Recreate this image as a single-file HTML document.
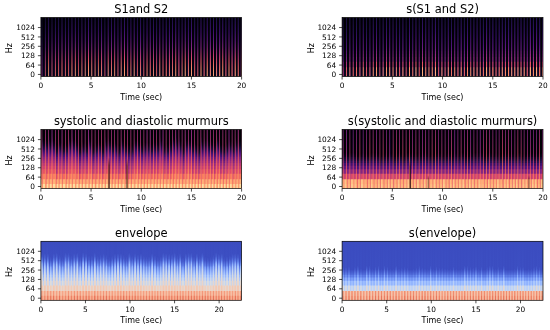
<!DOCTYPE html>
<html><head><meta charset="utf-8"><title>spectrograms</title>
<style>html,body{margin:0;padding:0;background:#fff}body{width:550px;height:330px;overflow:hidden}svg{display:block}text{font-family:'DejaVu Sans','Liberation Sans',sans-serif;fill:#000}</style></head>
<body>
<svg width="550" height="330" viewBox="0 0 550 330">
<rect width="550" height="330" fill="#fff"/>
<defs>
<linearGradient id="dk" x1="0" y1="0" x2="0" y2="1"><stop offset="0" stop-color="#1a0a0c" stop-opacity="0"/><stop offset="0.25" stop-color="#1a0a0c" stop-opacity="0.9"/><stop offset="1" stop-color="#24100c"/></linearGradient>
<linearGradient id="g0_0" x1="0" y1="0" x2="0" y2="1"><stop offset="0.008333" stop-color="#160d38"/><stop offset="0.225" stop-color="#270d51"/><stop offset="0.4083" stop-color="#451163"/><stop offset="0.525" stop-color="#601c68"/><stop offset="0.7083" stop-color="#9c3160"/><stop offset="0.825" stop-color="#b64655"/><stop offset="0.975" stop-color="#c05e56"/><stop offset="0.9917" stop-color="#c05e56"/></linearGradient>
<linearGradient id="g0_1" x1="0" y1="0" x2="0" y2="1"><stop offset="0.008333" stop-color="#000004"/><stop offset="0.625" stop-color="#02010a"/><stop offset="0.9917" stop-color="#050416"/></linearGradient>
<linearGradient id="g0_2" x1="0" y1="0" x2="0" y2="1"><stop offset="0.008333" stop-color="#0e0824"/><stop offset="0.2917" stop-color="#1e083a"/><stop offset="0.525" stop-color="#3d1245"/><stop offset="0.775" stop-color="#6e283e"/><stop offset="0.9917" stop-color="#7b3d40"/></linearGradient>
<linearGradient id="g0_3" x1="0" y1="0" x2="0" y2="1"><stop offset="0.008333" stop-color="#050411"/><stop offset="0.3583" stop-color="#0d0722"/><stop offset="0.6917" stop-color="#280d3d"/><stop offset="0.9917" stop-color="#3d1248"/></linearGradient>
<linearGradient id="g0_4" x1="0" y1="0" x2="0" y2="1"><stop offset="0.008333" stop-color="#0b071e"/><stop offset="0.3417" stop-color="#1c0933"/><stop offset="0.5583" stop-color="#381040"/><stop offset="0.7917" stop-color="#5c2240"/><stop offset="0.9917" stop-color="#663044"/></linearGradient>
<linearGradient id="g0_5" x1="0" y1="0" x2="0" y2="1"><stop offset="0.008333" stop-color="#080415"/><stop offset="0.3917" stop-color="#170625"/><stop offset="0.6417" stop-color="#2f0f29"/><stop offset="0.875" stop-color="#411d28"/><stop offset="0.9917" stop-color="#43242b"/></linearGradient>
<linearGradient id="g0_6" x1="0" y1="0" x2="0" y2="1"><stop offset="0.008333" stop-color="#231150"/><stop offset="0.2083" stop-color="#39106b"/><stop offset="0.375" stop-color="#5c177d"/><stop offset="0.5083" stop-color="#862780"/><stop offset="0.6417" stop-color="#c63e72"/><stop offset="0.7417" stop-color="#e65c63"/><stop offset="0.8417" stop-color="#f38067"/><stop offset="0.9583" stop-color="#f89f76"/><stop offset="0.9917" stop-color="#f89f76"/></linearGradient>
<linearGradient id="g0_7" x1="0" y1="0" x2="0" y2="1"><stop offset="0.008333" stop-color="#110a2d"/><stop offset="0.2583" stop-color="#220b45"/><stop offset="0.4917" stop-color="#431357"/><stop offset="0.675" stop-color="#74245a"/><stop offset="0.825" stop-color="#913653"/><stop offset="0.9917" stop-color="#9c4754"/></linearGradient>
<linearGradient id="g0_8" x1="0" y1="0" x2="0" y2="1"><stop offset="0.008333" stop-color="#1b0d3f"/><stop offset="0.225" stop-color="#2f0c57"/><stop offset="0.3917" stop-color="#4c1462"/><stop offset="0.5083" stop-color="#681f63"/><stop offset="0.6583" stop-color="#9f3456"/><stop offset="0.7583" stop-color="#b54d4d"/><stop offset="0.8583" stop-color="#bd6953"/><stop offset="0.9583" stop-color="#c07f5f"/><stop offset="0.9917" stop-color="#c07f60"/></linearGradient>
<linearGradient id="g0_9" x1="0" y1="0" x2="0" y2="1"><stop offset="0.008333" stop-color="#12092b"/><stop offset="0.2583" stop-color="#23083e"/><stop offset="0.4917" stop-color="#421346"/><stop offset="0.7083" stop-color="#752b3d"/><stop offset="0.8583" stop-color="#814740"/><stop offset="0.975" stop-color="#83564a"/><stop offset="0.9917" stop-color="#83564a"/></linearGradient>
<linearGradient id="g0_10" x1="0" y1="0" x2="0" y2="1"><stop offset="0.008333" stop-color="#04030e"/><stop offset="0.375" stop-color="#0c041c"/><stop offset="0.7917" stop-color="#280d2b"/><stop offset="0.9917" stop-color="#30112f"/></linearGradient>
<linearGradient id="g0_11" x1="0" y1="0" x2="0" y2="1"><stop offset="0.008333" stop-color="#070517"/><stop offset="0.3417" stop-color="#13082a"/><stop offset="0.575" stop-color="#2a0c3e"/><stop offset="0.8583" stop-color="#4b1845"/><stop offset="0.9917" stop-color="#521d46"/></linearGradient>
<linearGradient id="g0_12" x1="0" y1="0" x2="0" y2="1"><stop offset="0.008333" stop-color="#010108"/><stop offset="0.5083" stop-color="#070414"/><stop offset="0.8583" stop-color="#14072a"/><stop offset="0.9917" stop-color="#17082e"/></linearGradient>
<linearGradient id="g0_13" x1="0" y1="0" x2="0" y2="1"><stop offset="0.008333" stop-color="#1c0f44"/><stop offset="0.225" stop-color="#320e60"/><stop offset="0.375" stop-color="#4d1570"/><stop offset="0.5083" stop-color="#712178"/><stop offset="0.6417" stop-color="#a93472"/><stop offset="0.7583" stop-color="#cb4e65"/><stop offset="0.8583" stop-color="#d86967"/><stop offset="0.9583" stop-color="#de8071"/><stop offset="0.9917" stop-color="#de8071"/></linearGradient>
<linearGradient id="g0_14" x1="0" y1="0" x2="0" y2="1"><stop offset="0.008333" stop-color="#170b37"/><stop offset="0.2417" stop-color="#2a0c4e"/><stop offset="0.4083" stop-color="#44145b"/><stop offset="0.525" stop-color="#601c5f"/><stop offset="0.675" stop-color="#8f3055"/><stop offset="0.7917" stop-color="#a24e54"/><stop offset="0.975" stop-color="#aa6c65"/><stop offset="0.9917" stop-color="#aa6c65"/></linearGradient>
<linearGradient id="g0_15" x1="0" y1="0" x2="0" y2="1"><stop offset="0.008333" stop-color="#0a0519"/><stop offset="0.375" stop-color="#1a0827"/><stop offset="0.575" stop-color="#30102b"/><stop offset="0.7583" stop-color="#43202a"/><stop offset="0.9917" stop-color="#48343a"/></linearGradient>
<clipPath id="c0"><rect x="40.90" y="17.55" width="200.70" height="59.00"/></clipPath>
<linearGradient id="g1_0" x1="0" y1="0" x2="0" y2="1"><stop offset="0.008333" stop-color="#000004"/><stop offset="0.6083" stop-color="#010107"/><stop offset="0.825" stop-color="#03030f"/><stop offset="0.8583" stop-color="#070519"/><stop offset="0.9083" stop-color="#070519"/><stop offset="0.9417" stop-color="#09071e"/><stop offset="0.9917" stop-color="#09071e"/></linearGradient>
<linearGradient id="g1_1" x1="0" y1="0" x2="0" y2="1"><stop offset="0.008333" stop-color="#221150"/><stop offset="0.225" stop-color="#37106b"/><stop offset="0.4417" stop-color="#5d177e"/><stop offset="0.525" stop-color="#6e1e81"/><stop offset="0.5417" stop-color="#762181"/><stop offset="0.5583" stop-color="#762181"/><stop offset="0.575" stop-color="#832681"/><stop offset="0.6083" stop-color="#872781"/><stop offset="0.625" stop-color="#942b80"/><stop offset="0.6583" stop-color="#942b80"/><stop offset="0.675" stop-color="#a7327d"/><stop offset="0.725" stop-color="#a7327d"/><stop offset="0.7417" stop-color="#b73a76"/><stop offset="0.7583" stop-color="#e55463"/><stop offset="0.825" stop-color="#e55463"/><stop offset="0.8417" stop-color="#f79271"/><stop offset="0.8583" stop-color="#fda775"/><stop offset="0.9083" stop-color="#fda775"/><stop offset="0.925" stop-color="#fdb07b"/><stop offset="0.9917" stop-color="#fdb07b"/></linearGradient>
<linearGradient id="g1_2" x1="0" y1="0" x2="0" y2="1"><stop offset="0.008333" stop-color="#0d0822"/><stop offset="0.3583" stop-color="#1e0838"/><stop offset="0.5583" stop-color="#300c41"/><stop offset="0.5917" stop-color="#360f43"/><stop offset="0.6417" stop-color="#3d1145"/><stop offset="0.6583" stop-color="#3d1145"/><stop offset="0.675" stop-color="#461546"/><stop offset="0.725" stop-color="#461546"/><stop offset="0.7417" stop-color="#4d1845"/><stop offset="0.7583" stop-color="#622043"/><stop offset="0.825" stop-color="#622043"/><stop offset="0.8417" stop-color="#753645"/><stop offset="0.8583" stop-color="#7b3d45"/><stop offset="0.9083" stop-color="#7b3d45"/><stop offset="0.9583" stop-color="#7e4149"/><stop offset="0.9917" stop-color="#7e4149"/></linearGradient>
<linearGradient id="g1_3" x1="0" y1="0" x2="0" y2="1"><stop offset="0.008333" stop-color="#160e38"/><stop offset="0.2417" stop-color="#241051"/><stop offset="0.5083" stop-color="#491373"/><stop offset="0.5583" stop-color="#511576"/><stop offset="0.575" stop-color="#5b1979"/><stop offset="0.6083" stop-color="#5e1a7a"/><stop offset="0.625" stop-color="#671d7c"/><stop offset="0.6583" stop-color="#671d7c"/><stop offset="0.675" stop-color="#76227e"/><stop offset="0.725" stop-color="#76227e"/><stop offset="0.7417" stop-color="#83267d"/><stop offset="0.7583" stop-color="#a83279"/><stop offset="0.825" stop-color="#a83279"/><stop offset="0.8417" stop-color="#cd4e6b"/><stop offset="0.8583" stop-color="#da5867"/><stop offset="0.9083" stop-color="#da5867"/><stop offset="0.9417" stop-color="#dd5d66"/><stop offset="0.9917" stop-color="#dd5d66"/></linearGradient>
<linearGradient id="g1_4" x1="0" y1="0" x2="0" y2="1"><stop offset="0.008333" stop-color="#130a2f"/><stop offset="0.3083" stop-color="#250b47"/><stop offset="0.525" stop-color="#3e1354"/><stop offset="0.5583" stop-color="#421456"/><stop offset="0.575" stop-color="#4a1759"/><stop offset="0.6083" stop-color="#4d1759"/><stop offset="0.625" stop-color="#551a5b"/><stop offset="0.6583" stop-color="#551a5b"/><stop offset="0.675" stop-color="#611d5d"/><stop offset="0.725" stop-color="#611d5d"/><stop offset="0.7417" stop-color="#6b215c"/><stop offset="0.7583" stop-color="#882d56"/><stop offset="0.825" stop-color="#882d56"/><stop offset="0.8417" stop-color="#9b505e"/><stop offset="0.8583" stop-color="#a15b60"/><stop offset="0.9083" stop-color="#a15b60"/><stop offset="0.9417" stop-color="#a46064"/><stop offset="0.9917" stop-color="#a46064"/></linearGradient>
<linearGradient id="g1_5" x1="0" y1="0" x2="0" y2="1"><stop offset="0.008333" stop-color="#03020b"/><stop offset="0.5583" stop-color="#0a0418"/><stop offset="0.7083" stop-color="#110623"/><stop offset="0.7417" stop-color="#130625"/><stop offset="0.7583" stop-color="#19082a"/><stop offset="0.825" stop-color="#19082a"/><stop offset="0.8417" stop-color="#240d32"/><stop offset="0.9917" stop-color="#2b1039"/></linearGradient>
<linearGradient id="g1_6" x1="0" y1="0" x2="0" y2="1"><stop offset="0.008333" stop-color="#190e3e"/><stop offset="0.2417" stop-color="#2b0d57"/><stop offset="0.4917" stop-color="#4d1569"/><stop offset="0.5417" stop-color="#5a1a6c"/><stop offset="0.5583" stop-color="#5a1a6c"/><stop offset="0.575" stop-color="#641e6e"/><stop offset="0.6083" stop-color="#681f6f"/><stop offset="0.625" stop-color="#712370"/><stop offset="0.6583" stop-color="#712370"/><stop offset="0.675" stop-color="#812870"/><stop offset="0.725" stop-color="#812870"/><stop offset="0.7417" stop-color="#8e2d6d"/><stop offset="0.7583" stop-color="#b53d64"/><stop offset="0.825" stop-color="#b53d64"/><stop offset="0.8417" stop-color="#ca6b6b"/><stop offset="0.8583" stop-color="#d17b6d"/><stop offset="0.9083" stop-color="#d17b6d"/><stop offset="0.925" stop-color="#d38171"/><stop offset="0.9917" stop-color="#d38171"/></linearGradient>
<linearGradient id="g1_7" x1="0" y1="0" x2="0" y2="1"><stop offset="0.008333" stop-color="#1f114a"/><stop offset="0.225" stop-color="#321065"/><stop offset="0.4417" stop-color="#55157c"/><stop offset="0.525" stop-color="#671b80"/><stop offset="0.5417" stop-color="#6e1e81"/><stop offset="0.5583" stop-color="#6e1e81"/><stop offset="0.575" stop-color="#7b2381"/><stop offset="0.6083" stop-color="#7f2481"/><stop offset="0.625" stop-color="#8a2881"/><stop offset="0.6583" stop-color="#8a2881"/><stop offset="0.675" stop-color="#9c2e7e"/><stop offset="0.725" stop-color="#9c2e7e"/><stop offset="0.7417" stop-color="#ab3579"/><stop offset="0.7583" stop-color="#d94a69"/><stop offset="0.825" stop-color="#d94a69"/><stop offset="0.8417" stop-color="#f2806c"/><stop offset="0.8583" stop-color="#fa936c"/><stop offset="0.9083" stop-color="#fa936c"/><stop offset="0.925" stop-color="#fb9a70"/><stop offset="0.9917" stop-color="#fb9a70"/></linearGradient>
<linearGradient id="g1_8" x1="0" y1="0" x2="0" y2="1"><stop offset="0.008333" stop-color="#1d1147"/><stop offset="0.225" stop-color="#2f1162"/><stop offset="0.4417" stop-color="#52137c"/><stop offset="0.525" stop-color="#621980"/><stop offset="0.5417" stop-color="#691c81"/><stop offset="0.5583" stop-color="#691c81"/><stop offset="0.575" stop-color="#752181"/><stop offset="0.6083" stop-color="#792281"/><stop offset="0.625" stop-color="#832681"/><stop offset="0.6583" stop-color="#832681"/><stop offset="0.675" stop-color="#952c80"/><stop offset="0.725" stop-color="#952c80"/><stop offset="0.7417" stop-color="#a5327b"/><stop offset="0.7583" stop-color="#d3436e"/><stop offset="0.825" stop-color="#d3436e"/><stop offset="0.8417" stop-color="#f17464"/><stop offset="0.8583" stop-color="#fb8461"/><stop offset="0.9083" stop-color="#fb8461"/><stop offset="0.925" stop-color="#fc8c64"/><stop offset="0.9917" stop-color="#fc8c64"/></linearGradient>
<linearGradient id="g1_9" x1="0" y1="0" x2="0" y2="1"><stop offset="0.008333" stop-color="#0f0927"/><stop offset="0.325" stop-color="#1e0a40"/><stop offset="0.5583" stop-color="#360f50"/><stop offset="0.575" stop-color="#3d1253"/><stop offset="0.6083" stop-color="#3f1254"/><stop offset="0.625" stop-color="#451556"/><stop offset="0.6583" stop-color="#451556"/><stop offset="0.675" stop-color="#501859"/><stop offset="0.725" stop-color="#501859"/><stop offset="0.7417" stop-color="#581b59"/><stop offset="0.7583" stop-color="#722359"/><stop offset="0.825" stop-color="#722359"/><stop offset="0.8417" stop-color="#8c3856"/><stop offset="0.8583" stop-color="#953e55"/><stop offset="0.9083" stop-color="#953e55"/><stop offset="0.9583" stop-color="#984357"/><stop offset="0.9917" stop-color="#984357"/></linearGradient>
<linearGradient id="g1_10" x1="0" y1="0" x2="0" y2="1"><stop offset="0.008333" stop-color="#140c33"/><stop offset="0.2917" stop-color="#260c4e"/><stop offset="0.525" stop-color="#441160"/><stop offset="0.5583" stop-color="#491361"/><stop offset="0.575" stop-color="#521763"/><stop offset="0.6083" stop-color="#551863"/><stop offset="0.625" stop-color="#5d1b64"/><stop offset="0.6583" stop-color="#5d1b64"/><stop offset="0.675" stop-color="#691f65"/><stop offset="0.725" stop-color="#691f65"/><stop offset="0.7417" stop-color="#742363"/><stop offset="0.7583" stop-color="#95305d"/><stop offset="0.825" stop-color="#95305d"/><stop offset="0.8417" stop-color="#b04f58"/><stop offset="0.8583" stop-color="#b95957"/><stop offset="0.9083" stop-color="#b95957"/><stop offset="0.9417" stop-color="#bc5e59"/><stop offset="0.9917" stop-color="#bc5e59"/></linearGradient>
<linearGradient id="g1_11" x1="0" y1="0" x2="0" y2="1"><stop offset="0.008333" stop-color="#070414"/><stop offset="0.525" stop-color="#170624"/><stop offset="0.6583" stop-color="#210a29"/><stop offset="0.6917" stop-color="#250c2c"/><stop offset="0.7417" stop-color="#290e2c"/><stop offset="0.7583" stop-color="#35132d"/><stop offset="0.825" stop-color="#35132d"/><stop offset="0.8417" stop-color="#421f33"/><stop offset="0.8917" stop-color="#462335"/><stop offset="0.975" stop-color="#49263a"/><stop offset="0.9917" stop-color="#49263a"/></linearGradient>
<linearGradient id="g1_12" x1="0" y1="0" x2="0" y2="1"><stop offset="0.008333" stop-color="#130c33"/><stop offset="0.2583" stop-color="#220e4c"/><stop offset="0.5083" stop-color="#421168"/><stop offset="0.5583" stop-color="#49146a"/><stop offset="0.575" stop-color="#52186d"/><stop offset="0.6083" stop-color="#55196e"/><stop offset="0.625" stop-color="#5d1c70"/><stop offset="0.6583" stop-color="#5d1c70"/><stop offset="0.675" stop-color="#6b2172"/><stop offset="0.725" stop-color="#6b2172"/><stop offset="0.7417" stop-color="#762572"/><stop offset="0.7583" stop-color="#992f72"/><stop offset="0.825" stop-color="#992f72"/><stop offset="0.8417" stop-color="#bc4768"/><stop offset="0.8583" stop-color="#c84f64"/><stop offset="0.9083" stop-color="#c84f64"/><stop offset="0.9417" stop-color="#cb5464"/><stop offset="0.9917" stop-color="#cb5464"/></linearGradient>
<linearGradient id="g1_13" x1="0" y1="0" x2="0" y2="1"><stop offset="0.008333" stop-color="#0a071e"/><stop offset="0.3083" stop-color="#130b30"/><stop offset="0.5583" stop-color="#270b4a"/><stop offset="0.6417" stop-color="#330f52"/><stop offset="0.6583" stop-color="#330f52"/><stop offset="0.675" stop-color="#3b1257"/><stop offset="0.725" stop-color="#3b1257"/><stop offset="0.7417" stop-color="#421359"/><stop offset="0.7583" stop-color="#561960"/><stop offset="0.825" stop-color="#561960"/><stop offset="0.8417" stop-color="#702260"/><stop offset="0.8583" stop-color="#792461"/><stop offset="0.9083" stop-color="#792461"/><stop offset="0.9417" stop-color="#7e2662"/><stop offset="0.9917" stop-color="#7e2662"/></linearGradient>
<linearGradient id="g1_14" x1="0" y1="0" x2="0" y2="1"><stop offset="0.008333" stop-color="#0a061c"/><stop offset="0.4583" stop-color="#1c0931"/><stop offset="0.6083" stop-color="#2b0d3b"/><stop offset="0.6583" stop-color="#2f0e3d"/><stop offset="0.675" stop-color="#361041"/><stop offset="0.725" stop-color="#361041"/><stop offset="0.7417" stop-color="#3c1341"/><stop offset="0.7583" stop-color="#4e1942"/><stop offset="0.825" stop-color="#4e1942"/><stop offset="0.8417" stop-color="#5e2a48"/><stop offset="0.875" stop-color="#63304a"/><stop offset="0.9917" stop-color="#66344e"/></linearGradient>
<linearGradient id="g1_15" x1="0" y1="0" x2="0" y2="1"><stop offset="0.008333" stop-color="#170d38"/><stop offset="0.2583" stop-color="#280c51"/><stop offset="0.5083" stop-color="#4a1362"/><stop offset="0.5583" stop-color="#521663"/><stop offset="0.575" stop-color="#5b1a65"/><stop offset="0.6083" stop-color="#5e1b65"/><stop offset="0.625" stop-color="#671e65"/><stop offset="0.6583" stop-color="#671e65"/><stop offset="0.675" stop-color="#752365"/><stop offset="0.725" stop-color="#752365"/><stop offset="0.7417" stop-color="#802862"/><stop offset="0.7583" stop-color="#a43759"/><stop offset="0.825" stop-color="#a43759"/><stop offset="0.8417" stop-color="#ba5f5a"/><stop offset="0.8583" stop-color="#c16d5b"/><stop offset="0.9083" stop-color="#c16d5b"/><stop offset="0.925" stop-color="#c3735f"/><stop offset="0.9917" stop-color="#c3735f"/></linearGradient>
<linearGradient id="g1_16" x1="0" y1="0" x2="0" y2="1"><stop offset="0.008333" stop-color="#110b2e"/><stop offset="0.2583" stop-color="#1f0d44"/><stop offset="0.525" stop-color="#3d0e5d"/><stop offset="0.5583" stop-color="#42105f"/><stop offset="0.575" stop-color="#491361"/><stop offset="0.6083" stop-color="#4c1461"/><stop offset="0.625" stop-color="#531763"/><stop offset="0.6583" stop-color="#531763"/><stop offset="0.675" stop-color="#5f1c64"/><stop offset="0.725" stop-color="#5f1c64"/><stop offset="0.7417" stop-color="#691f63"/><stop offset="0.7583" stop-color="#87295f"/><stop offset="0.825" stop-color="#87295f"/><stop offset="0.8417" stop-color="#a63f55"/><stop offset="0.8583" stop-color="#b14652"/><stop offset="0.9083" stop-color="#b14652"/><stop offset="0.9417" stop-color="#b54b52"/><stop offset="0.9917" stop-color="#b54b52"/></linearGradient>
<linearGradient id="g1_17" x1="0" y1="0" x2="0" y2="1"><stop offset="0.008333" stop-color="#100928"/><stop offset="0.3417" stop-color="#23083d"/><stop offset="0.5583" stop-color="#381044"/><stop offset="0.575" stop-color="#3f1246"/><stop offset="0.6083" stop-color="#411346"/><stop offset="0.6417" stop-color="#471547"/><stop offset="0.6583" stop-color="#471547"/><stop offset="0.675" stop-color="#511948"/><stop offset="0.725" stop-color="#511948"/><stop offset="0.7417" stop-color="#591d46"/><stop offset="0.7583" stop-color="#712740"/><stop offset="0.825" stop-color="#712740"/><stop offset="0.8417" stop-color="#814647"/><stop offset="0.8583" stop-color="#86504a"/><stop offset="0.9083" stop-color="#86504a"/><stop offset="0.9417" stop-color="#88554f"/><stop offset="0.9917" stop-color="#88554f"/></linearGradient>
<linearGradient id="g1_18" x1="0" y1="0" x2="0" y2="1"><stop offset="0.008333" stop-color="#190f3f"/><stop offset="0.225" stop-color="#281158"/><stop offset="0.4583" stop-color="#491276"/><stop offset="0.5417" stop-color="#5d187d"/><stop offset="0.5583" stop-color="#5d187d"/><stop offset="0.575" stop-color="#671c7f"/><stop offset="0.6083" stop-color="#6b1d7f"/><stop offset="0.625" stop-color="#752180"/><stop offset="0.6583" stop-color="#752180"/><stop offset="0.675" stop-color="#852680"/><stop offset="0.725" stop-color="#852680"/><stop offset="0.7417" stop-color="#922b7e"/><stop offset="0.7583" stop-color="#bc3975"/><stop offset="0.825" stop-color="#bc3975"/><stop offset="0.8417" stop-color="#e05e67"/><stop offset="0.8583" stop-color="#ec6a62"/><stop offset="0.9083" stop-color="#ec6a62"/><stop offset="0.925" stop-color="#ee7163"/><stop offset="0.9917" stop-color="#ee7163"/></linearGradient>
<linearGradient id="g1_19" x1="0" y1="0" x2="0" y2="1"><stop offset="0.008333" stop-color="#13092d"/><stop offset="0.325" stop-color="#260940"/><stop offset="0.525" stop-color="#3d1246"/><stop offset="0.5583" stop-color="#411347"/><stop offset="0.575" stop-color="#481648"/><stop offset="0.6083" stop-color="#4a1748"/><stop offset="0.625" stop-color="#511949"/><stop offset="0.6583" stop-color="#511949"/><stop offset="0.675" stop-color="#5d1d49"/><stop offset="0.725" stop-color="#5d1d49"/><stop offset="0.7417" stop-color="#652347"/><stop offset="0.7583" stop-color="#7e343f"/><stop offset="0.825" stop-color="#7e343f"/><stop offset="0.8417" stop-color="#875957"/><stop offset="0.8583" stop-color="#8a665e"/><stop offset="0.9083" stop-color="#8a665e"/><stop offset="0.925" stop-color="#8c6a66"/><stop offset="0.9917" stop-color="#8c6a66"/></linearGradient>
<clipPath id="c1"><rect x="342.10" y="17.55" width="200.90" height="59.00"/></clipPath>
<linearGradient id="g2_0" x1="0" y1="0" x2="0" y2="1"><stop offset="0.008333" stop-color="#000004"/><stop offset="0.2583" stop-color="#010106"/><stop offset="0.325" stop-color="#060519"/><stop offset="0.375" stop-color="#120d32"/><stop offset="0.4417" stop-color="#38106c"/><stop offset="0.4583" stop-color="#400f73"/><stop offset="0.475" stop-color="#53137c"/><stop offset="0.4917" stop-color="#58157d"/><stop offset="0.5083" stop-color="#671b80"/><stop offset="0.525" stop-color="#6c1d81"/><stop offset="0.5417" stop-color="#7d2482"/><stop offset="0.5583" stop-color="#7d2482"/><stop offset="0.575" stop-color="#942c80"/><stop offset="0.5917" stop-color="#942c80"/><stop offset="0.6083" stop-color="#9b2e7f"/><stop offset="0.625" stop-color="#b0357b"/><stop offset="0.6583" stop-color="#b0357b"/><stop offset="0.675" stop-color="#c73d73"/><stop offset="0.6917" stop-color="#ce4070"/><stop offset="0.725" stop-color="#ce4070"/><stop offset="0.7417" stop-color="#d74a6b"/><stop offset="0.7583" stop-color="#f4675c"/><stop offset="0.825" stop-color="#f4675c"/><stop offset="0.8417" stop-color="#fc9c70"/><stop offset="0.8583" stop-color="#fead76"/><stop offset="0.9083" stop-color="#fead76"/><stop offset="0.925" stop-color="#fddea0"/><stop offset="0.9917" stop-color="#fddea0"/></linearGradient>
<linearGradient id="g2_1" x1="0" y1="0" x2="0" y2="1"><stop offset="0.008333" stop-color="#2a0d24"/><stop offset="0.125" stop-color="#301029"/><stop offset="0.2083" stop-color="#3d1641"/><stop offset="0.275" stop-color="#551c5f"/><stop offset="0.325" stop-color="#6f2172"/><stop offset="0.4083" stop-color="#942d79"/><stop offset="0.5083" stop-color="#b63d74"/><stop offset="0.5417" stop-color="#bf4271"/><stop offset="0.5583" stop-color="#bf4271"/><stop offset="0.575" stop-color="#ca486f"/><stop offset="0.6083" stop-color="#cc4b6e"/><stop offset="0.625" stop-color="#d4516c"/><stop offset="0.6583" stop-color="#d4516c"/><stop offset="0.6917" stop-color="#de5d6a"/><stop offset="0.7417" stop-color="#e1616a"/><stop offset="0.7583" stop-color="#e96d6a"/><stop offset="0.825" stop-color="#e96d6a"/><stop offset="0.8417" stop-color="#f1786a"/><stop offset="0.9083" stop-color="#f37c69"/><stop offset="0.925" stop-color="#fa926e"/><stop offset="0.9917" stop-color="#fa926e"/></linearGradient>
<linearGradient id="g2_2" x1="0" y1="0" x2="0" y2="1"><stop offset="0.008333" stop-color="#5d1e51"/><stop offset="0.1583" stop-color="#6d2159"/><stop offset="0.275" stop-color="#8b2b6d"/><stop offset="0.3417" stop-color="#a43274"/><stop offset="0.475" stop-color="#cd486c"/><stop offset="0.5583" stop-color="#da5267"/><stop offset="0.575" stop-color="#e15a65"/><stop offset="0.6083" stop-color="#e25d65"/><stop offset="0.625" stop-color="#e76464"/><stop offset="0.6583" stop-color="#e76464"/><stop offset="0.675" stop-color="#ec6d64"/><stop offset="0.7417" stop-color="#ef7566"/><stop offset="0.7583" stop-color="#f38169"/><stop offset="0.825" stop-color="#f38169"/><stop offset="0.8417" stop-color="#f78b6b"/><stop offset="0.9083" stop-color="#f88e6c"/><stop offset="0.925" stop-color="#fb9e72"/><stop offset="0.9917" stop-color="#fb9e72"/></linearGradient>
<linearGradient id="g2_3" x1="0" y1="0" x2="0" y2="1"><stop offset="0.008333" stop-color="#290c22"/><stop offset="0.275" stop-color="#321023"/><stop offset="0.3417" stop-color="#3b1634"/><stop offset="0.3917" stop-color="#491d49"/><stop offset="0.4417" stop-color="#622069"/><stop offset="0.4583" stop-color="#68206e"/><stop offset="0.475" stop-color="#772375"/><stop offset="0.4917" stop-color="#7b2576"/><stop offset="0.5083" stop-color="#872a78"/><stop offset="0.525" stop-color="#8b2c78"/><stop offset="0.5417" stop-color="#993278"/><stop offset="0.5583" stop-color="#993278"/><stop offset="0.575" stop-color="#ac3a77"/><stop offset="0.6083" stop-color="#b13d76"/><stop offset="0.625" stop-color="#c14473"/><stop offset="0.6583" stop-color="#c14473"/><stop offset="0.675" stop-color="#d34c6e"/><stop offset="0.7083" stop-color="#d84f6c"/><stop offset="0.725" stop-color="#d84f6c"/><stop offset="0.7417" stop-color="#e05868"/><stop offset="0.7583" stop-color="#f6715e"/><stop offset="0.825" stop-color="#f6715e"/><stop offset="0.8417" stop-color="#fc9a6e"/><stop offset="0.8583" stop-color="#fea873"/><stop offset="0.9083" stop-color="#fea873"/><stop offset="0.925" stop-color="#fdcf94"/><stop offset="0.9917" stop-color="#fdcf94"/></linearGradient>
<linearGradient id="g2_4" x1="0" y1="0" x2="0" y2="1"><stop offset="0.008333" stop-color="#000004"/><stop offset="0.2083" stop-color="#010106"/><stop offset="0.275" stop-color="#060517"/><stop offset="0.3417" stop-color="#180e3d"/><stop offset="0.3917" stop-color="#341165"/><stop offset="0.425" stop-color="#4c1277"/><stop offset="0.4583" stop-color="#5f187e"/><stop offset="0.475" stop-color="#711f81"/><stop offset="0.4917" stop-color="#752081"/><stop offset="0.5083" stop-color="#832681"/><stop offset="0.525" stop-color="#882781"/><stop offset="0.5417" stop-color="#972d80"/><stop offset="0.5583" stop-color="#972d80"/><stop offset="0.575" stop-color="#ad347b"/><stop offset="0.6083" stop-color="#b3367a"/><stop offset="0.625" stop-color="#c53c74"/><stop offset="0.6583" stop-color="#c53c74"/><stop offset="0.675" stop-color="#d9486a"/><stop offset="0.6917" stop-color="#df4b67"/><stop offset="0.725" stop-color="#df4b67"/><stop offset="0.7417" stop-color="#e55665"/><stop offset="0.7583" stop-color="#f8755d"/><stop offset="0.825" stop-color="#f8755d"/><stop offset="0.8417" stop-color="#fda272"/><stop offset="0.8583" stop-color="#feb179"/><stop offset="0.9083" stop-color="#feb179"/><stop offset="0.925" stop-color="#fddea0"/><stop offset="0.9917" stop-color="#fddea0"/></linearGradient>
<linearGradient id="g2_5" x1="0" y1="0" x2="0" y2="1"><stop offset="0.008333" stop-color="#541940"/><stop offset="0.2917" stop-color="#67203e"/><stop offset="0.3917" stop-color="#792b51"/><stop offset="0.4583" stop-color="#913168"/><stop offset="0.475" stop-color="#9b346d"/><stop offset="0.525" stop-color="#ab3c6f"/><stop offset="0.5417" stop-color="#b4426f"/><stop offset="0.5583" stop-color="#b4426f"/><stop offset="0.575" stop-color="#c24a6e"/><stop offset="0.6083" stop-color="#c64c6e"/><stop offset="0.625" stop-color="#d1536c"/><stop offset="0.6583" stop-color="#d1536c"/><stop offset="0.675" stop-color="#de5c69"/><stop offset="0.725" stop-color="#e25f68"/><stop offset="0.7417" stop-color="#e76566"/><stop offset="0.7583" stop-color="#f87a60"/><stop offset="0.825" stop-color="#f87a60"/><stop offset="0.8417" stop-color="#fc996c"/><stop offset="0.8583" stop-color="#fea370"/><stop offset="0.9083" stop-color="#fea370"/><stop offset="0.925" stop-color="#fec087"/><stop offset="0.9917" stop-color="#fec087"/></linearGradient>
<linearGradient id="g2_6" x1="0" y1="0" x2="0" y2="1"><stop offset="0.008333" stop-color="#000004"/><stop offset="0.1083" stop-color="#020109"/><stop offset="0.175" stop-color="#09061c"/><stop offset="0.2417" stop-color="#1e0d43"/><stop offset="0.2917" stop-color="#381262"/><stop offset="0.3583" stop-color="#60197c"/><stop offset="0.475" stop-color="#982d7f"/><stop offset="0.4917" stop-color="#9b2e7f"/><stop offset="0.5417" stop-color="#b1357a"/><stop offset="0.5583" stop-color="#b1357a"/><stop offset="0.575" stop-color="#bf3a76"/><stop offset="0.6083" stop-color="#c33c74"/><stop offset="0.625" stop-color="#ce4170"/><stop offset="0.6583" stop-color="#ce4170"/><stop offset="0.675" stop-color="#da4a6a"/><stop offset="0.725" stop-color="#de4d68"/><stop offset="0.7417" stop-color="#e25266"/><stop offset="0.7583" stop-color="#ed6162"/><stop offset="0.825" stop-color="#ed6162"/><stop offset="0.8417" stop-color="#f37364"/><stop offset="0.875" stop-color="#f57965"/><stop offset="0.9083" stop-color="#f57965"/><stop offset="0.925" stop-color="#fa9770"/><stop offset="0.9917" stop-color="#fa9770"/></linearGradient>
<linearGradient id="g2_7" x1="0" y1="0" x2="0" y2="1"><stop offset="0.008333" stop-color="#000004"/><stop offset="0.1917" stop-color="#010106"/><stop offset="0.2583" stop-color="#060518"/><stop offset="0.325" stop-color="#170e3b"/><stop offset="0.3917" stop-color="#38116a"/><stop offset="0.425" stop-color="#4d1278"/><stop offset="0.4583" stop-color="#5d177e"/><stop offset="0.475" stop-color="#6b1d80"/><stop offset="0.4917" stop-color="#6f1e81"/><stop offset="0.5083" stop-color="#7b2381"/><stop offset="0.525" stop-color="#7f2481"/><stop offset="0.5417" stop-color="#8c2980"/><stop offset="0.5583" stop-color="#8c2980"/><stop offset="0.575" stop-color="#9e2f7e"/><stop offset="0.6083" stop-color="#a3307d"/><stop offset="0.625" stop-color="#b13679"/><stop offset="0.6583" stop-color="#b13679"/><stop offset="0.675" stop-color="#c23e73"/><stop offset="0.7083" stop-color="#c74071"/><stop offset="0.725" stop-color="#c74071"/><stop offset="0.7417" stop-color="#ce476f"/><stop offset="0.7583" stop-color="#e15a68"/><stop offset="0.825" stop-color="#e15a68"/><stop offset="0.8417" stop-color="#ef786c"/><stop offset="0.8583" stop-color="#f3826d"/><stop offset="0.9083" stop-color="#f3826d"/><stop offset="0.925" stop-color="#faa77e"/><stop offset="0.9917" stop-color="#faa77e"/></linearGradient>
<linearGradient id="g2_8" x1="0" y1="0" x2="0" y2="1"><stop offset="0.008333" stop-color="#7a245f"/><stop offset="0.2083" stop-color="#8f2c62"/><stop offset="0.3583" stop-color="#b73a6f"/><stop offset="0.5083" stop-color="#d85166"/><stop offset="0.5583" stop-color="#de5765"/><stop offset="0.575" stop-color="#e35e64"/><stop offset="0.6083" stop-color="#e56064"/><stop offset="0.625" stop-color="#e96763"/><stop offset="0.6583" stop-color="#e96763"/><stop offset="0.6917" stop-color="#ef7163"/><stop offset="0.7417" stop-color="#f17564"/><stop offset="0.7583" stop-color="#f58066"/><stop offset="0.825" stop-color="#f58066"/><stop offset="0.8417" stop-color="#f98967"/><stop offset="0.9083" stop-color="#fa8c68"/><stop offset="0.925" stop-color="#fc9a6c"/><stop offset="0.9917" stop-color="#fc9a6c"/></linearGradient>
<linearGradient id="g2_9" x1="0" y1="0" x2="0" y2="1"><stop offset="0.008333" stop-color="#290c22"/><stop offset="0.2083" stop-color="#300f25"/><stop offset="0.275" stop-color="#3a1536"/><stop offset="0.375" stop-color="#5b1e63"/><stop offset="0.425" stop-color="#732272"/><stop offset="0.475" stop-color="#8a2b78"/><stop offset="0.525" stop-color="#983278"/><stop offset="0.5417" stop-color="#a23677"/><stop offset="0.5583" stop-color="#a23677"/><stop offset="0.575" stop-color="#ae3c76"/><stop offset="0.6083" stop-color="#b23e75"/><stop offset="0.625" stop-color="#bc4373"/><stop offset="0.6583" stop-color="#bc4373"/><stop offset="0.675" stop-color="#c84a70"/><stop offset="0.7417" stop-color="#d0516e"/><stop offset="0.7583" stop-color="#df5e6b"/><stop offset="0.825" stop-color="#df5e6b"/><stop offset="0.8417" stop-color="#ed7169"/><stop offset="0.8583" stop-color="#f27868"/><stop offset="0.9083" stop-color="#f27868"/><stop offset="0.925" stop-color="#fa926e"/><stop offset="0.9917" stop-color="#fa926e"/></linearGradient>
<linearGradient id="g2_10" x1="0" y1="0" x2="0" y2="1"><stop offset="0.008333" stop-color="#2a0c22"/><stop offset="0.1917" stop-color="#2f0f24"/><stop offset="0.275" stop-color="#3a1637"/><stop offset="0.3417" stop-color="#501d58"/><stop offset="0.375" stop-color="#611e6a"/><stop offset="0.425" stop-color="#7e2577"/><stop offset="0.4583" stop-color="#8e2c79"/><stop offset="0.475" stop-color="#9b3279"/><stop offset="0.4917" stop-color="#9f3378"/><stop offset="0.5083" stop-color="#a93877"/><stop offset="0.525" stop-color="#ad3977"/><stop offset="0.5417" stop-color="#b83e75"/><stop offset="0.5583" stop-color="#b83e75"/><stop offset="0.575" stop-color="#c84571"/><stop offset="0.6083" stop-color="#cd476f"/><stop offset="0.625" stop-color="#da4f6a"/><stop offset="0.6583" stop-color="#da4f6a"/><stop offset="0.675" stop-color="#e75a64"/><stop offset="0.725" stop-color="#ec5e62"/><stop offset="0.7417" stop-color="#ef6761"/><stop offset="0.7583" stop-color="#fa8160"/><stop offset="0.825" stop-color="#fa8160"/><stop offset="0.8417" stop-color="#fda170"/><stop offset="0.8583" stop-color="#feac76"/><stop offset="0.9083" stop-color="#feac76"/><stop offset="0.925" stop-color="#fdcf94"/><stop offset="0.9917" stop-color="#fdcf94"/></linearGradient>
<linearGradient id="g2_11" x1="0" y1="0" x2="0" y2="1"><stop offset="0.008333" stop-color="#4f1741"/><stop offset="0.225" stop-color="#5d1d42"/><stop offset="0.3417" stop-color="#75285a"/><stop offset="0.425" stop-color="#922e6d"/><stop offset="0.475" stop-color="#a43670"/><stop offset="0.5417" stop-color="#b6426f"/><stop offset="0.5583" stop-color="#b6426f"/><stop offset="0.575" stop-color="#c0496e"/><stop offset="0.6083" stop-color="#c24b6e"/><stop offset="0.625" stop-color="#ca516d"/><stop offset="0.6583" stop-color="#ca516d"/><stop offset="0.6917" stop-color="#d55a6c"/><stop offset="0.7417" stop-color="#d95d6c"/><stop offset="0.7583" stop-color="#e5686a"/><stop offset="0.825" stop-color="#e5686a"/><stop offset="0.8417" stop-color="#f17767"/><stop offset="0.875" stop-color="#f57c65"/><stop offset="0.9083" stop-color="#f57c65"/><stop offset="0.925" stop-color="#fb9168"/><stop offset="0.9917" stop-color="#fb9168"/></linearGradient>
<linearGradient id="g2_12" x1="0" y1="0" x2="0" y2="1"><stop offset="0.008333" stop-color="#782360"/><stop offset="0.2417" stop-color="#8e2b5c"/><stop offset="0.375" stop-color="#a93765"/><stop offset="0.475" stop-color="#c94669"/><stop offset="0.5583" stop-color="#d85366"/><stop offset="0.575" stop-color="#e05a64"/><stop offset="0.6083" stop-color="#e25d64"/><stop offset="0.625" stop-color="#e96463"/><stop offset="0.6583" stop-color="#e96463"/><stop offset="0.6917" stop-color="#f17061"/><stop offset="0.725" stop-color="#f17061"/><stop offset="0.7417" stop-color="#f47662"/><stop offset="0.7583" stop-color="#fa8662"/><stop offset="0.825" stop-color="#fa8662"/><stop offset="0.8417" stop-color="#fd976a"/><stop offset="0.875" stop-color="#fd9d6c"/><stop offset="0.9083" stop-color="#fd9d6c"/><stop offset="0.925" stop-color="#feb07a"/><stop offset="0.9917" stop-color="#feb07a"/></linearGradient>
<linearGradient id="g2_13" x1="0" y1="0" x2="0" y2="1"><stop offset="0.008333" stop-color="#000004"/><stop offset="0.225" stop-color="#010106"/><stop offset="0.275" stop-color="#040311"/><stop offset="0.375" stop-color="#1c1045"/><stop offset="0.425" stop-color="#38106b"/><stop offset="0.4583" stop-color="#4a1178"/><stop offset="0.475" stop-color="#59167d"/><stop offset="0.4917" stop-color="#5d177e"/><stop offset="0.5083" stop-color="#6a1c80"/><stop offset="0.525" stop-color="#6e1e80"/><stop offset="0.5417" stop-color="#7b2381"/><stop offset="0.5583" stop-color="#7b2381"/><stop offset="0.575" stop-color="#8f2a80"/><stop offset="0.6083" stop-color="#942b7f"/><stop offset="0.625" stop-color="#a3317c"/><stop offset="0.6583" stop-color="#a3317c"/><stop offset="0.675" stop-color="#b53877"/><stop offset="0.7083" stop-color="#bb3a75"/><stop offset="0.725" stop-color="#bb3a75"/><stop offset="0.7417" stop-color="#c34072"/><stop offset="0.7583" stop-color="#da5369"/><stop offset="0.825" stop-color="#da5369"/><stop offset="0.8417" stop-color="#ec736c"/><stop offset="0.8583" stop-color="#f27e6c"/><stop offset="0.9083" stop-color="#f27e6c"/><stop offset="0.925" stop-color="#faa47c"/><stop offset="0.9917" stop-color="#faa47c"/></linearGradient>
<linearGradient id="g2_14" x1="0" y1="0" x2="0" y2="1"><stop offset="0.008333" stop-color="#3a1040"/><stop offset="0.175" stop-color="#441343"/><stop offset="0.275" stop-color="#591e57"/><stop offset="0.3583" stop-color="#7d2573"/><stop offset="0.475" stop-color="#aa3774"/><stop offset="0.5417" stop-color="#bc4171"/><stop offset="0.5583" stop-color="#bc4171"/><stop offset="0.575" stop-color="#c6486f"/><stop offset="0.6083" stop-color="#c94a6e"/><stop offset="0.625" stop-color="#d0506c"/><stop offset="0.6583" stop-color="#d0506c"/><stop offset="0.6917" stop-color="#da5b6b"/><stop offset="0.7417" stop-color="#dd5f6b"/><stop offset="0.7583" stop-color="#e76b6a"/><stop offset="0.825" stop-color="#e76b6a"/><stop offset="0.8417" stop-color="#f17868"/><stop offset="0.8917" stop-color="#f47c68"/><stop offset="0.9083" stop-color="#f47c68"/><stop offset="0.925" stop-color="#fa916b"/><stop offset="0.9917" stop-color="#fa916b"/></linearGradient>
<linearGradient id="g2_15" x1="0" y1="0" x2="0" y2="1"><stop offset="0.008333" stop-color="#000004"/><stop offset="0.1917" stop-color="#010107"/><stop offset="0.275" stop-color="#0a0822"/><stop offset="0.3417" stop-color="#22104e"/><stop offset="0.375" stop-color="#341066"/><stop offset="0.4083" stop-color="#4b1278"/><stop offset="0.4583" stop-color="#671b80"/><stop offset="0.475" stop-color="#762181"/><stop offset="0.4917" stop-color="#7a2381"/><stop offset="0.5083" stop-color="#862781"/><stop offset="0.525" stop-color="#8b2881"/><stop offset="0.5417" stop-color="#982d7f"/><stop offset="0.5583" stop-color="#982d7f"/><stop offset="0.575" stop-color="#ac337c"/><stop offset="0.6083" stop-color="#b1357a"/><stop offset="0.625" stop-color="#c13b75"/><stop offset="0.6583" stop-color="#c13b75"/><stop offset="0.675" stop-color="#d2456d"/><stop offset="0.7083" stop-color="#d8486a"/><stop offset="0.725" stop-color="#d8486a"/><stop offset="0.7417" stop-color="#dd5168"/><stop offset="0.7583" stop-color="#ee6962"/><stop offset="0.825" stop-color="#ee6962"/><stop offset="0.8417" stop-color="#f68d6f"/><stop offset="0.8583" stop-color="#f89973"/><stop offset="0.9083" stop-color="#f89973"/><stop offset="0.925" stop-color="#fbc08e"/><stop offset="0.9917" stop-color="#fbc08e"/></linearGradient>
<linearGradient id="g2_16" x1="0" y1="0" x2="0" y2="1"><stop offset="0.008333" stop-color="#2a0c22"/><stop offset="0.275" stop-color="#331023"/><stop offset="0.3917" stop-color="#441b3f"/><stop offset="0.4583" stop-color="#5a215e"/><stop offset="0.475" stop-color="#662268"/><stop offset="0.4917" stop-color="#69236b"/><stop offset="0.5083" stop-color="#742471"/><stop offset="0.525" stop-color="#772672"/><stop offset="0.5417" stop-color="#832a76"/><stop offset="0.5583" stop-color="#832a76"/><stop offset="0.575" stop-color="#923177"/><stop offset="0.6083" stop-color="#963377"/><stop offset="0.625" stop-color="#a33a77"/><stop offset="0.6583" stop-color="#a33a77"/><stop offset="0.675" stop-color="#b04176"/><stop offset="0.725" stop-color="#b54375"/><stop offset="0.7417" stop-color="#bc4774"/><stop offset="0.7583" stop-color="#d3556f"/><stop offset="0.825" stop-color="#d3556f"/><stop offset="0.8417" stop-color="#e96c69"/><stop offset="0.8583" stop-color="#f07368"/><stop offset="0.9083" stop-color="#f07368"/><stop offset="0.925" stop-color="#fa916c"/><stop offset="0.9917" stop-color="#fa916c"/></linearGradient>
<linearGradient id="g2_17" x1="0" y1="0" x2="0" y2="1"><stop offset="0.008333" stop-color="#4f1741"/><stop offset="0.1917" stop-color="#5b1c43"/><stop offset="0.2917" stop-color="#71265a"/><stop offset="0.3583" stop-color="#8c2b70"/><stop offset="0.4583" stop-color="#b43c72"/><stop offset="0.475" stop-color="#be4170"/><stop offset="0.5417" stop-color="#d24c6b"/><stop offset="0.5583" stop-color="#d24c6b"/><stop offset="0.575" stop-color="#de5467"/><stop offset="0.6083" stop-color="#e15766"/><stop offset="0.625" stop-color="#ea5f63"/><stop offset="0.6583" stop-color="#ea5f63"/><stop offset="0.675" stop-color="#f26b60"/><stop offset="0.725" stop-color="#f56f5f"/><stop offset="0.7417" stop-color="#f67660"/><stop offset="0.7583" stop-color="#fc8b63"/><stop offset="0.825" stop-color="#fc8b63"/><stop offset="0.8417" stop-color="#fda16f"/><stop offset="0.8583" stop-color="#fea873"/><stop offset="0.9083" stop-color="#fea873"/><stop offset="0.925" stop-color="#fec288"/><stop offset="0.9917" stop-color="#fec288"/></linearGradient>
<linearGradient id="g2_18" x1="0" y1="0" x2="0" y2="1"><stop offset="0.008333" stop-color="#000004"/><stop offset="0.1917" stop-color="#010107"/><stop offset="0.275" stop-color="#0b0823"/><stop offset="0.325" stop-color="#1b0f42"/><stop offset="0.3583" stop-color="#301161"/><stop offset="0.4083" stop-color="#51137b"/><stop offset="0.4583" stop-color="#6f1e81"/><stop offset="0.475" stop-color="#802581"/><stop offset="0.4917" stop-color="#842681"/><stop offset="0.5083" stop-color="#912b80"/><stop offset="0.525" stop-color="#962c80"/><stop offset="0.5417" stop-color="#a5317d"/><stop offset="0.5583" stop-color="#a5317d"/><stop offset="0.575" stop-color="#b93878"/><stop offset="0.6083" stop-color="#bf3a76"/><stop offset="0.625" stop-color="#d0426f"/><stop offset="0.6583" stop-color="#d0426f"/><stop offset="0.675" stop-color="#e14f66"/><stop offset="0.7083" stop-color="#e75363"/><stop offset="0.725" stop-color="#e75363"/><stop offset="0.7417" stop-color="#ec5d62"/><stop offset="0.7583" stop-color="#fa7d5e"/><stop offset="0.825" stop-color="#fa7d5e"/><stop offset="0.8417" stop-color="#fda573"/><stop offset="0.8583" stop-color="#feb27a"/><stop offset="0.9083" stop-color="#feb27a"/><stop offset="0.925" stop-color="#fddea0"/><stop offset="0.9917" stop-color="#fddea0"/></linearGradient>
<linearGradient id="g2_19" x1="0" y1="0" x2="0" y2="1"><stop offset="0.008333" stop-color="#4b1641"/><stop offset="0.275" stop-color="#5c1c41"/><stop offset="0.3917" stop-color="#712753"/><stop offset="0.4583" stop-color="#852d64"/><stop offset="0.475" stop-color="#8e2f6a"/><stop offset="0.5417" stop-color="#a4386f"/><stop offset="0.5583" stop-color="#a4386f"/><stop offset="0.575" stop-color="#af3f6f"/><stop offset="0.6083" stop-color="#b2426f"/><stop offset="0.625" stop-color="#bb496f"/><stop offset="0.6583" stop-color="#bb496f"/><stop offset="0.6917" stop-color="#c7526f"/><stop offset="0.725" stop-color="#c7526f"/><stop offset="0.7417" stop-color="#cc566e"/><stop offset="0.7583" stop-color="#db626e"/><stop offset="0.825" stop-color="#db626e"/><stop offset="0.8417" stop-color="#ec7269"/><stop offset="0.875" stop-color="#f27767"/><stop offset="0.9083" stop-color="#f27767"/><stop offset="0.925" stop-color="#fb8d67"/><stop offset="0.9917" stop-color="#fb8d67"/></linearGradient>
<linearGradient id="g2_20" x1="0" y1="0" x2="0" y2="1"><stop offset="0.008333" stop-color="#38113c"/><stop offset="0.225" stop-color="#451441"/><stop offset="0.325" stop-color="#591e55"/><stop offset="0.3917" stop-color="#76246f"/><stop offset="0.4583" stop-color="#962d77"/><stop offset="0.475" stop-color="#a23377"/><stop offset="0.4917" stop-color="#a53576"/><stop offset="0.5083" stop-color="#af3975"/><stop offset="0.525" stop-color="#b33b74"/><stop offset="0.5417" stop-color="#bd4072"/><stop offset="0.5583" stop-color="#bd4072"/><stop offset="0.575" stop-color="#cc476e"/><stop offset="0.6083" stop-color="#d0496d"/><stop offset="0.625" stop-color="#dc5169"/><stop offset="0.6583" stop-color="#dc5169"/><stop offset="0.675" stop-color="#e85c64"/><stop offset="0.725" stop-color="#ec6062"/><stop offset="0.7417" stop-color="#ef6861"/><stop offset="0.7583" stop-color="#fa8160"/><stop offset="0.825" stop-color="#fa8160"/><stop offset="0.8417" stop-color="#fd9f6f"/><stop offset="0.8583" stop-color="#fea974"/><stop offset="0.9083" stop-color="#fea974"/><stop offset="0.925" stop-color="#fec88d"/><stop offset="0.9917" stop-color="#fec88d"/></linearGradient>
<linearGradient id="g2_21" x1="0" y1="0" x2="0" y2="1"><stop offset="0.008333" stop-color="#3d123f"/><stop offset="0.125" stop-color="#471544"/><stop offset="0.225" stop-color="#60205d"/><stop offset="0.3083" stop-color="#852776"/><stop offset="0.4083" stop-color="#ab3676"/><stop offset="0.5083" stop-color="#c6456f"/><stop offset="0.5583" stop-color="#ce4b6d"/><stop offset="0.575" stop-color="#d5526b"/><stop offset="0.6083" stop-color="#d7546a"/><stop offset="0.625" stop-color="#dd5a69"/><stop offset="0.6583" stop-color="#dd5a69"/><stop offset="0.6917" stop-color="#e56569"/><stop offset="0.7417" stop-color="#e76869"/><stop offset="0.7583" stop-color="#ee7369"/><stop offset="0.825" stop-color="#ee7369"/><stop offset="0.8583" stop-color="#f57d68"/><stop offset="0.9083" stop-color="#f57d68"/><stop offset="0.925" stop-color="#fa906b"/><stop offset="0.9917" stop-color="#fa906b"/></linearGradient>
<linearGradient id="g2_22" x1="0" y1="0" x2="0" y2="1"><stop offset="0.008333" stop-color="#561a46"/><stop offset="0.2417" stop-color="#652146"/><stop offset="0.3583" stop-color="#7c2a5a"/><stop offset="0.4583" stop-color="#9c356c"/><stop offset="0.475" stop-color="#a5386e"/><stop offset="0.5417" stop-color="#b9446e"/><stop offset="0.5583" stop-color="#b9446e"/><stop offset="0.575" stop-color="#c44b6d"/><stop offset="0.6083" stop-color="#c74d6c"/><stop offset="0.625" stop-color="#cf546b"/><stop offset="0.6583" stop-color="#cf546b"/><stop offset="0.6917" stop-color="#db5e69"/><stop offset="0.725" stop-color="#db5e69"/><stop offset="0.7417" stop-color="#df6368"/><stop offset="0.7583" stop-color="#ea7367"/><stop offset="0.825" stop-color="#ea7367"/><stop offset="0.8417" stop-color="#f4856a"/><stop offset="0.875" stop-color="#f78b6b"/><stop offset="0.9083" stop-color="#f78b6b"/><stop offset="0.925" stop-color="#fca275"/><stop offset="0.9917" stop-color="#fca275"/></linearGradient>
<linearGradient id="g2_23" x1="0" y1="0" x2="0" y2="1"><stop offset="0.008333" stop-color="#010005"/><stop offset="0.175" stop-color="#02010a"/><stop offset="0.2417" stop-color="#09061d"/><stop offset="0.275" stop-color="#100a2d"/><stop offset="0.3417" stop-color="#2e115a"/><stop offset="0.375" stop-color="#42136f"/><stop offset="0.425" stop-color="#661b7e"/><stop offset="0.4583" stop-color="#782181"/><stop offset="0.475" stop-color="#882780"/><stop offset="0.4917" stop-color="#8c2980"/><stop offset="0.5083" stop-color="#992d7f"/><stop offset="0.525" stop-color="#9e2f7e"/><stop offset="0.5417" stop-color="#ac337b"/><stop offset="0.5583" stop-color="#ac337b"/><stop offset="0.575" stop-color="#c03b76"/><stop offset="0.6083" stop-color="#c53d73"/><stop offset="0.625" stop-color="#d5456c"/><stop offset="0.6583" stop-color="#d5456c"/><stop offset="0.675" stop-color="#e55364"/><stop offset="0.7083" stop-color="#ea5861"/><stop offset="0.725" stop-color="#ea5861"/><stop offset="0.7417" stop-color="#ee6261"/><stop offset="0.7583" stop-color="#fa815f"/><stop offset="0.825" stop-color="#fa815f"/><stop offset="0.8417" stop-color="#fda674"/><stop offset="0.8583" stop-color="#feb37a"/><stop offset="0.9083" stop-color="#feb37a"/><stop offset="0.925" stop-color="#fddd9f"/><stop offset="0.9917" stop-color="#fddd9f"/></linearGradient>
<linearGradient id="g2_24" x1="0" y1="0" x2="0" y2="1"><stop offset="0.008333" stop-color="#7b255f"/><stop offset="0.175" stop-color="#8c2b61"/><stop offset="0.2917" stop-color="#a83470"/><stop offset="0.425" stop-color="#d0466b"/><stop offset="0.5417" stop-color="#e95c61"/><stop offset="0.5583" stop-color="#e95c61"/><stop offset="0.575" stop-color="#f0645f"/><stop offset="0.6083" stop-color="#f1675f"/><stop offset="0.625" stop-color="#f56f5d"/><stop offset="0.6583" stop-color="#f56f5d"/><stop offset="0.675" stop-color="#f97a5e"/><stop offset="0.7417" stop-color="#fb8360"/><stop offset="0.7583" stop-color="#fd9366"/><stop offset="0.825" stop-color="#fd9366"/><stop offset="0.8417" stop-color="#fd9e6d"/><stop offset="0.9083" stop-color="#fea26f"/><stop offset="0.925" stop-color="#feb17b"/><stop offset="0.9917" stop-color="#feb17b"/></linearGradient>
<linearGradient id="g2_25" x1="0" y1="0" x2="0" y2="1"><stop offset="0.008333" stop-color="#000004"/><stop offset="0.225" stop-color="#010006"/><stop offset="0.275" stop-color="#040311"/><stop offset="0.3417" stop-color="#120d32"/><stop offset="0.3917" stop-color="#2a115c"/><stop offset="0.4083" stop-color="#37106b"/><stop offset="0.4583" stop-color="#56147d"/><stop offset="0.475" stop-color="#681b80"/><stop offset="0.4917" stop-color="#6c1d81"/><stop offset="0.5083" stop-color="#7b2381"/><stop offset="0.525" stop-color="#802581"/><stop offset="0.5417" stop-color="#8f2a81"/><stop offset="0.5583" stop-color="#8f2a81"/><stop offset="0.575" stop-color="#a6327d"/><stop offset="0.5917" stop-color="#a6327d"/><stop offset="0.6083" stop-color="#ac347c"/><stop offset="0.625" stop-color="#bf3a76"/><stop offset="0.6583" stop-color="#bf3a76"/><stop offset="0.675" stop-color="#d4446d"/><stop offset="0.6917" stop-color="#da476a"/><stop offset="0.725" stop-color="#da476a"/><stop offset="0.7417" stop-color="#e25267"/><stop offset="0.7583" stop-color="#f7715c"/><stop offset="0.825" stop-color="#f7715c"/><stop offset="0.8417" stop-color="#fca071"/><stop offset="0.8583" stop-color="#feb078"/><stop offset="0.9083" stop-color="#feb078"/><stop offset="0.925" stop-color="#fddea0"/><stop offset="0.9917" stop-color="#fddea0"/></linearGradient>
<linearGradient id="g2_26" x1="0" y1="0" x2="0" y2="1"><stop offset="0.008333" stop-color="#000004"/><stop offset="0.1083" stop-color="#020109"/><stop offset="0.175" stop-color="#08061b"/><stop offset="0.2417" stop-color="#1d0d41"/><stop offset="0.2917" stop-color="#371261"/><stop offset="0.3583" stop-color="#5f197c"/><stop offset="0.4583" stop-color="#8f2a7f"/><stop offset="0.475" stop-color="#9a2e7e"/><stop offset="0.4917" stop-color="#9d2f7d"/><stop offset="0.5417" stop-color="#b43778"/><stop offset="0.5583" stop-color="#b43778"/><stop offset="0.575" stop-color="#c23e73"/><stop offset="0.6083" stop-color="#c64072"/><stop offset="0.625" stop-color="#d1476e"/><stop offset="0.6583" stop-color="#d1476e"/><stop offset="0.675" stop-color="#dc526a"/><stop offset="0.725" stop-color="#df5668"/><stop offset="0.7417" stop-color="#e25c68"/><stop offset="0.7583" stop-color="#ec6d68"/><stop offset="0.825" stop-color="#ec6d68"/><stop offset="0.8417" stop-color="#f2806e"/><stop offset="0.8583" stop-color="#f4866f"/><stop offset="0.9083" stop-color="#f4866f"/><stop offset="0.925" stop-color="#f9a57e"/><stop offset="0.9917" stop-color="#f9a57e"/></linearGradient>
<linearGradient id="g2_27" x1="0" y1="0" x2="0" y2="1"><stop offset="0.008333" stop-color="#81275e"/><stop offset="0.275" stop-color="#9c315a"/><stop offset="0.3917" stop-color="#b53d66"/><stop offset="0.5083" stop-color="#d55166"/><stop offset="0.5583" stop-color="#dc5865"/><stop offset="0.575" stop-color="#e35f64"/><stop offset="0.6083" stop-color="#e56163"/><stop offset="0.625" stop-color="#eb6862"/><stop offset="0.6583" stop-color="#eb6862"/><stop offset="0.6917" stop-color="#f47461"/><stop offset="0.725" stop-color="#f47461"/><stop offset="0.7417" stop-color="#f57962"/><stop offset="0.7583" stop-color="#fb8963"/><stop offset="0.825" stop-color="#fb8963"/><stop offset="0.8417" stop-color="#fd996a"/><stop offset="0.875" stop-color="#fd9f6d"/><stop offset="0.9083" stop-color="#fd9f6d"/><stop offset="0.925" stop-color="#feb07a"/><stop offset="0.9917" stop-color="#feb07a"/></linearGradient>
<linearGradient id="g2_28" x1="0" y1="0" x2="0" y2="1"><stop offset="0.008333" stop-color="#641e59"/><stop offset="0.2583" stop-color="#792459"/><stop offset="0.3917" stop-color="#953364"/><stop offset="0.5083" stop-color="#b9426d"/><stop offset="0.5583" stop-color="#c2486c"/><stop offset="0.575" stop-color="#cb4f6a"/><stop offset="0.6083" stop-color="#ce516a"/><stop offset="0.625" stop-color="#d55869"/><stop offset="0.6583" stop-color="#d55869"/><stop offset="0.6917" stop-color="#de6267"/><stop offset="0.725" stop-color="#de6267"/><stop offset="0.7417" stop-color="#e16767"/><stop offset="0.7583" stop-color="#ea7568"/><stop offset="0.825" stop-color="#ea7568"/><stop offset="0.8417" stop-color="#f3846a"/><stop offset="0.875" stop-color="#f6896a"/><stop offset="0.9083" stop-color="#f6896a"/><stop offset="0.925" stop-color="#fb9c71"/><stop offset="0.9917" stop-color="#fb9c71"/></linearGradient>
<linearGradient id="g2_29" x1="0" y1="0" x2="0" y2="1"><stop offset="0.008333" stop-color="#521942"/><stop offset="0.2583" stop-color="#641f43"/><stop offset="0.3417" stop-color="#732852"/><stop offset="0.425" stop-color="#922f6d"/><stop offset="0.4583" stop-color="#9e3370"/><stop offset="0.475" stop-color="#a93970"/><stop offset="0.5417" stop-color="#c0466f"/><stop offset="0.5583" stop-color="#c0466f"/><stop offset="0.575" stop-color="#cd4d6d"/><stop offset="0.6083" stop-color="#d1506c"/><stop offset="0.625" stop-color="#db5769"/><stop offset="0.6583" stop-color="#db5769"/><stop offset="0.675" stop-color="#e76065"/><stop offset="0.725" stop-color="#ea6364"/><stop offset="0.7417" stop-color="#ee6b63"/><stop offset="0.7583" stop-color="#fa8060"/><stop offset="0.825" stop-color="#fa8060"/><stop offset="0.8417" stop-color="#fd9b6d"/><stop offset="0.8583" stop-color="#fea471"/><stop offset="0.9083" stop-color="#fea471"/><stop offset="0.925" stop-color="#fec087"/><stop offset="0.9917" stop-color="#fec087"/></linearGradient>
<linearGradient id="g2_30" x1="0" y1="0" x2="0" y2="1"><stop offset="0.008333" stop-color="#000004"/><stop offset="0.2417" stop-color="#010005"/><stop offset="0.2917" stop-color="#040312"/><stop offset="0.375" stop-color="#150e39"/><stop offset="0.425" stop-color="#321065"/><stop offset="0.4583" stop-color="#441075"/><stop offset="0.475" stop-color="#55147c"/><stop offset="0.4917" stop-color="#5a167d"/><stop offset="0.5083" stop-color="#681c80"/><stop offset="0.525" stop-color="#6d1d80"/><stop offset="0.5417" stop-color="#7c2381"/><stop offset="0.5583" stop-color="#7c2381"/><stop offset="0.575" stop-color="#922b80"/><stop offset="0.6083" stop-color="#982d7f"/><stop offset="0.625" stop-color="#a9327c"/><stop offset="0.6583" stop-color="#a9327c"/><stop offset="0.675" stop-color="#be3b75"/><stop offset="0.6917" stop-color="#c53d72"/><stop offset="0.725" stop-color="#c53d72"/><stop offset="0.7417" stop-color="#cd466e"/><stop offset="0.7583" stop-color="#e75e63"/><stop offset="0.825" stop-color="#e75e63"/><stop offset="0.8417" stop-color="#f4896e"/><stop offset="0.8583" stop-color="#f89772"/><stop offset="0.9083" stop-color="#f89772"/><stop offset="0.925" stop-color="#fcc28f"/><stop offset="0.9917" stop-color="#fcc28f"/></linearGradient>
<linearGradient id="g2_31" x1="0" y1="0" x2="0" y2="1"><stop offset="0.008333" stop-color="#200922"/><stop offset="0.225" stop-color="#270c25"/><stop offset="0.2917" stop-color="#301236"/><stop offset="0.3417" stop-color="#3d1849"/><stop offset="0.3917" stop-color="#551c67"/><stop offset="0.425" stop-color="#6a1d75"/><stop offset="0.4583" stop-color="#7a227a"/><stop offset="0.475" stop-color="#89297b"/><stop offset="0.4917" stop-color="#8d2b7b"/><stop offset="0.5083" stop-color="#992f7a"/><stop offset="0.525" stop-color="#9d317a"/><stop offset="0.5417" stop-color="#aa3678"/><stop offset="0.5583" stop-color="#aa3678"/><stop offset="0.575" stop-color="#bc3e75"/><stop offset="0.6083" stop-color="#c14073"/><stop offset="0.625" stop-color="#d0476f"/><stop offset="0.6583" stop-color="#d0476f"/><stop offset="0.675" stop-color="#e05267"/><stop offset="0.7083" stop-color="#e55665"/><stop offset="0.725" stop-color="#e55665"/><stop offset="0.7417" stop-color="#ea5f63"/><stop offset="0.7583" stop-color="#f97a5e"/><stop offset="0.825" stop-color="#f97a5e"/><stop offset="0.8417" stop-color="#fd9f70"/><stop offset="0.8583" stop-color="#feac76"/><stop offset="0.9083" stop-color="#feac76"/><stop offset="0.925" stop-color="#fdd296"/><stop offset="0.9917" stop-color="#fdd296"/></linearGradient>
<linearGradient id="g2_32" x1="0" y1="0" x2="0" y2="1"><stop offset="0.008333" stop-color="#531941"/><stop offset="0.1417" stop-color="#5c1c43"/><stop offset="0.2417" stop-color="#6f2559"/><stop offset="0.3083" stop-color="#88296f"/><stop offset="0.4083" stop-color="#ad3773"/><stop offset="0.5083" stop-color="#ca486d"/><stop offset="0.5583" stop-color="#d24d6a"/><stop offset="0.575" stop-color="#db5568"/><stop offset="0.6083" stop-color="#dd5767"/><stop offset="0.625" stop-color="#e35e65"/><stop offset="0.6583" stop-color="#e35e65"/><stop offset="0.675" stop-color="#e96864"/><stop offset="0.7417" stop-color="#ed7065"/><stop offset="0.7583" stop-color="#f27d68"/><stop offset="0.825" stop-color="#f27d68"/><stop offset="0.8417" stop-color="#f78a6b"/><stop offset="0.9083" stop-color="#f88e6c"/><stop offset="0.925" stop-color="#fca174"/><stop offset="0.9917" stop-color="#fca174"/></linearGradient>
<linearGradient id="g2_33" x1="0" y1="0" x2="0" y2="1"><stop offset="0.008333" stop-color="#000004"/><stop offset="0.2417" stop-color="#010005"/><stop offset="0.2917" stop-color="#040312"/><stop offset="0.3417" stop-color="#0d0a28"/><stop offset="0.375" stop-color="#170f3b"/><stop offset="0.4083" stop-color="#2b115e"/><stop offset="0.4417" stop-color="#421073"/><stop offset="0.4583" stop-color="#4a1179"/><stop offset="0.475" stop-color="#5c167f"/><stop offset="0.4917" stop-color="#61187f"/><stop offset="0.5083" stop-color="#701f81"/><stop offset="0.525" stop-color="#752181"/><stop offset="0.5417" stop-color="#852681"/><stop offset="0.5583" stop-color="#852681"/><stop offset="0.575" stop-color="#9d2e7f"/><stop offset="0.5917" stop-color="#9d2e7f"/><stop offset="0.6083" stop-color="#a3307e"/><stop offset="0.625" stop-color="#b63779"/><stop offset="0.6583" stop-color="#b63779"/><stop offset="0.675" stop-color="#cc4071"/><stop offset="0.6917" stop-color="#d3436e"/><stop offset="0.725" stop-color="#d3436e"/><stop offset="0.7417" stop-color="#dc4d69"/><stop offset="0.7583" stop-color="#f56b5c"/><stop offset="0.825" stop-color="#f56b5c"/><stop offset="0.8417" stop-color="#fc9e70"/><stop offset="0.8583" stop-color="#feae77"/><stop offset="0.9083" stop-color="#feae77"/><stop offset="0.925" stop-color="#fddea0"/><stop offset="0.9917" stop-color="#fddea0"/></linearGradient>
<linearGradient id="g2_34" x1="0" y1="0" x2="0" y2="1"><stop offset="0.008333" stop-color="#000004"/><stop offset="0.2583" stop-color="#010106"/><stop offset="0.3417" stop-color="#09071f"/><stop offset="0.3917" stop-color="#140d36"/><stop offset="0.4417" stop-color="#2c105a"/><stop offset="0.4583" stop-color="#321062"/><stop offset="0.475" stop-color="#41126f"/><stop offset="0.4917" stop-color="#461271"/><stop offset="0.5083" stop-color="#531579"/><stop offset="0.525" stop-color="#58177a"/><stop offset="0.5417" stop-color="#671b7e"/><stop offset="0.5583" stop-color="#671b7e"/><stop offset="0.575" stop-color="#7c2380"/><stop offset="0.6083" stop-color="#812580"/><stop offset="0.625" stop-color="#922b7e"/><stop offset="0.6583" stop-color="#922b7e"/><stop offset="0.675" stop-color="#a6327a"/><stop offset="0.6917" stop-color="#ac3479"/><stop offset="0.725" stop-color="#ac3479"/><stop offset="0.7417" stop-color="#b63a76"/><stop offset="0.7583" stop-color="#d34d6c"/><stop offset="0.825" stop-color="#d34d6c"/><stop offset="0.8417" stop-color="#e9706c"/><stop offset="0.8583" stop-color="#f17c6d"/><stop offset="0.9083" stop-color="#f17c6d"/><stop offset="0.925" stop-color="#faa47c"/><stop offset="0.9917" stop-color="#faa47c"/></linearGradient>
<linearGradient id="g2_35" x1="0" y1="0" x2="0" y2="1"><stop offset="0.008333" stop-color="#581b47"/><stop offset="0.1583" stop-color="#63204a"/><stop offset="0.275" stop-color="#7b2762"/><stop offset="0.3583" stop-color="#9c3073"/><stop offset="0.475" stop-color="#c9466e"/><stop offset="0.5417" stop-color="#db5168"/><stop offset="0.5583" stop-color="#db5168"/><stop offset="0.575" stop-color="#e55964"/><stop offset="0.6083" stop-color="#e85c63"/><stop offset="0.625" stop-color="#ef6460"/><stop offset="0.6583" stop-color="#ef6460"/><stop offset="0.675" stop-color="#f5715f"/><stop offset="0.725" stop-color="#f7755e"/><stop offset="0.7417" stop-color="#f87b60"/><stop offset="0.7583" stop-color="#fc8f64"/><stop offset="0.825" stop-color="#fc8f64"/><stop offset="0.8417" stop-color="#fda16f"/><stop offset="0.875" stop-color="#fea773"/><stop offset="0.9083" stop-color="#fea773"/><stop offset="0.925" stop-color="#febd85"/><stop offset="0.9917" stop-color="#febd85"/></linearGradient>
<linearGradient id="g2_36" x1="0" y1="0" x2="0" y2="1"><stop offset="0.008333" stop-color="#000004"/><stop offset="0.275" stop-color="#010005"/><stop offset="0.3417" stop-color="#050517"/><stop offset="0.3917" stop-color="#110c2f"/><stop offset="0.4417" stop-color="#2a115b"/><stop offset="0.4583" stop-color="#321066"/><stop offset="0.475" stop-color="#441075"/><stop offset="0.4917" stop-color="#491177"/><stop offset="0.5083" stop-color="#58157e"/><stop offset="0.525" stop-color="#5e177f"/><stop offset="0.5417" stop-color="#6f1e81"/><stop offset="0.5583" stop-color="#6f1e81"/><stop offset="0.575" stop-color="#882881"/><stop offset="0.5917" stop-color="#882881"/><stop offset="0.6083" stop-color="#8f2a80"/><stop offset="0.625" stop-color="#a5317e"/><stop offset="0.6583" stop-color="#a5317e"/><stop offset="0.675" stop-color="#bd3977"/><stop offset="0.6917" stop-color="#c53c74"/><stop offset="0.725" stop-color="#c53c74"/><stop offset="0.7417" stop-color="#d0456e"/><stop offset="0.7583" stop-color="#f1615d"/><stop offset="0.825" stop-color="#f1615d"/><stop offset="0.8417" stop-color="#fb996f"/><stop offset="0.8583" stop-color="#feac75"/><stop offset="0.9083" stop-color="#feac75"/><stop offset="0.925" stop-color="#fddea0"/><stop offset="0.9917" stop-color="#fddea0"/></linearGradient>
<linearGradient id="g2_37" x1="0" y1="0" x2="0" y2="1"><stop offset="0.008333" stop-color="#7e2577"/><stop offset="0.2083" stop-color="#982e77"/><stop offset="0.3917" stop-color="#c53f70"/><stop offset="0.5083" stop-color="#e25365"/><stop offset="0.5583" stop-color="#e85a62"/><stop offset="0.575" stop-color="#ee6260"/><stop offset="0.6083" stop-color="#f0655f"/><stop offset="0.625" stop-color="#f46d5e"/><stop offset="0.6583" stop-color="#f46d5e"/><stop offset="0.675" stop-color="#f8785f"/><stop offset="0.7417" stop-color="#fa8161"/><stop offset="0.7583" stop-color="#fc9065"/><stop offset="0.825" stop-color="#fc9065"/><stop offset="0.8417" stop-color="#fd9c6c"/><stop offset="0.9083" stop-color="#fea06e"/><stop offset="0.925" stop-color="#feaf78"/><stop offset="0.9917" stop-color="#feaf78"/></linearGradient>
<linearGradient id="g2_38" x1="0" y1="0" x2="0" y2="1"><stop offset="0.008333" stop-color="#000004"/><stop offset="0.2083" stop-color="#010107"/><stop offset="0.275" stop-color="#08061c"/><stop offset="0.325" stop-color="#150e37"/><stop offset="0.3583" stop-color="#281157"/><stop offset="0.3917" stop-color="#3b106e"/><stop offset="0.425" stop-color="#54147c"/><stop offset="0.4583" stop-color="#671b80"/><stop offset="0.475" stop-color="#782281"/><stop offset="0.4917" stop-color="#7c2381"/><stop offset="0.5083" stop-color="#8a2881"/><stop offset="0.525" stop-color="#8f2a80"/><stop offset="0.5417" stop-color="#9e2f7f"/><stop offset="0.5583" stop-color="#9e2f7f"/><stop offset="0.575" stop-color="#b3367a"/><stop offset="0.6083" stop-color="#b93878"/><stop offset="0.625" stop-color="#cb3f72"/><stop offset="0.6583" stop-color="#cb3f72"/><stop offset="0.675" stop-color="#dd4b68"/><stop offset="0.6917" stop-color="#e34f65"/><stop offset="0.725" stop-color="#e34f65"/><stop offset="0.7417" stop-color="#e95963"/><stop offset="0.7583" stop-color="#f9795d"/><stop offset="0.825" stop-color="#f9795d"/><stop offset="0.8417" stop-color="#fda372"/><stop offset="0.8583" stop-color="#feb179"/><stop offset="0.9083" stop-color="#feb179"/><stop offset="0.925" stop-color="#fddea0"/><stop offset="0.9917" stop-color="#fddea0"/></linearGradient>
<linearGradient id="g2_39" x1="0" y1="0" x2="0" y2="1"><stop offset="0.008333" stop-color="#0f041e"/><stop offset="0.1417" stop-color="#170628"/><stop offset="0.225" stop-color="#2b1144"/><stop offset="0.275" stop-color="#40165c"/><stop offset="0.3083" stop-color="#54196f"/><stop offset="0.375" stop-color="#76207d"/><stop offset="0.475" stop-color="#a5337a"/><stop offset="0.5417" stop-color="#bc3d75"/><stop offset="0.5583" stop-color="#bc3d75"/><stop offset="0.575" stop-color="#c84471"/><stop offset="0.6083" stop-color="#cc4670"/><stop offset="0.625" stop-color="#d54d6c"/><stop offset="0.6583" stop-color="#d54d6c"/><stop offset="0.675" stop-color="#df5769"/><stop offset="0.725" stop-color="#e25b68"/><stop offset="0.7417" stop-color="#e56068"/><stop offset="0.7583" stop-color="#ee7068"/><stop offset="0.825" stop-color="#ee7068"/><stop offset="0.8417" stop-color="#f3806c"/><stop offset="0.875" stop-color="#f5856d"/><stop offset="0.9083" stop-color="#f5856d"/><stop offset="0.925" stop-color="#faa178"/><stop offset="0.9917" stop-color="#faa178"/></linearGradient>
<linearGradient id="g2_40" x1="0" y1="0" x2="0" y2="1"><stop offset="0.008333" stop-color="#000004"/><stop offset="0.275" stop-color="#010004"/><stop offset="0.3417" stop-color="#050417"/><stop offset="0.4083" stop-color="#150e38"/><stop offset="0.4417" stop-color="#271156"/><stop offset="0.4583" stop-color="#2e1160"/><stop offset="0.475" stop-color="#3f1071"/><stop offset="0.4917" stop-color="#441174"/><stop offset="0.5083" stop-color="#53137c"/><stop offset="0.525" stop-color="#58167d"/><stop offset="0.5417" stop-color="#691c80"/><stop offset="0.5583" stop-color="#691c80"/><stop offset="0.575" stop-color="#812581"/><stop offset="0.5917" stop-color="#812581"/><stop offset="0.6083" stop-color="#882780"/><stop offset="0.625" stop-color="#9d2e7f"/><stop offset="0.6583" stop-color="#9d2e7f"/><stop offset="0.675" stop-color="#b33679"/><stop offset="0.6917" stop-color="#ba3877"/><stop offset="0.725" stop-color="#ba3877"/><stop offset="0.7417" stop-color="#c54072"/><stop offset="0.7583" stop-color="#e75862"/><stop offset="0.825" stop-color="#e75862"/><stop offset="0.8417" stop-color="#f68a6c"/><stop offset="0.8583" stop-color="#fc9b6f"/><stop offset="0.9083" stop-color="#fc9b6f"/><stop offset="0.925" stop-color="#fdca91"/><stop offset="0.9917" stop-color="#fdca91"/></linearGradient>
<linearGradient id="g2_41" x1="0" y1="0" x2="0" y2="1"><stop offset="0.008333" stop-color="#792460"/><stop offset="0.225" stop-color="#902d61"/><stop offset="0.3417" stop-color="#ac366d"/><stop offset="0.5083" stop-color="#db5266"/><stop offset="0.5583" stop-color="#e25864"/><stop offset="0.575" stop-color="#e95f62"/><stop offset="0.6083" stop-color="#eb6261"/><stop offset="0.625" stop-color="#f16a60"/><stop offset="0.6583" stop-color="#f16a60"/><stop offset="0.675" stop-color="#f5745f"/><stop offset="0.725" stop-color="#f7775f"/><stop offset="0.7417" stop-color="#f87d60"/><stop offset="0.7583" stop-color="#fc8d64"/><stop offset="0.825" stop-color="#fc8d64"/><stop offset="0.8417" stop-color="#fd9b6b"/><stop offset="0.875" stop-color="#fea06e"/><stop offset="0.9083" stop-color="#fea06e"/><stop offset="0.925" stop-color="#feb17b"/><stop offset="0.9917" stop-color="#feb17b"/></linearGradient>
<linearGradient id="g2_42" x1="0" y1="0" x2="0" y2="1"><stop offset="0.008333" stop-color="#37103d"/><stop offset="0.175" stop-color="#421342"/><stop offset="0.275" stop-color="#571d55"/><stop offset="0.3417" stop-color="#73246f"/><stop offset="0.4083" stop-color="#962d78"/><stop offset="0.475" stop-color="#b63b74"/><stop offset="0.525" stop-color="#c44271"/><stop offset="0.5417" stop-color="#ce476e"/><stop offset="0.5583" stop-color="#ce476e"/><stop offset="0.575" stop-color="#da4f69"/><stop offset="0.6083" stop-color="#de5268"/><stop offset="0.625" stop-color="#e85a63"/><stop offset="0.6583" stop-color="#e85a63"/><stop offset="0.675" stop-color="#f16860"/><stop offset="0.725" stop-color="#f46c5e"/><stop offset="0.7417" stop-color="#f67460"/><stop offset="0.7583" stop-color="#fc8c63"/><stop offset="0.825" stop-color="#fc8c63"/><stop offset="0.8417" stop-color="#fea471"/><stop offset="0.8583" stop-color="#feac76"/><stop offset="0.9083" stop-color="#feac76"/><stop offset="0.925" stop-color="#fec98e"/><stop offset="0.9917" stop-color="#fec98e"/></linearGradient>
<linearGradient id="g2_43" x1="0" y1="0" x2="0" y2="1"><stop offset="0.008333" stop-color="#000004"/><stop offset="0.175" stop-color="#020109"/><stop offset="0.2417" stop-color="#09071e"/><stop offset="0.275" stop-color="#110b30"/><stop offset="0.3417" stop-color="#30115f"/><stop offset="0.375" stop-color="#421271"/><stop offset="0.425" stop-color="#61197e"/><stop offset="0.4583" stop-color="#701f80"/><stop offset="0.475" stop-color="#7e2481"/><stop offset="0.4917" stop-color="#812581"/><stop offset="0.5083" stop-color="#8c2980"/><stop offset="0.525" stop-color="#902a80"/><stop offset="0.5417" stop-color="#9c2e7e"/><stop offset="0.5583" stop-color="#9c2e7e"/><stop offset="0.575" stop-color="#ac347b"/><stop offset="0.6083" stop-color="#b13679"/><stop offset="0.625" stop-color="#bf3c75"/><stop offset="0.6583" stop-color="#bf3c75"/><stop offset="0.675" stop-color="#cd456f"/><stop offset="0.7083" stop-color="#d2486d"/><stop offset="0.725" stop-color="#d2486d"/><stop offset="0.7417" stop-color="#d74e6b"/><stop offset="0.7583" stop-color="#e56167"/><stop offset="0.825" stop-color="#e56167"/><stop offset="0.8417" stop-color="#f07c6d"/><stop offset="0.8583" stop-color="#f4856f"/><stop offset="0.9083" stop-color="#f4856f"/><stop offset="0.925" stop-color="#faa77f"/><stop offset="0.9917" stop-color="#faa77f"/></linearGradient>
<clipPath id="c2"><rect x="40.90" y="129.60" width="200.70" height="59.00"/></clipPath>
<linearGradient id="g3_0" x1="0" y1="0" x2="0" y2="1"><stop offset="0.008333" stop-color="#000004"/><stop offset="0.4083" stop-color="#010006"/><stop offset="0.4583" stop-color="#030310"/><stop offset="0.475" stop-color="#09071f"/><stop offset="0.4917" stop-color="#0b0924"/><stop offset="0.5083" stop-color="#120d32"/><stop offset="0.525" stop-color="#160e39"/><stop offset="0.5417" stop-color="#20114d"/><stop offset="0.5583" stop-color="#20114d"/><stop offset="0.575" stop-color="#36106a"/><stop offset="0.5917" stop-color="#36106a"/><stop offset="0.6083" stop-color="#3d116f"/><stop offset="0.625" stop-color="#54137d"/><stop offset="0.6583" stop-color="#54137d"/><stop offset="0.675" stop-color="#772180"/><stop offset="0.6917" stop-color="#832681"/><stop offset="0.725" stop-color="#832681"/><stop offset="0.7417" stop-color="#982e7c"/><stop offset="0.7583" stop-color="#d8456c"/><stop offset="0.825" stop-color="#d8456c"/><stop offset="0.8417" stop-color="#f5a481"/><stop offset="0.8583" stop-color="#fec488"/><stop offset="0.9083" stop-color="#fec488"/><stop offset="0.925" stop-color="#fecc8f"/><stop offset="0.9917" stop-color="#fecc8f"/></linearGradient>
<linearGradient id="g3_1" x1="0" y1="0" x2="0" y2="1"><stop offset="0.008333" stop-color="#4d1742"/><stop offset="0.4583" stop-color="#6c2338"/><stop offset="0.5583" stop-color="#7a2e47"/><stop offset="0.575" stop-color="#843452"/><stop offset="0.6083" stop-color="#873556"/><stop offset="0.625" stop-color="#923962"/><stop offset="0.6583" stop-color="#923962"/><stop offset="0.675" stop-color="#a4416a"/><stop offset="0.6917" stop-color="#aa446d"/><stop offset="0.725" stop-color="#aa446d"/><stop offset="0.7417" stop-color="#b34a6e"/><stop offset="0.7583" stop-color="#cd5b70"/><stop offset="0.825" stop-color="#cd5b70"/><stop offset="0.8417" stop-color="#e46d6d"/><stop offset="0.8583" stop-color="#eb736c"/><stop offset="0.9083" stop-color="#eb736c"/><stop offset="0.9417" stop-color="#ea7870"/><stop offset="0.9917" stop-color="#ea7870"/></linearGradient>
<linearGradient id="g3_2" x1="0" y1="0" x2="0" y2="1"><stop offset="0.008333" stop-color="#270c22"/><stop offset="0.4583" stop-color="#371220"/><stop offset="0.525" stop-color="#401932"/><stop offset="0.5417" stop-color="#461d3c"/><stop offset="0.5583" stop-color="#461d3c"/><stop offset="0.575" stop-color="#52224f"/><stop offset="0.6083" stop-color="#572355"/><stop offset="0.625" stop-color="#662566"/><stop offset="0.6583" stop-color="#662566"/><stop offset="0.675" stop-color="#812d73"/><stop offset="0.6917" stop-color="#893077"/><stop offset="0.725" stop-color="#893077"/><stop offset="0.7417" stop-color="#973676"/><stop offset="0.7583" stop-color="#c04974"/><stop offset="0.825" stop-color="#c04974"/><stop offset="0.8417" stop-color="#e36c6d"/><stop offset="0.8583" stop-color="#ee776b"/><stop offset="0.9917" stop-color="#ed7a6f"/></linearGradient>
<linearGradient id="g3_3" x1="0" y1="0" x2="0" y2="1"><stop offset="0.008333" stop-color="#3f1243"/><stop offset="0.4083" stop-color="#561a42"/><stop offset="0.4583" stop-color="#5d1d48"/><stop offset="0.525" stop-color="#70265b"/><stop offset="0.5417" stop-color="#782863"/><stop offset="0.5583" stop-color="#782863"/><stop offset="0.575" stop-color="#892a6f"/><stop offset="0.6083" stop-color="#8e2b70"/><stop offset="0.625" stop-color="#9d3173"/><stop offset="0.6583" stop-color="#9d3173"/><stop offset="0.675" stop-color="#b33d71"/><stop offset="0.6917" stop-color="#bb4170"/><stop offset="0.725" stop-color="#bb4170"/><stop offset="0.7417" stop-color="#c6496d"/><stop offset="0.7583" stop-color="#e96164"/><stop offset="0.825" stop-color="#e96164"/><stop offset="0.8417" stop-color="#f99971"/><stop offset="0.8583" stop-color="#feac76"/><stop offset="0.9083" stop-color="#feac76"/><stop offset="0.925" stop-color="#feb67d"/><stop offset="0.9917" stop-color="#feb67d"/></linearGradient>
<linearGradient id="g3_4" x1="0" y1="0" x2="0" y2="1"><stop offset="0.008333" stop-color="#000004"/><stop offset="0.4083" stop-color="#010107"/><stop offset="0.4583" stop-color="#050415"/><stop offset="0.475" stop-color="#0b0824"/><stop offset="0.4917" stop-color="#0d0a28"/><stop offset="0.5083" stop-color="#140d36"/><stop offset="0.525" stop-color="#180e3c"/><stop offset="0.5417" stop-color="#22114f"/><stop offset="0.5583" stop-color="#22114f"/><stop offset="0.575" stop-color="#361069"/><stop offset="0.5917" stop-color="#361069"/><stop offset="0.6083" stop-color="#3d116d"/><stop offset="0.625" stop-color="#52147b"/><stop offset="0.6583" stop-color="#52147b"/><stop offset="0.675" stop-color="#701f7f"/><stop offset="0.6917" stop-color="#7b2381"/><stop offset="0.725" stop-color="#7b2381"/><stop offset="0.7417" stop-color="#8b297e"/><stop offset="0.7583" stop-color="#bd3b75"/><stop offset="0.825" stop-color="#bd3b75"/><stop offset="0.8417" stop-color="#e36f72"/><stop offset="0.8583" stop-color="#f08171"/><stop offset="0.9917" stop-color="#ef8475"/></linearGradient>
<linearGradient id="g3_5" x1="0" y1="0" x2="0" y2="1"><stop offset="0.008333" stop-color="#5d1b63"/><stop offset="0.375" stop-color="#7b2561"/><stop offset="0.4583" stop-color="#892a62"/><stop offset="0.5417" stop-color="#a2346b"/><stop offset="0.5583" stop-color="#a2346b"/><stop offset="0.575" stop-color="#af386e"/><stop offset="0.6083" stop-color="#b3396e"/><stop offset="0.625" stop-color="#bf3f6d"/><stop offset="0.6583" stop-color="#bf3f6d"/><stop offset="0.675" stop-color="#cf4b69"/><stop offset="0.7083" stop-color="#d44f68"/><stop offset="0.725" stop-color="#d44f68"/><stop offset="0.7417" stop-color="#db5666"/><stop offset="0.7583" stop-color="#f16e61"/><stop offset="0.825" stop-color="#f16e61"/><stop offset="0.8417" stop-color="#fb9c70"/><stop offset="0.8583" stop-color="#feab75"/><stop offset="0.9083" stop-color="#feab75"/><stop offset="0.925" stop-color="#feb57d"/><stop offset="0.9917" stop-color="#feb57d"/></linearGradient>
<linearGradient id="g3_6" x1="0" y1="0" x2="0" y2="1"><stop offset="0.008333" stop-color="#000004"/><stop offset="0.425" stop-color="#010107"/><stop offset="0.4583" stop-color="#02020c"/><stop offset="0.475" stop-color="#060519"/><stop offset="0.4917" stop-color="#08061d"/><stop offset="0.5083" stop-color="#0e0b2a"/><stop offset="0.525" stop-color="#110c30"/><stop offset="0.5417" stop-color="#1b1043"/><stop offset="0.5583" stop-color="#1b1043"/><stop offset="0.575" stop-color="#2e1061"/><stop offset="0.5917" stop-color="#2e1061"/><stop offset="0.6083" stop-color="#361167"/><stop offset="0.625" stop-color="#4b1278"/><stop offset="0.6583" stop-color="#4b1278"/><stop offset="0.675" stop-color="#6f1e7f"/><stop offset="0.6917" stop-color="#7a2381"/><stop offset="0.725" stop-color="#7a2381"/><stop offset="0.7417" stop-color="#8f2a7d"/><stop offset="0.7583" stop-color="#cd4170"/><stop offset="0.825" stop-color="#cd4170"/><stop offset="0.8417" stop-color="#ef8b76"/><stop offset="0.8583" stop-color="#faa478"/><stop offset="0.9083" stop-color="#faa478"/><stop offset="0.9417" stop-color="#faaa7d"/><stop offset="0.9917" stop-color="#faaa7d"/></linearGradient>
<linearGradient id="g3_7" x1="0" y1="0" x2="0" y2="1"><stop offset="0.008333" stop-color="#240b24"/><stop offset="0.3917" stop-color="#300f24"/><stop offset="0.4583" stop-color="#391533"/><stop offset="0.475" stop-color="#40193f"/><stop offset="0.4917" stop-color="#431a43"/><stop offset="0.5083" stop-color="#4a1d4f"/><stop offset="0.525" stop-color="#4e1e54"/><stop offset="0.5417" stop-color="#591f62"/><stop offset="0.5583" stop-color="#591f62"/><stop offset="0.575" stop-color="#6c2071"/><stop offset="0.6083" stop-color="#722273"/><stop offset="0.625" stop-color="#842978"/><stop offset="0.6583" stop-color="#842978"/><stop offset="0.675" stop-color="#9e3578"/><stop offset="0.6917" stop-color="#a63978"/><stop offset="0.725" stop-color="#a63978"/><stop offset="0.7417" stop-color="#b54074"/><stop offset="0.7583" stop-color="#e15568"/><stop offset="0.825" stop-color="#e15568"/><stop offset="0.8417" stop-color="#f79975"/><stop offset="0.8583" stop-color="#feb079"/><stop offset="0.9083" stop-color="#feb079"/><stop offset="0.925" stop-color="#feb97f"/><stop offset="0.9917" stop-color="#feb97f"/></linearGradient>
<linearGradient id="g3_8" x1="0" y1="0" x2="0" y2="1"><stop offset="0.008333" stop-color="#010004"/><stop offset="0.4083" stop-color="#010108"/><stop offset="0.4583" stop-color="#050415"/><stop offset="0.475" stop-color="#0b0924"/><stop offset="0.4917" stop-color="#0e0a29"/><stop offset="0.5083" stop-color="#150e38"/><stop offset="0.525" stop-color="#190f3e"/><stop offset="0.5417" stop-color="#241152"/><stop offset="0.5583" stop-color="#241152"/><stop offset="0.575" stop-color="#3a106f"/><stop offset="0.5917" stop-color="#3a106f"/><stop offset="0.6083" stop-color="#421172"/><stop offset="0.625" stop-color="#58157e"/><stop offset="0.6583" stop-color="#58157e"/><stop offset="0.675" stop-color="#7b2280"/><stop offset="0.6917" stop-color="#862781"/><stop offset="0.725" stop-color="#862781"/><stop offset="0.7417" stop-color="#9b2f7c"/><stop offset="0.7583" stop-color="#d8466b"/><stop offset="0.825" stop-color="#d8466b"/><stop offset="0.8417" stop-color="#f59e7b"/><stop offset="0.8583" stop-color="#febb81"/><stop offset="0.9083" stop-color="#febb81"/><stop offset="0.925" stop-color="#fec388"/><stop offset="0.9917" stop-color="#fec388"/></linearGradient>
<linearGradient id="g3_9" x1="0" y1="0" x2="0" y2="1"><stop offset="0.008333" stop-color="#4f1842"/><stop offset="0.425" stop-color="#6c233a"/><stop offset="0.4917" stop-color="#762a43"/><stop offset="0.5417" stop-color="#833252"/><stop offset="0.5583" stop-color="#833252"/><stop offset="0.575" stop-color="#8e365e"/><stop offset="0.6083" stop-color="#923761"/><stop offset="0.625" stop-color="#9e3c69"/><stop offset="0.6583" stop-color="#9e3c69"/><stop offset="0.675" stop-color="#b0466d"/><stop offset="0.7083" stop-color="#b64a6e"/><stop offset="0.725" stop-color="#b64a6e"/><stop offset="0.7417" stop-color="#bf506e"/><stop offset="0.7583" stop-color="#db626c"/><stop offset="0.825" stop-color="#db626c"/><stop offset="0.8417" stop-color="#ef846f"/><stop offset="0.8583" stop-color="#f58f70"/><stop offset="0.9083" stop-color="#f58f70"/><stop offset="0.925" stop-color="#f59676"/><stop offset="0.9917" stop-color="#f59676"/></linearGradient>
<linearGradient id="g3_10" x1="0" y1="0" x2="0" y2="1"><stop offset="0.008333" stop-color="#782463"/><stop offset="0.3417" stop-color="#972f5b"/><stop offset="0.475" stop-color="#ae3d5b"/><stop offset="0.5583" stop-color="#bc4563"/><stop offset="0.575" stop-color="#c54a65"/><stop offset="0.6083" stop-color="#c84c65"/><stop offset="0.625" stop-color="#cf5466"/><stop offset="0.6583" stop-color="#cf5466"/><stop offset="0.675" stop-color="#da5f66"/><stop offset="0.725" stop-color="#de6266"/><stop offset="0.7417" stop-color="#e36865"/><stop offset="0.7583" stop-color="#f47a64"/><stop offset="0.825" stop-color="#f47a64"/><stop offset="0.8417" stop-color="#fb9a6e"/><stop offset="0.8583" stop-color="#fea571"/><stop offset="0.9083" stop-color="#fea571"/><stop offset="0.925" stop-color="#feb179"/><stop offset="0.9917" stop-color="#feb179"/></linearGradient>
<linearGradient id="g3_11" x1="0" y1="0" x2="0" y2="1"><stop offset="0.008333" stop-color="#6c2061"/><stop offset="0.3583" stop-color="#8c2a5b"/><stop offset="0.4917" stop-color="#a3365e"/><stop offset="0.5417" stop-color="#b13d65"/><stop offset="0.5583" stop-color="#b13d65"/><stop offset="0.575" stop-color="#bc4168"/><stop offset="0.6083" stop-color="#c04368"/><stop offset="0.625" stop-color="#c94a67"/><stop offset="0.6583" stop-color="#c94a67"/><stop offset="0.675" stop-color="#d65666"/><stop offset="0.725" stop-color="#da5a66"/><stop offset="0.7417" stop-color="#e06065"/><stop offset="0.7583" stop-color="#f27463"/><stop offset="0.825" stop-color="#f27463"/><stop offset="0.8417" stop-color="#fb9c70"/><stop offset="0.8583" stop-color="#fea974"/><stop offset="0.9083" stop-color="#fea974"/><stop offset="0.925" stop-color="#feb47c"/><stop offset="0.9917" stop-color="#feb47c"/></linearGradient>
<linearGradient id="g3_12" x1="0" y1="0" x2="0" y2="1"><stop offset="0.008333" stop-color="#4c184a"/><stop offset="0.3917" stop-color="#652047"/><stop offset="0.4917" stop-color="#73274d"/><stop offset="0.5417" stop-color="#812b59"/><stop offset="0.5583" stop-color="#812b59"/><stop offset="0.575" stop-color="#8d3160"/><stop offset="0.6083" stop-color="#913362"/><stop offset="0.625" stop-color="#9c3868"/><stop offset="0.6583" stop-color="#9c3868"/><stop offset="0.675" stop-color="#b0426c"/><stop offset="0.6917" stop-color="#b6456e"/><stop offset="0.725" stop-color="#b6456e"/><stop offset="0.7417" stop-color="#c04c6d"/><stop offset="0.7583" stop-color="#de6169"/><stop offset="0.825" stop-color="#de6169"/><stop offset="0.8417" stop-color="#ef826d"/><stop offset="0.8583" stop-color="#f58d6f"/><stop offset="0.9083" stop-color="#f58d6f"/><stop offset="0.925" stop-color="#f59675"/><stop offset="0.9917" stop-color="#f59675"/></linearGradient>
<linearGradient id="g3_13" x1="0" y1="0" x2="0" y2="1"><stop offset="0.008333" stop-color="#611c62"/><stop offset="0.375" stop-color="#7f265e"/><stop offset="0.4917" stop-color="#932e5f"/><stop offset="0.5417" stop-color="#a23564"/><stop offset="0.5583" stop-color="#a23564"/><stop offset="0.575" stop-color="#ad3967"/><stop offset="0.6083" stop-color="#b03a68"/><stop offset="0.625" stop-color="#bc3f6a"/><stop offset="0.6583" stop-color="#bc3f6a"/><stop offset="0.675" stop-color="#cb4a67"/><stop offset="0.7083" stop-color="#d04e67"/><stop offset="0.725" stop-color="#d04e67"/><stop offset="0.7417" stop-color="#d65566"/><stop offset="0.7583" stop-color="#e96b65"/><stop offset="0.825" stop-color="#e96b65"/><stop offset="0.8417" stop-color="#f68969"/><stop offset="0.8583" stop-color="#fb936b"/><stop offset="0.9083" stop-color="#fb936b"/><stop offset="0.925" stop-color="#fb9c71"/><stop offset="0.9917" stop-color="#fb9c71"/></linearGradient>
<linearGradient id="g3_14" x1="0" y1="0" x2="0" y2="1"><stop offset="0.008333" stop-color="#0d041c"/><stop offset="0.4083" stop-color="#150524"/><stop offset="0.4583" stop-color="#1c0931"/><stop offset="0.475" stop-color="#230e3c"/><stop offset="0.4917" stop-color="#260f40"/><stop offset="0.5083" stop-color="#2d124a"/><stop offset="0.525" stop-color="#30134f"/><stop offset="0.5417" stop-color="#3a165c"/><stop offset="0.5583" stop-color="#3a165c"/><stop offset="0.575" stop-color="#4e176f"/><stop offset="0.5917" stop-color="#4e176f"/><stop offset="0.6083" stop-color="#541872"/><stop offset="0.625" stop-color="#671b7b"/><stop offset="0.6583" stop-color="#671b7b"/><stop offset="0.675" stop-color="#83257d"/><stop offset="0.6917" stop-color="#8c297e"/><stop offset="0.725" stop-color="#8c297e"/><stop offset="0.7417" stop-color="#9a2f7b"/><stop offset="0.7583" stop-color="#c34171"/><stop offset="0.825" stop-color="#c34171"/><stop offset="0.8417" stop-color="#e77470"/><stop offset="0.8583" stop-color="#f3856f"/><stop offset="0.9917" stop-color="#f28873"/></linearGradient>
<linearGradient id="g3_15" x1="0" y1="0" x2="0" y2="1"><stop offset="0.008333" stop-color="#000004"/><stop offset="0.4417" stop-color="#010107"/><stop offset="0.4583" stop-color="#010108"/><stop offset="0.475" stop-color="#050415"/><stop offset="0.4917" stop-color="#060519"/><stop offset="0.525" stop-color="#0e0a2a"/><stop offset="0.5417" stop-color="#170f3b"/><stop offset="0.5583" stop-color="#170f3b"/><stop offset="0.575" stop-color="#271157"/><stop offset="0.5917" stop-color="#271157"/><stop offset="0.6083" stop-color="#2e115e"/><stop offset="0.625" stop-color="#431074"/><stop offset="0.6583" stop-color="#431074"/><stop offset="0.675" stop-color="#641b7e"/><stop offset="0.6917" stop-color="#6f1e81"/><stop offset="0.725" stop-color="#6f1e81"/><stop offset="0.7417" stop-color="#81257e"/><stop offset="0.7583" stop-color="#b83878"/><stop offset="0.825" stop-color="#b83878"/><stop offset="0.8417" stop-color="#e2616a"/><stop offset="0.8583" stop-color="#ef6e66"/><stop offset="0.9917" stop-color="#ef7068"/></linearGradient>
<linearGradient id="g3_16" x1="0" y1="0" x2="0" y2="1"><stop offset="0.008333" stop-color="#481542"/><stop offset="0.4083" stop-color="#621e3f"/><stop offset="0.4583" stop-color="#692244"/><stop offset="0.525" stop-color="#7b2b57"/><stop offset="0.5417" stop-color="#832e60"/><stop offset="0.5583" stop-color="#832e60"/><stop offset="0.575" stop-color="#92306b"/><stop offset="0.6083" stop-color="#97326c"/><stop offset="0.625" stop-color="#a5396f"/><stop offset="0.6583" stop-color="#a5396f"/><stop offset="0.675" stop-color="#b8456f"/><stop offset="0.6917" stop-color="#bf496f"/><stop offset="0.725" stop-color="#bf496f"/><stop offset="0.7417" stop-color="#c9506c"/><stop offset="0.7583" stop-color="#e96566"/><stop offset="0.825" stop-color="#e96566"/><stop offset="0.8417" stop-color="#f99a72"/><stop offset="0.8583" stop-color="#feac76"/><stop offset="0.9083" stop-color="#feac76"/><stop offset="0.925" stop-color="#feb67e"/><stop offset="0.9917" stop-color="#feb67e"/></linearGradient>
<linearGradient id="g3_17" x1="0" y1="0" x2="0" y2="1"><stop offset="0.008333" stop-color="#250b23"/><stop offset="0.3917" stop-color="#321022"/><stop offset="0.4583" stop-color="#3c1735"/><stop offset="0.475" stop-color="#431a3f"/><stop offset="0.4917" stop-color="#451b43"/><stop offset="0.5083" stop-color="#4c1e4d"/><stop offset="0.525" stop-color="#501f51"/><stop offset="0.5417" stop-color="#59205d"/><stop offset="0.5583" stop-color="#59205d"/><stop offset="0.575" stop-color="#6a236c"/><stop offset="0.6083" stop-color="#70246f"/><stop offset="0.625" stop-color="#802975"/><stop offset="0.6583" stop-color="#802975"/><stop offset="0.675" stop-color="#953377"/><stop offset="0.6917" stop-color="#9c3678"/><stop offset="0.725" stop-color="#9c3678"/><stop offset="0.7417" stop-color="#a63b76"/><stop offset="0.7583" stop-color="#c54b72"/><stop offset="0.825" stop-color="#c54b72"/><stop offset="0.8417" stop-color="#e36d6f"/><stop offset="0.8583" stop-color="#ed786e"/><stop offset="0.9083" stop-color="#ed786e"/><stop offset="0.9583" stop-color="#ec7c72"/><stop offset="0.9917" stop-color="#ec7c72"/></linearGradient>
<linearGradient id="g3_18" x1="0" y1="0" x2="0" y2="1"><stop offset="0.008333" stop-color="#210923"/><stop offset="0.4083" stop-color="#2c0d23"/><stop offset="0.4583" stop-color="#31102b"/><stop offset="0.475" stop-color="#361435"/><stop offset="0.4917" stop-color="#391538"/><stop offset="0.525" stop-color="#421a47"/><stop offset="0.5417" stop-color="#4c1d55"/><stop offset="0.5583" stop-color="#4c1d55"/><stop offset="0.575" stop-color="#5e1d6b"/><stop offset="0.5917" stop-color="#5e1d6b"/><stop offset="0.6083" stop-color="#651e6e"/><stop offset="0.625" stop-color="#772277"/><stop offset="0.6583" stop-color="#772277"/><stop offset="0.675" stop-color="#942f78"/><stop offset="0.6917" stop-color="#9e3479"/><stop offset="0.725" stop-color="#9e3479"/><stop offset="0.7417" stop-color="#af3c75"/><stop offset="0.7583" stop-color="#e05368"/><stop offset="0.825" stop-color="#e05368"/><stop offset="0.8417" stop-color="#f7a07a"/><stop offset="0.8583" stop-color="#feba80"/><stop offset="0.9083" stop-color="#feba80"/><stop offset="0.925" stop-color="#fec287"/><stop offset="0.9917" stop-color="#fec287"/></linearGradient>
<linearGradient id="g3_19" x1="0" y1="0" x2="0" y2="1"><stop offset="0.008333" stop-color="#160522"/><stop offset="0.3917" stop-color="#1e0924"/><stop offset="0.4583" stop-color="#260d33"/><stop offset="0.475" stop-color="#2e123f"/><stop offset="0.4917" stop-color="#311343"/><stop offset="0.5083" stop-color="#38174f"/><stop offset="0.525" stop-color="#3c1754"/><stop offset="0.5417" stop-color="#471963"/><stop offset="0.5583" stop-color="#471963"/><stop offset="0.575" stop-color="#5c1975"/><stop offset="0.5917" stop-color="#5c1975"/><stop offset="0.6083" stop-color="#631b77"/><stop offset="0.625" stop-color="#76207c"/><stop offset="0.6583" stop-color="#76207c"/><stop offset="0.675" stop-color="#942c7c"/><stop offset="0.6917" stop-color="#9d307b"/><stop offset="0.725" stop-color="#9d307b"/><stop offset="0.7417" stop-color="#ae3877"/><stop offset="0.7583" stop-color="#df4f68"/><stop offset="0.825" stop-color="#df4f68"/><stop offset="0.8417" stop-color="#f6a47e"/><stop offset="0.8583" stop-color="#fec085"/><stop offset="0.9083" stop-color="#fec085"/><stop offset="0.925" stop-color="#fec98d"/><stop offset="0.9917" stop-color="#fec98d"/></linearGradient>
<linearGradient id="g3_20" x1="0" y1="0" x2="0" y2="1"><stop offset="0.008333" stop-color="#641e69"/><stop offset="0.3417" stop-color="#802768"/><stop offset="0.4583" stop-color="#962f6d"/><stop offset="0.5417" stop-color="#b03771"/><stop offset="0.5583" stop-color="#b03771"/><stop offset="0.575" stop-color="#bc3d6f"/><stop offset="0.6083" stop-color="#bf3f6e"/><stop offset="0.625" stop-color="#ca466c"/><stop offset="0.6583" stop-color="#ca466c"/><stop offset="0.675" stop-color="#d85068"/><stop offset="0.725" stop-color="#dc5466"/><stop offset="0.7417" stop-color="#e25b65"/><stop offset="0.7583" stop-color="#f47160"/><stop offset="0.825" stop-color="#f47160"/><stop offset="0.8417" stop-color="#fb976c"/><stop offset="0.8583" stop-color="#fea470"/><stop offset="0.9083" stop-color="#fea470"/><stop offset="0.925" stop-color="#feaf77"/><stop offset="0.9917" stop-color="#feaf77"/></linearGradient>
<linearGradient id="g3_21" x1="0" y1="0" x2="0" y2="1"><stop offset="0.008333" stop-color="#000004"/><stop offset="0.3917" stop-color="#010005"/><stop offset="0.4583" stop-color="#050517"/><stop offset="0.475" stop-color="#0d0a27"/><stop offset="0.4917" stop-color="#0f0b2c"/><stop offset="0.5083" stop-color="#170f3b"/><stop offset="0.525" stop-color="#1b1042"/><stop offset="0.5417" stop-color="#271157"/><stop offset="0.5583" stop-color="#271157"/><stop offset="0.575" stop-color="#3e0f71"/><stop offset="0.5917" stop-color="#3e0f71"/><stop offset="0.6083" stop-color="#451175"/><stop offset="0.625" stop-color="#5b167f"/><stop offset="0.6583" stop-color="#5b167f"/><stop offset="0.675" stop-color="#7d2381"/><stop offset="0.6917" stop-color="#882881"/><stop offset="0.725" stop-color="#882881"/><stop offset="0.7417" stop-color="#9c2f7c"/><stop offset="0.7583" stop-color="#d8456c"/><stop offset="0.825" stop-color="#d8456c"/><stop offset="0.8417" stop-color="#f59474"/><stop offset="0.8583" stop-color="#feae77"/><stop offset="0.9083" stop-color="#feae77"/><stop offset="0.925" stop-color="#feb67d"/><stop offset="0.9917" stop-color="#feb67d"/></linearGradient>
<linearGradient id="g3_22" x1="0" y1="0" x2="0" y2="1"><stop offset="0.008333" stop-color="#80265e"/><stop offset="0.3917" stop-color="#a7384f"/><stop offset="0.5083" stop-color="#b84953"/><stop offset="0.5583" stop-color="#bc4e57"/><stop offset="0.575" stop-color="#c4545e"/><stop offset="0.6083" stop-color="#c6565f"/><stop offset="0.6417" stop-color="#cc5a63"/><stop offset="0.6583" stop-color="#cc5a63"/><stop offset="0.675" stop-color="#d46366"/><stop offset="0.7417" stop-color="#db6b68"/><stop offset="0.7583" stop-color="#e6786b"/><stop offset="0.825" stop-color="#e6786b"/><stop offset="0.8417" stop-color="#f1846b"/><stop offset="0.9083" stop-color="#f5886b"/><stop offset="0.925" stop-color="#f59071"/><stop offset="0.9917" stop-color="#f59071"/></linearGradient>
<linearGradient id="g3_23" x1="0" y1="0" x2="0" y2="1"><stop offset="0.008333" stop-color="#80265e"/><stop offset="0.3417" stop-color="#a13352"/><stop offset="0.4583" stop-color="#b14154"/><stop offset="0.5417" stop-color="#c34d60"/><stop offset="0.5583" stop-color="#c34d60"/><stop offset="0.575" stop-color="#cb5364"/><stop offset="0.6083" stop-color="#cd5564"/><stop offset="0.625" stop-color="#d45d65"/><stop offset="0.6583" stop-color="#d45d65"/><stop offset="0.675" stop-color="#dd6766"/><stop offset="0.7417" stop-color="#e56f67"/><stop offset="0.7583" stop-color="#f47e66"/><stop offset="0.825" stop-color="#f47e66"/><stop offset="0.8417" stop-color="#fb9a6e"/><stop offset="0.8583" stop-color="#fea470"/><stop offset="0.9083" stop-color="#fea470"/><stop offset="0.925" stop-color="#feae77"/><stop offset="0.9917" stop-color="#feae77"/></linearGradient>
<linearGradient id="g3_24" x1="0" y1="0" x2="0" y2="1"><stop offset="0.008333" stop-color="#000004"/><stop offset="0.4083" stop-color="#010106"/><stop offset="0.4583" stop-color="#030310"/><stop offset="0.475" stop-color="#09071e"/><stop offset="0.4917" stop-color="#0b0823"/><stop offset="0.5083" stop-color="#110c30"/><stop offset="0.525" stop-color="#150d36"/><stop offset="0.5417" stop-color="#1f1049"/><stop offset="0.5583" stop-color="#1f1049"/><stop offset="0.575" stop-color="#331065"/><stop offset="0.5917" stop-color="#331065"/><stop offset="0.6083" stop-color="#3a116a"/><stop offset="0.625" stop-color="#4f1379"/><stop offset="0.6583" stop-color="#4f1379"/><stop offset="0.675" stop-color="#701f7f"/><stop offset="0.6917" stop-color="#7b2381"/><stop offset="0.725" stop-color="#7b2381"/><stop offset="0.7417" stop-color="#8d297d"/><stop offset="0.7583" stop-color="#c53e72"/><stop offset="0.825" stop-color="#c53e72"/><stop offset="0.8417" stop-color="#ea7d73"/><stop offset="0.8583" stop-color="#f69273"/><stop offset="0.9083" stop-color="#f69273"/><stop offset="0.9417" stop-color="#f59778"/><stop offset="0.9917" stop-color="#f59778"/></linearGradient>
<linearGradient id="g3_25" x1="0" y1="0" x2="0" y2="1"><stop offset="0.008333" stop-color="#03020b"/><stop offset="0.3917" stop-color="#05030f"/><stop offset="0.4583" stop-color="#0a061e"/><stop offset="0.475" stop-color="#11092c"/><stop offset="0.4917" stop-color="#130a30"/><stop offset="0.5083" stop-color="#1a0d3d"/><stop offset="0.525" stop-color="#1e0e42"/><stop offset="0.5417" stop-color="#281052"/><stop offset="0.5583" stop-color="#281052"/><stop offset="0.575" stop-color="#3b1268"/><stop offset="0.5917" stop-color="#3b1268"/><stop offset="0.6083" stop-color="#41136c"/><stop offset="0.625" stop-color="#55167a"/><stop offset="0.6583" stop-color="#55167a"/><stop offset="0.675" stop-color="#73207f"/><stop offset="0.6917" stop-color="#7e2380"/><stop offset="0.725" stop-color="#7e2380"/><stop offset="0.7417" stop-color="#8e2a7d"/><stop offset="0.7583" stop-color="#be3c74"/><stop offset="0.825" stop-color="#be3c74"/><stop offset="0.8417" stop-color="#e67673"/><stop offset="0.8583" stop-color="#f38a73"/><stop offset="0.9917" stop-color="#f28c77"/></linearGradient>
<linearGradient id="g3_26" x1="0" y1="0" x2="0" y2="1"><stop offset="0.008333" stop-color="#290c24"/><stop offset="0.4083" stop-color="#381322"/><stop offset="0.4583" stop-color="#3d172c"/><stop offset="0.475" stop-color="#431b36"/><stop offset="0.4917" stop-color="#451c39"/><stop offset="0.525" stop-color="#4d2046"/><stop offset="0.5417" stop-color="#552252"/><stop offset="0.5583" stop-color="#552252"/><stop offset="0.575" stop-color="#642662"/><stop offset="0.6083" stop-color="#692766"/><stop offset="0.625" stop-color="#792a71"/><stop offset="0.6583" stop-color="#792a71"/><stop offset="0.675" stop-color="#8f3376"/><stop offset="0.6917" stop-color="#973677"/><stop offset="0.725" stop-color="#973677"/><stop offset="0.7417" stop-color="#a23c76"/><stop offset="0.7583" stop-color="#c34c73"/><stop offset="0.825" stop-color="#c34c73"/><stop offset="0.8417" stop-color="#e57270"/><stop offset="0.8583" stop-color="#f17f6f"/><stop offset="0.9083" stop-color="#f17f6f"/><stop offset="0.9417" stop-color="#ef8374"/><stop offset="0.9917" stop-color="#ef8374"/></linearGradient>
<linearGradient id="g3_27" x1="0" y1="0" x2="0" y2="1"><stop offset="0.008333" stop-color="#411448"/><stop offset="0.3917" stop-color="#581b4a"/><stop offset="0.4583" stop-color="#652053"/><stop offset="0.5417" stop-color="#812968"/><stop offset="0.5583" stop-color="#812968"/><stop offset="0.575" stop-color="#902d6e"/><stop offset="0.6083" stop-color="#942f6f"/><stop offset="0.625" stop-color="#a33471"/><stop offset="0.6583" stop-color="#a33471"/><stop offset="0.675" stop-color="#b53e6f"/><stop offset="0.7083" stop-color="#bb426f"/><stop offset="0.725" stop-color="#bb426f"/><stop offset="0.7417" stop-color="#c4496d"/><stop offset="0.7583" stop-color="#de5d68"/><stop offset="0.825" stop-color="#de5d68"/><stop offset="0.8417" stop-color="#f48c6f"/><stop offset="0.8583" stop-color="#fb9c71"/><stop offset="0.9083" stop-color="#fb9c71"/><stop offset="0.925" stop-color="#fba377"/><stop offset="0.9917" stop-color="#fba377"/></linearGradient>
<linearGradient id="g3_28" x1="0" y1="0" x2="0" y2="1"><stop offset="0.008333" stop-color="#671f71"/><stop offset="0.3417" stop-color="#832873"/><stop offset="0.4583" stop-color="#9c2f75"/><stop offset="0.5083" stop-color="#ad3574"/><stop offset="0.5583" stop-color="#b63a72"/><stop offset="0.575" stop-color="#c1416f"/><stop offset="0.6083" stop-color="#c4436f"/><stop offset="0.625" stop-color="#ce496c"/><stop offset="0.6583" stop-color="#ce496c"/><stop offset="0.675" stop-color="#db5368"/><stop offset="0.725" stop-color="#df5666"/><stop offset="0.7417" stop-color="#e55d65"/><stop offset="0.7583" stop-color="#f5725f"/><stop offset="0.825" stop-color="#f5725f"/><stop offset="0.8417" stop-color="#fc9b6e"/><stop offset="0.8583" stop-color="#fea873"/><stop offset="0.9083" stop-color="#fea873"/><stop offset="0.925" stop-color="#feb27a"/><stop offset="0.9917" stop-color="#feb27a"/></linearGradient>
<linearGradient id="g3_29" x1="0" y1="0" x2="0" y2="1"><stop offset="0.008333" stop-color="#000004"/><stop offset="0.3917" stop-color="#010005"/><stop offset="0.4583" stop-color="#060518"/><stop offset="0.475" stop-color="#0d0a27"/><stop offset="0.4917" stop-color="#0f0b2c"/><stop offset="0.5083" stop-color="#170f3b"/><stop offset="0.525" stop-color="#1b0f42"/><stop offset="0.5417" stop-color="#261155"/><stop offset="0.5583" stop-color="#261155"/><stop offset="0.575" stop-color="#3c106f"/><stop offset="0.5917" stop-color="#3c106f"/><stop offset="0.6083" stop-color="#431173"/><stop offset="0.625" stop-color="#58157d"/><stop offset="0.6583" stop-color="#58157d"/><stop offset="0.675" stop-color="#782280"/><stop offset="0.6917" stop-color="#832681"/><stop offset="0.725" stop-color="#832681"/><stop offset="0.7417" stop-color="#952c7d"/><stop offset="0.7583" stop-color="#cb4070"/><stop offset="0.825" stop-color="#cb4070"/><stop offset="0.8417" stop-color="#ef8f7a"/><stop offset="0.8583" stop-color="#faaa7d"/><stop offset="0.9083" stop-color="#faaa7d"/><stop offset="0.9417" stop-color="#faaf83"/><stop offset="0.9917" stop-color="#faaf83"/></linearGradient>
<linearGradient id="g3_30" x1="0" y1="0" x2="0" y2="1"><stop offset="0.008333" stop-color="#3d1142"/><stop offset="0.3917" stop-color="#531941"/><stop offset="0.4583" stop-color="#5b1c45"/><stop offset="0.5417" stop-color="#73275b"/><stop offset="0.5583" stop-color="#73275b"/><stop offset="0.575" stop-color="#812b66"/><stop offset="0.6083" stop-color="#862c68"/><stop offset="0.625" stop-color="#942f6f"/><stop offset="0.6583" stop-color="#942f6f"/><stop offset="0.675" stop-color="#a73a70"/><stop offset="0.6917" stop-color="#ae3d70"/><stop offset="0.725" stop-color="#ae3d70"/><stop offset="0.7417" stop-color="#b7436f"/><stop offset="0.7583" stop-color="#d1566d"/><stop offset="0.825" stop-color="#d1566d"/><stop offset="0.8417" stop-color="#ee7869"/><stop offset="0.8583" stop-color="#f88467"/><stop offset="0.9083" stop-color="#f88467"/><stop offset="0.9417" stop-color="#f7896b"/><stop offset="0.9917" stop-color="#f7896b"/></linearGradient>
<linearGradient id="g3_31" x1="0" y1="0" x2="0" y2="1"><stop offset="0.008333" stop-color="#270b23"/><stop offset="0.425" stop-color="#351122"/><stop offset="0.4583" stop-color="#381326"/><stop offset="0.475" stop-color="#3d1730"/><stop offset="0.4917" stop-color="#3f1834"/><stop offset="0.525" stop-color="#481d42"/><stop offset="0.5417" stop-color="#502150"/><stop offset="0.5583" stop-color="#502150"/><stop offset="0.575" stop-color="#622266"/><stop offset="0.6083" stop-color="#68236a"/><stop offset="0.625" stop-color="#7a2674"/><stop offset="0.6583" stop-color="#7a2674"/><stop offset="0.675" stop-color="#963477"/><stop offset="0.6917" stop-color="#9f3878"/><stop offset="0.725" stop-color="#9f3878"/><stop offset="0.7417" stop-color="#af4074"/><stop offset="0.7583" stop-color="#e15669"/><stop offset="0.825" stop-color="#e15669"/><stop offset="0.8417" stop-color="#f79c77"/><stop offset="0.8583" stop-color="#feb47c"/><stop offset="0.9083" stop-color="#feb47c"/><stop offset="0.925" stop-color="#febd82"/><stop offset="0.9917" stop-color="#febd82"/></linearGradient>
<linearGradient id="g3_32" x1="0" y1="0" x2="0" y2="1"><stop offset="0.008333" stop-color="#000004"/><stop offset="0.4083" stop-color="#010005"/><stop offset="0.4583" stop-color="#03020f"/><stop offset="0.475" stop-color="#08061d"/><stop offset="0.4917" stop-color="#0a0822"/><stop offset="0.5083" stop-color="#110c30"/><stop offset="0.525" stop-color="#140d36"/><stop offset="0.5417" stop-color="#1f114a"/><stop offset="0.5583" stop-color="#1f114a"/><stop offset="0.575" stop-color="#341068"/><stop offset="0.5917" stop-color="#341068"/><stop offset="0.6083" stop-color="#3c116d"/><stop offset="0.625" stop-color="#52137c"/><stop offset="0.6583" stop-color="#52137c"/><stop offset="0.675" stop-color="#762180"/><stop offset="0.6917" stop-color="#822581"/><stop offset="0.725" stop-color="#822581"/><stop offset="0.7417" stop-color="#972d7c"/><stop offset="0.7583" stop-color="#d8456c"/><stop offset="0.825" stop-color="#d8456c"/><stop offset="0.8417" stop-color="#f59575"/><stop offset="0.8583" stop-color="#feaf78"/><stop offset="0.9083" stop-color="#feaf78"/><stop offset="0.925" stop-color="#feb77e"/><stop offset="0.9917" stop-color="#feb77e"/></linearGradient>
<linearGradient id="g3_33" x1="0" y1="0" x2="0" y2="1"><stop offset="0.008333" stop-color="#431442"/><stop offset="0.425" stop-color="#5d1c3f"/><stop offset="0.4917" stop-color="#682247"/><stop offset="0.5417" stop-color="#772956"/><stop offset="0.5583" stop-color="#772956"/><stop offset="0.575" stop-color="#842d62"/><stop offset="0.6083" stop-color="#882e64"/><stop offset="0.625" stop-color="#96326c"/><stop offset="0.6583" stop-color="#96326c"/><stop offset="0.675" stop-color="#ab3c6e"/><stop offset="0.6917" stop-color="#b2406f"/><stop offset="0.725" stop-color="#b2406f"/><stop offset="0.7417" stop-color="#bc476e"/><stop offset="0.7583" stop-color="#dc5d6a"/><stop offset="0.825" stop-color="#dc5d6a"/><stop offset="0.8417" stop-color="#f2886f"/><stop offset="0.8583" stop-color="#f99771"/><stop offset="0.9083" stop-color="#f99771"/><stop offset="0.925" stop-color="#f99e77"/><stop offset="0.9917" stop-color="#f99e77"/></linearGradient>
<linearGradient id="g3_34" x1="0" y1="0" x2="0" y2="1"><stop offset="0.008333" stop-color="#000004"/><stop offset="0.425" stop-color="#010106"/><stop offset="0.4583" stop-color="#02010a"/><stop offset="0.475" stop-color="#060516"/><stop offset="0.4917" stop-color="#07061b"/><stop offset="0.5083" stop-color="#0d0927"/><stop offset="0.525" stop-color="#100b2d"/><stop offset="0.5417" stop-color="#180f3d"/><stop offset="0.5583" stop-color="#180f3d"/><stop offset="0.575" stop-color="#2a1059"/><stop offset="0.5917" stop-color="#2a1059"/><stop offset="0.6083" stop-color="#301160"/><stop offset="0.625" stop-color="#451274"/><stop offset="0.6583" stop-color="#451274"/><stop offset="0.675" stop-color="#661c7d"/><stop offset="0.6917" stop-color="#711f80"/><stop offset="0.725" stop-color="#711f80"/><stop offset="0.7417" stop-color="#84267e"/><stop offset="0.7583" stop-color="#bb3a75"/><stop offset="0.825" stop-color="#bb3a75"/><stop offset="0.8417" stop-color="#e26f72"/><stop offset="0.8583" stop-color="#f08071"/><stop offset="0.9917" stop-color="#ee8375"/></linearGradient>
<linearGradient id="g3_35" x1="0" y1="0" x2="0" y2="1"><stop offset="0.008333" stop-color="#51185a"/><stop offset="0.375" stop-color="#6c1f5b"/><stop offset="0.4583" stop-color="#7a245e"/><stop offset="0.5417" stop-color="#933069"/><stop offset="0.5583" stop-color="#933069"/><stop offset="0.575" stop-color="#a0346e"/><stop offset="0.6083" stop-color="#a4366e"/><stop offset="0.625" stop-color="#b13c6f"/><stop offset="0.6583" stop-color="#b13c6f"/><stop offset="0.675" stop-color="#c3466d"/><stop offset="0.7083" stop-color="#c84a6c"/><stop offset="0.725" stop-color="#c84a6c"/><stop offset="0.7417" stop-color="#d1516a"/><stop offset="0.7583" stop-color="#ea6763"/><stop offset="0.825" stop-color="#ea6763"/><stop offset="0.8417" stop-color="#f89771"/><stop offset="0.8583" stop-color="#fda775"/><stop offset="0.9083" stop-color="#fda775"/><stop offset="0.925" stop-color="#fdb07d"/><stop offset="0.9917" stop-color="#fdb07d"/></linearGradient>
<linearGradient id="g3_36" x1="0" y1="0" x2="0" y2="1"><stop offset="0.008333" stop-color="#531941"/><stop offset="0.425" stop-color="#702639"/><stop offset="0.4583" stop-color="#74293c"/><stop offset="0.525" stop-color="#82344f"/><stop offset="0.5417" stop-color="#893758"/><stop offset="0.5583" stop-color="#893758"/><stop offset="0.575" stop-color="#963965"/><stop offset="0.6083" stop-color="#9a3b67"/><stop offset="0.625" stop-color="#a7416d"/><stop offset="0.6583" stop-color="#a7416d"/><stop offset="0.675" stop-color="#b94d6f"/><stop offset="0.6917" stop-color="#bf506f"/><stop offset="0.725" stop-color="#bf506f"/><stop offset="0.7417" stop-color="#ca576d"/><stop offset="0.7583" stop-color="#ea6967"/><stop offset="0.825" stop-color="#ea6967"/><stop offset="0.8417" stop-color="#f99a71"/><stop offset="0.8583" stop-color="#feaa74"/><stop offset="0.9083" stop-color="#feaa74"/><stop offset="0.925" stop-color="#feb47c"/><stop offset="0.9917" stop-color="#feb47c"/></linearGradient>
<linearGradient id="g3_37" x1="0" y1="0" x2="0" y2="1"><stop offset="0.008333" stop-color="#7c255f"/><stop offset="0.3417" stop-color="#9c3154"/><stop offset="0.4583" stop-color="#ac3c53"/><stop offset="0.5583" stop-color="#bd495d"/><stop offset="0.575" stop-color="#c64f62"/><stop offset="0.6083" stop-color="#c85162"/><stop offset="0.625" stop-color="#d05864"/><stop offset="0.6583" stop-color="#d05864"/><stop offset="0.675" stop-color="#da6266"/><stop offset="0.725" stop-color="#dd6666"/><stop offset="0.7417" stop-color="#e36b66"/><stop offset="0.7583" stop-color="#f37b65"/><stop offset="0.825" stop-color="#f37b65"/><stop offset="0.8417" stop-color="#fb9a6e"/><stop offset="0.8583" stop-color="#fea471"/><stop offset="0.9083" stop-color="#fea471"/><stop offset="0.925" stop-color="#feb078"/><stop offset="0.9917" stop-color="#feb078"/></linearGradient>
<linearGradient id="g3_38" x1="0" y1="0" x2="0" y2="1"><stop offset="0.008333" stop-color="#000004"/><stop offset="0.3917" stop-color="#010005"/><stop offset="0.4583" stop-color="#060519"/><stop offset="0.475" stop-color="#0e0a29"/><stop offset="0.4917" stop-color="#100b2e"/><stop offset="0.5083" stop-color="#180f3e"/><stop offset="0.525" stop-color="#1c1044"/><stop offset="0.5417" stop-color="#281159"/><stop offset="0.5583" stop-color="#281159"/><stop offset="0.575" stop-color="#3f0f73"/><stop offset="0.5917" stop-color="#3f0f73"/><stop offset="0.6083" stop-color="#471176"/><stop offset="0.625" stop-color="#5d177f"/><stop offset="0.6583" stop-color="#5d177f"/><stop offset="0.675" stop-color="#7e2481"/><stop offset="0.6917" stop-color="#892881"/><stop offset="0.725" stop-color="#892881"/><stop offset="0.7417" stop-color="#9d2f7c"/><stop offset="0.7583" stop-color="#d8466b"/><stop offset="0.825" stop-color="#d8466b"/><stop offset="0.8417" stop-color="#f5a380"/><stop offset="0.8583" stop-color="#fec387"/><stop offset="0.9083" stop-color="#fec387"/><stop offset="0.925" stop-color="#fecb8e"/><stop offset="0.9917" stop-color="#fecb8e"/></linearGradient>
<linearGradient id="g3_39" x1="0" y1="0" x2="0" y2="1"><stop offset="0.008333" stop-color="#000004"/><stop offset="0.4083" stop-color="#010005"/><stop offset="0.4583" stop-color="#040311"/><stop offset="0.475" stop-color="#09071f"/><stop offset="0.4917" stop-color="#0b0823"/><stop offset="0.5083" stop-color="#110c30"/><stop offset="0.525" stop-color="#140d36"/><stop offset="0.5417" stop-color="#1e1048"/><stop offset="0.5583" stop-color="#1e1048"/><stop offset="0.575" stop-color="#311064"/><stop offset="0.5917" stop-color="#311064"/><stop offset="0.6083" stop-color="#381169"/><stop offset="0.625" stop-color="#4c1279"/><stop offset="0.6583" stop-color="#4c1279"/><stop offset="0.675" stop-color="#6b1d7f"/><stop offset="0.6917" stop-color="#752081"/><stop offset="0.725" stop-color="#752081"/><stop offset="0.7417" stop-color="#85267f"/><stop offset="0.7583" stop-color="#b63778"/><stop offset="0.825" stop-color="#b63778"/><stop offset="0.8417" stop-color="#e1626c"/><stop offset="0.8583" stop-color="#ef7068"/><stop offset="0.9917" stop-color="#ee716a"/></linearGradient>
<linearGradient id="g3_40" x1="0" y1="0" x2="0" y2="1"><stop offset="0.008333" stop-color="#220a24"/><stop offset="0.4417" stop-color="#311026"/><stop offset="0.4583" stop-color="#321027"/><stop offset="0.475" stop-color="#371331"/><stop offset="0.525" stop-color="#411940"/><stop offset="0.5417" stop-color="#491c4c"/><stop offset="0.5583" stop-color="#491c4c"/><stop offset="0.575" stop-color="#581f5f"/><stop offset="0.6083" stop-color="#5e2063"/><stop offset="0.625" stop-color="#6f2271"/><stop offset="0.6583" stop-color="#6f2271"/><stop offset="0.675" stop-color="#882c76"/><stop offset="0.6917" stop-color="#912f78"/><stop offset="0.725" stop-color="#912f78"/><stop offset="0.7417" stop-color="#9e3676"/><stop offset="0.7583" stop-color="#c64972"/><stop offset="0.825" stop-color="#c64972"/><stop offset="0.8417" stop-color="#e7706c"/><stop offset="0.8583" stop-color="#f27d6a"/><stop offset="0.9917" stop-color="#f2816e"/></linearGradient>
<linearGradient id="g3_41" x1="0" y1="0" x2="0" y2="1"><stop offset="0.008333" stop-color="#742260"/><stop offset="0.3417" stop-color="#942d58"/><stop offset="0.4917" stop-color="#a93a56"/><stop offset="0.5583" stop-color="#b4425b"/><stop offset="0.575" stop-color="#bd4760"/><stop offset="0.6083" stop-color="#c04961"/><stop offset="0.625" stop-color="#c84e64"/><stop offset="0.6583" stop-color="#c84e64"/><stop offset="0.675" stop-color="#d25965"/><stop offset="0.725" stop-color="#d65d65"/><stop offset="0.7417" stop-color="#db6366"/><stop offset="0.7583" stop-color="#ea7468"/><stop offset="0.825" stop-color="#ea7468"/><stop offset="0.8417" stop-color="#f88d69"/><stop offset="0.8583" stop-color="#fc9569"/><stop offset="0.9083" stop-color="#fc9569"/><stop offset="0.925" stop-color="#fd9f6f"/><stop offset="0.9917" stop-color="#fd9f6f"/></linearGradient>
<linearGradient id="g3_42" x1="0" y1="0" x2="0" y2="1"><stop offset="0.008333" stop-color="#611c62"/><stop offset="0.375" stop-color="#80265e"/><stop offset="0.4583" stop-color="#8e2c61"/><stop offset="0.5417" stop-color="#a7356a"/><stop offset="0.5583" stop-color="#a7356a"/><stop offset="0.575" stop-color="#b4396d"/><stop offset="0.6083" stop-color="#b83b6c"/><stop offset="0.625" stop-color="#c3416b"/><stop offset="0.6583" stop-color="#c3416b"/><stop offset="0.675" stop-color="#d24d68"/><stop offset="0.7083" stop-color="#d75166"/><stop offset="0.725" stop-color="#d75166"/><stop offset="0.7417" stop-color="#dd5965"/><stop offset="0.7583" stop-color="#f16f61"/><stop offset="0.825" stop-color="#f16f61"/><stop offset="0.8417" stop-color="#fb976d"/><stop offset="0.8583" stop-color="#fea471"/><stop offset="0.9083" stop-color="#fea471"/><stop offset="0.925" stop-color="#feaf78"/><stop offset="0.9917" stop-color="#feaf78"/></linearGradient>
<linearGradient id="g3_43" x1="0" y1="0" x2="0" y2="1"><stop offset="0.008333" stop-color="#4d1743"/><stop offset="0.3917" stop-color="#66203f"/><stop offset="0.4583" stop-color="#712749"/><stop offset="0.5417" stop-color="#8b3161"/><stop offset="0.5583" stop-color="#8b3161"/><stop offset="0.575" stop-color="#983569"/><stop offset="0.6083" stop-color="#9c376a"/><stop offset="0.625" stop-color="#a83d6d"/><stop offset="0.6583" stop-color="#a83d6d"/><stop offset="0.675" stop-color="#b8486e"/><stop offset="0.7083" stop-color="#bd4b6e"/><stop offset="0.725" stop-color="#bd4b6e"/><stop offset="0.7417" stop-color="#c5516d"/><stop offset="0.7583" stop-color="#dc626b"/><stop offset="0.825" stop-color="#dc626b"/><stop offset="0.8417" stop-color="#f18870"/><stop offset="0.8583" stop-color="#f89571"/><stop offset="0.9083" stop-color="#f89571"/><stop offset="0.925" stop-color="#f79c77"/><stop offset="0.9917" stop-color="#f79c77"/></linearGradient>
<clipPath id="c3"><rect x="342.10" y="129.60" width="200.90" height="59.00"/></clipPath>
<linearGradient id="g4_0" x1="0" y1="0" x2="0" y2="1"><stop offset="0.008333" stop-color="#3b4cc0"/><stop offset="0.275" stop-color="#3c4fc2"/><stop offset="0.3417" stop-color="#465dcf"/><stop offset="0.4083" stop-color="#5d7ce6"/><stop offset="0.4417" stop-color="#7699f6"/><stop offset="0.4917" stop-color="#8fb1fe"/><stop offset="0.5583" stop-color="#aac6fd"/><stop offset="0.575" stop-color="#b6cefa"/><stop offset="0.5917" stop-color="#b6cefa"/><stop offset="0.625" stop-color="#c6d6f1"/><stop offset="0.6583" stop-color="#cbd8ed"/><stop offset="0.675" stop-color="#d9dce1"/><stop offset="0.725" stop-color="#d9dce1"/><stop offset="0.7583" stop-color="#edd1c2"/><stop offset="0.825" stop-color="#edd1c2"/><stop offset="0.8417" stop-color="#f5a588"/><stop offset="0.8917" stop-color="#f5a588"/><stop offset="0.9083" stop-color="#f39e82"/><stop offset="0.925" stop-color="#ee8a6e"/><stop offset="0.9917" stop-color="#ee8a6e"/></linearGradient>
<linearGradient id="g4_1" x1="0" y1="0" x2="0" y2="1"><stop offset="0.008333" stop-color="#3b4cc0"/><stop offset="0.1917" stop-color="#3c4fc2"/><stop offset="0.2583" stop-color="#485fd1"/><stop offset="0.325" stop-color="#688aee"/><stop offset="0.3583" stop-color="#88aafc"/><stop offset="0.3917" stop-color="#a2c1fe"/><stop offset="0.475" stop-color="#c6d6f1"/><stop offset="0.6083" stop-color="#dfdbda"/><stop offset="0.6583" stop-color="#e4d9d2"/><stop offset="0.675" stop-color="#ead5c9"/><stop offset="0.725" stop-color="#ead5c9"/><stop offset="0.7583" stop-color="#f3c8b2"/><stop offset="0.825" stop-color="#f3c8b2"/><stop offset="0.8417" stop-color="#f5a284"/><stop offset="0.8917" stop-color="#f5a284"/><stop offset="0.9083" stop-color="#f39c7e"/><stop offset="0.925" stop-color="#ee876b"/><stop offset="0.9917" stop-color="#ee876b"/></linearGradient>
<linearGradient id="g4_2" x1="0" y1="0" x2="0" y2="1"><stop offset="0.008333" stop-color="#3b4cc0"/><stop offset="0.325" stop-color="#3d50c3"/><stop offset="0.4083" stop-color="#4e68d7"/><stop offset="0.475" stop-color="#6888eb"/><stop offset="0.5583" stop-color="#87a8f8"/><stop offset="0.575" stop-color="#93b3fb"/><stop offset="0.5917" stop-color="#93b3fb"/><stop offset="0.625" stop-color="#a8c3fa"/><stop offset="0.6417" stop-color="#a8c3fa"/><stop offset="0.6583" stop-color="#aec7f8"/><stop offset="0.675" stop-color="#c2d3f1"/><stop offset="0.725" stop-color="#c2d3f1"/><stop offset="0.7583" stop-color="#e3d8d2"/><stop offset="0.825" stop-color="#e3d8d2"/><stop offset="0.8417" stop-color="#f5c1a9"/><stop offset="0.8917" stop-color="#f5c1a9"/><stop offset="0.9083" stop-color="#f6bda3"/><stop offset="0.925" stop-color="#f7b194"/><stop offset="0.9917" stop-color="#f7b194"/></linearGradient>
<linearGradient id="g4_3" x1="0" y1="0" x2="0" y2="1"><stop offset="0.008333" stop-color="#3b4cc0"/><stop offset="0.225" stop-color="#3c4fc3"/><stop offset="0.3083" stop-color="#475ecf"/><stop offset="0.3917" stop-color="#6884e4"/><stop offset="0.475" stop-color="#8ba6ef"/><stop offset="0.5583" stop-color="#a6bcf1"/><stop offset="0.575" stop-color="#b0c4f1"/><stop offset="0.5917" stop-color="#b0c4f1"/><stop offset="0.625" stop-color="#bfcdec"/><stop offset="0.6583" stop-color="#c4cfe9"/><stop offset="0.675" stop-color="#d2d4e1"/><stop offset="0.725" stop-color="#d2d4e1"/><stop offset="0.7583" stop-color="#ead1c5"/><stop offset="0.825" stop-color="#ead1c5"/><stop offset="0.8417" stop-color="#f6bda3"/><stop offset="0.8917" stop-color="#f6bda3"/><stop offset="0.9083" stop-color="#f6b99e"/><stop offset="0.925" stop-color="#f7ac8e"/><stop offset="0.9917" stop-color="#f7ac8e"/></linearGradient>
<linearGradient id="g4_4" x1="0" y1="0" x2="0" y2="1"><stop offset="0.008333" stop-color="#3b4cc0"/><stop offset="0.2083" stop-color="#3b4dc1"/><stop offset="0.2917" stop-color="#485fd0"/><stop offset="0.3417" stop-color="#5b79e2"/><stop offset="0.3917" stop-color="#7c9cf3"/><stop offset="0.4417" stop-color="#9bb8f8"/><stop offset="0.5417" stop-color="#c0d1f0"/><stop offset="0.575" stop-color="#cbd6ea"/><stop offset="0.6083" stop-color="#d1d7e5"/><stop offset="0.6583" stop-color="#dad8dc"/><stop offset="0.675" stop-color="#e3d6d1"/><stop offset="0.725" stop-color="#e3d6d1"/><stop offset="0.7583" stop-color="#f1cbb8"/><stop offset="0.825" stop-color="#f1cbb8"/><stop offset="0.8417" stop-color="#f6b094"/><stop offset="0.8917" stop-color="#f6b094"/><stop offset="0.9083" stop-color="#f5ab8e"/><stop offset="0.925" stop-color="#f39a7d"/><stop offset="0.9917" stop-color="#f39a7d"/></linearGradient>
<linearGradient id="g4_5" x1="0" y1="0" x2="0" y2="1"><stop offset="0.008333" stop-color="#3b4cc0"/><stop offset="0.325" stop-color="#3c4fc3"/><stop offset="0.4083" stop-color="#4c66d6"/><stop offset="0.4917" stop-color="#6e8fef"/><stop offset="0.5583" stop-color="#88a9f9"/><stop offset="0.575" stop-color="#95b5fc"/><stop offset="0.5917" stop-color="#95b5fc"/><stop offset="0.625" stop-color="#a9c4fb"/><stop offset="0.6417" stop-color="#a9c4fb"/><stop offset="0.6583" stop-color="#afc8f8"/><stop offset="0.675" stop-color="#c3d4f1"/><stop offset="0.725" stop-color="#c3d4f1"/><stop offset="0.7583" stop-color="#e4d8d1"/><stop offset="0.825" stop-color="#e4d8d1"/><stop offset="0.8417" stop-color="#f5c0a8"/><stop offset="0.8917" stop-color="#f5c0a8"/><stop offset="0.9083" stop-color="#f6bca2"/><stop offset="0.925" stop-color="#f7b093"/><stop offset="0.9917" stop-color="#f7b093"/></linearGradient>
<linearGradient id="g4_6" x1="0" y1="0" x2="0" y2="1"><stop offset="0.008333" stop-color="#3b4cc0"/><stop offset="0.2583" stop-color="#3d50c4"/><stop offset="0.3417" stop-color="#4c64d2"/><stop offset="0.4583" stop-color="#7b97ec"/><stop offset="0.5583" stop-color="#9db6f3"/><stop offset="0.575" stop-color="#a7bff3"/><stop offset="0.5917" stop-color="#a7bff3"/><stop offset="0.625" stop-color="#b8caf0"/><stop offset="0.6583" stop-color="#bdccee"/><stop offset="0.675" stop-color="#cdd4e6"/><stop offset="0.725" stop-color="#cdd4e6"/><stop offset="0.7583" stop-color="#e8d3c9"/><stop offset="0.825" stop-color="#e8d3c9"/><stop offset="0.8417" stop-color="#f6bfa6"/><stop offset="0.8917" stop-color="#f6bfa6"/><stop offset="0.9083" stop-color="#f6bba0"/><stop offset="0.925" stop-color="#f7ae90"/><stop offset="0.9917" stop-color="#f7ae90"/></linearGradient>
<linearGradient id="g4_7" x1="0" y1="0" x2="0" y2="1"><stop offset="0.008333" stop-color="#3b4cc0"/><stop offset="0.225" stop-color="#3b4dc1"/><stop offset="0.2917" stop-color="#445bcd"/><stop offset="0.3583" stop-color="#607fe8"/><stop offset="0.4083" stop-color="#83a7fb"/><stop offset="0.425" stop-color="#96b7ff"/><stop offset="0.5083" stop-color="#b8d0f9"/><stop offset="0.575" stop-color="#cfdaeb"/><stop offset="0.6083" stop-color="#d4dbe5"/><stop offset="0.6583" stop-color="#dddbdc"/><stop offset="0.675" stop-color="#e6d7cf"/><stop offset="0.725" stop-color="#e6d7cf"/><stop offset="0.7583" stop-color="#f2cab6"/><stop offset="0.825" stop-color="#f2cab6"/><stop offset="0.8417" stop-color="#f29476"/><stop offset="0.8917" stop-color="#f29476"/><stop offset="0.9083" stop-color="#ef8c70"/><stop offset="0.925" stop-color="#e6745b"/><stop offset="0.9917" stop-color="#e6745b"/></linearGradient>
<linearGradient id="g4_8" x1="0" y1="0" x2="0" y2="1"><stop offset="0.008333" stop-color="#3b4cc0"/><stop offset="0.2083" stop-color="#3b4dc1"/><stop offset="0.2917" stop-color="#4a62d3"/><stop offset="0.3583" stop-color="#6c8ef1"/><stop offset="0.4083" stop-color="#96b7ff"/><stop offset="0.425" stop-color="#a4c2fe"/><stop offset="0.5083" stop-color="#c5d6f2"/><stop offset="0.575" stop-color="#d6dce4"/><stop offset="0.6083" stop-color="#dbdbde"/><stop offset="0.6583" stop-color="#e2d9d5"/><stop offset="0.675" stop-color="#e9d5c9"/><stop offset="0.725" stop-color="#e9d5c9"/><stop offset="0.7583" stop-color="#f3c8b2"/><stop offset="0.825" stop-color="#f3c8b2"/><stop offset="0.8417" stop-color="#f5a587"/><stop offset="0.8917" stop-color="#f5a587"/><stop offset="0.9083" stop-color="#f39e81"/><stop offset="0.925" stop-color="#ee8a6e"/><stop offset="0.9917" stop-color="#ee8a6e"/></linearGradient>
<linearGradient id="g4_9" x1="0" y1="0" x2="0" y2="1"><stop offset="0.008333" stop-color="#3b4cc0"/><stop offset="0.275" stop-color="#3c4ec2"/><stop offset="0.325" stop-color="#4055c8"/><stop offset="0.4083" stop-color="#5a78e3"/><stop offset="0.4417" stop-color="#7194f3"/><stop offset="0.4917" stop-color="#8badfc"/><stop offset="0.5583" stop-color="#a6c3fd"/><stop offset="0.575" stop-color="#b2ccfb"/><stop offset="0.5917" stop-color="#b2ccfb"/><stop offset="0.625" stop-color="#c3d5f3"/><stop offset="0.6583" stop-color="#c8d7ef"/><stop offset="0.675" stop-color="#d6dbe3"/><stop offset="0.725" stop-color="#d6dbe3"/><stop offset="0.7583" stop-color="#ecd2c3"/><stop offset="0.825" stop-color="#ecd2c3"/><stop offset="0.8417" stop-color="#f5ac8f"/><stop offset="0.8917" stop-color="#f5ac8f"/><stop offset="0.9083" stop-color="#f4a689"/><stop offset="0.925" stop-color="#f19376"/><stop offset="0.9917" stop-color="#f19376"/></linearGradient>
<linearGradient id="g4_10" x1="0" y1="0" x2="0" y2="1"><stop offset="0.008333" stop-color="#3b4cc0"/><stop offset="0.2583" stop-color="#3d50c3"/><stop offset="0.3417" stop-color="#4960cf"/><stop offset="0.475" stop-color="#7a97ec"/><stop offset="0.5583" stop-color="#96b1f4"/><stop offset="0.575" stop-color="#a1bbf5"/><stop offset="0.5917" stop-color="#a1bbf5"/><stop offset="0.625" stop-color="#b3c7f3"/><stop offset="0.6583" stop-color="#b9caf0"/><stop offset="0.675" stop-color="#cad3e9"/><stop offset="0.725" stop-color="#cad3e9"/><stop offset="0.7583" stop-color="#e6d5cc"/><stop offset="0.825" stop-color="#e6d5cc"/><stop offset="0.8417" stop-color="#f5c0a7"/><stop offset="0.8917" stop-color="#f5c0a7"/><stop offset="0.9083" stop-color="#f6bca2"/><stop offset="0.925" stop-color="#f7af92"/><stop offset="0.9917" stop-color="#f7af92"/></linearGradient>
<linearGradient id="g4_11" x1="0" y1="0" x2="0" y2="1"><stop offset="0.008333" stop-color="#3b4cc0"/><stop offset="0.2583" stop-color="#3d4fc3"/><stop offset="0.325" stop-color="#475fd0"/><stop offset="0.4083" stop-color="#6e91f2"/><stop offset="0.4417" stop-color="#8baefd"/><stop offset="0.5417" stop-color="#b6cefa"/><stop offset="0.5583" stop-color="#bad0f8"/><stop offset="0.575" stop-color="#c3d5f3"/><stop offset="0.5917" stop-color="#c3d5f3"/><stop offset="0.625" stop-color="#d1dae9"/><stop offset="0.6583" stop-color="#d5dae5"/><stop offset="0.675" stop-color="#e0dbd8"/><stop offset="0.725" stop-color="#e0dbd8"/><stop offset="0.7583" stop-color="#f0cebc"/><stop offset="0.825" stop-color="#f0cebc"/><stop offset="0.8417" stop-color="#f49b7d"/><stop offset="0.8917" stop-color="#f49b7d"/><stop offset="0.9083" stop-color="#f19477"/><stop offset="0.925" stop-color="#ea7d62"/><stop offset="0.9917" stop-color="#ea7d62"/></linearGradient>
<linearGradient id="g4_12" x1="0" y1="0" x2="0" y2="1"><stop offset="0.008333" stop-color="#3b4cc0"/><stop offset="0.2417" stop-color="#3d4fc3"/><stop offset="0.2917" stop-color="#4359cb"/><stop offset="0.3583" stop-color="#5b7ae5"/><stop offset="0.4083" stop-color="#7ca0f9"/><stop offset="0.425" stop-color="#8eb1fe"/><stop offset="0.5083" stop-color="#b3ccfb"/><stop offset="0.575" stop-color="#cbd8ee"/><stop offset="0.5917" stop-color="#cbd8ee"/><stop offset="0.625" stop-color="#d7dce3"/><stop offset="0.6583" stop-color="#dadbdf"/><stop offset="0.675" stop-color="#e4d9d2"/><stop offset="0.725" stop-color="#e4d9d2"/><stop offset="0.7583" stop-color="#f1cbb8"/><stop offset="0.825" stop-color="#f1cbb8"/><stop offset="0.8417" stop-color="#f49f81"/><stop offset="0.8917" stop-color="#f49f81"/><stop offset="0.9083" stop-color="#f2977a"/><stop offset="0.925" stop-color="#ec8266"/><stop offset="0.9917" stop-color="#ec8266"/></linearGradient>
<linearGradient id="g4_13" x1="0" y1="0" x2="0" y2="1"><stop offset="0.008333" stop-color="#3b4cc0"/><stop offset="0.2583" stop-color="#3c4fc2"/><stop offset="0.325" stop-color="#4359cb"/><stop offset="0.4083" stop-color="#607de4"/><stop offset="0.4417" stop-color="#7493ef"/><stop offset="0.5417" stop-color="#9db9f8"/><stop offset="0.5583" stop-color="#a0bcf7"/><stop offset="0.575" stop-color="#acc4f7"/><stop offset="0.5917" stop-color="#acc4f7"/><stop offset="0.625" stop-color="#bdcff1"/><stop offset="0.6583" stop-color="#c2d1ee"/><stop offset="0.675" stop-color="#d1d6e4"/><stop offset="0.725" stop-color="#d1d6e4"/><stop offset="0.7583" stop-color="#ead3c6"/><stop offset="0.825" stop-color="#ead3c6"/><stop offset="0.8417" stop-color="#f6bba0"/><stop offset="0.8917" stop-color="#f6bba0"/><stop offset="0.9083" stop-color="#f6b69b"/><stop offset="0.925" stop-color="#f6a88a"/><stop offset="0.9917" stop-color="#f6a88a"/></linearGradient>
<linearGradient id="g4_14" x1="0" y1="0" x2="0" y2="1"><stop offset="0.008333" stop-color="#3b4cc0"/><stop offset="0.2417" stop-color="#3c4ec2"/><stop offset="0.3083" stop-color="#445bcd"/><stop offset="0.375" stop-color="#5e7ce6"/><stop offset="0.4083" stop-color="#7193f3"/><stop offset="0.425" stop-color="#81a4fa"/><stop offset="0.475" stop-color="#9cbcfe"/><stop offset="0.575" stop-color="#c4d5f3"/><stop offset="0.5917" stop-color="#c4d5f3"/><stop offset="0.625" stop-color="#d2dbe8"/><stop offset="0.6583" stop-color="#d6dbe4"/><stop offset="0.675" stop-color="#e0dad7"/><stop offset="0.725" stop-color="#e0dad7"/><stop offset="0.7583" stop-color="#f0cdbb"/><stop offset="0.825" stop-color="#f0cdbb"/><stop offset="0.8417" stop-color="#f5a588"/><stop offset="0.8917" stop-color="#f5a588"/><stop offset="0.9083" stop-color="#f39f82"/><stop offset="0.925" stop-color="#ee8b6f"/><stop offset="0.9917" stop-color="#ee8b6f"/></linearGradient>
<linearGradient id="g4_15" x1="0" y1="0" x2="0" y2="1"><stop offset="0.008333" stop-color="#3b4cc0"/><stop offset="0.2083" stop-color="#3d4fc3"/><stop offset="0.2583" stop-color="#4258ca"/><stop offset="0.325" stop-color="#5977e1"/><stop offset="0.375" stop-color="#7e9ef4"/><stop offset="0.4417" stop-color="#a4bff9"/><stop offset="0.525" stop-color="#c2d2f0"/><stop offset="0.575" stop-color="#d0d8e7"/><stop offset="0.6083" stop-color="#d5d9e2"/><stop offset="0.6583" stop-color="#ddd8da"/><stop offset="0.675" stop-color="#e5d6cf"/><stop offset="0.725" stop-color="#e5d6cf"/><stop offset="0.7583" stop-color="#f1cab6"/><stop offset="0.825" stop-color="#f1cab6"/><stop offset="0.8417" stop-color="#f5ac90"/><stop offset="0.8917" stop-color="#f5ac90"/><stop offset="0.9083" stop-color="#f4a78a"/><stop offset="0.925" stop-color="#f19578"/><stop offset="0.9917" stop-color="#f19578"/></linearGradient>
<linearGradient id="g4_16" x1="0" y1="0" x2="0" y2="1"><stop offset="0.008333" stop-color="#3b4cc0"/><stop offset="0.2583" stop-color="#3d4fc3"/><stop offset="0.325" stop-color="#465dce"/><stop offset="0.4083" stop-color="#6989ec"/><stop offset="0.4417" stop-color="#81a1f6"/><stop offset="0.5417" stop-color="#abc5f9"/><stop offset="0.5583" stop-color="#afc7f8"/><stop offset="0.575" stop-color="#b9cef5"/><stop offset="0.5917" stop-color="#b9cef5"/><stop offset="0.625" stop-color="#c9d6ec"/><stop offset="0.6583" stop-color="#cdd7e8"/><stop offset="0.675" stop-color="#dad9dd"/><stop offset="0.725" stop-color="#dad9dd"/><stop offset="0.7583" stop-color="#edd0c0"/><stop offset="0.825" stop-color="#edd0c0"/><stop offset="0.8417" stop-color="#f6b296"/><stop offset="0.8917" stop-color="#f6b296"/><stop offset="0.9083" stop-color="#f5ad90"/><stop offset="0.925" stop-color="#f39c7f"/><stop offset="0.9917" stop-color="#f39c7f"/></linearGradient>
<linearGradient id="g4_17" x1="0" y1="0" x2="0" y2="1"><stop offset="0.008333" stop-color="#3b4cc0"/><stop offset="0.2417" stop-color="#3c4ec2"/><stop offset="0.3083" stop-color="#4359cb"/><stop offset="0.375" stop-color="#5a78e2"/><stop offset="0.4083" stop-color="#6c8def"/><stop offset="0.4417" stop-color="#86a7f9"/><stop offset="0.5417" stop-color="#b0c9f9"/><stop offset="0.5583" stop-color="#b4cbf8"/><stop offset="0.575" stop-color="#bed2f4"/><stop offset="0.5917" stop-color="#bed2f4"/><stop offset="0.625" stop-color="#cdd8ea"/><stop offset="0.6583" stop-color="#d1d8e6"/><stop offset="0.675" stop-color="#dddada"/><stop offset="0.725" stop-color="#dddada"/><stop offset="0.7583" stop-color="#efcebe"/><stop offset="0.825" stop-color="#efcebe"/><stop offset="0.8417" stop-color="#f6b194"/><stop offset="0.8917" stop-color="#f6b194"/><stop offset="0.9083" stop-color="#f5ab8e"/><stop offset="0.925" stop-color="#f39a7d"/><stop offset="0.9917" stop-color="#f39a7d"/></linearGradient>
<linearGradient id="g4_18" x1="0" y1="0" x2="0" y2="1"><stop offset="0.008333" stop-color="#3b4cc0"/><stop offset="0.1917" stop-color="#3c4ec2"/><stop offset="0.2583" stop-color="#475fd0"/><stop offset="0.325" stop-color="#6889ee"/><stop offset="0.3583" stop-color="#86a9fc"/><stop offset="0.3917" stop-color="#a1c0fe"/><stop offset="0.475" stop-color="#c5d6f2"/><stop offset="0.575" stop-color="#dbdcdf"/><stop offset="0.6083" stop-color="#dfdbda"/><stop offset="0.6583" stop-color="#e4d9d2"/><stop offset="0.675" stop-color="#ead5c9"/><stop offset="0.725" stop-color="#ead5c9"/><stop offset="0.7583" stop-color="#f3c8b2"/><stop offset="0.825" stop-color="#f3c8b2"/><stop offset="0.8417" stop-color="#f39779"/><stop offset="0.8917" stop-color="#f39779"/><stop offset="0.9083" stop-color="#f08f72"/><stop offset="0.925" stop-color="#e8775e"/><stop offset="0.9917" stop-color="#e8775e"/></linearGradient>
<linearGradient id="g4_19" x1="0" y1="0" x2="0" y2="1"><stop offset="0.008333" stop-color="#3b4cc0"/><stop offset="0.2583" stop-color="#3b4dc1"/><stop offset="0.325" stop-color="#4358cb"/><stop offset="0.4083" stop-color="#6182ea"/><stop offset="0.4417" stop-color="#7da0f9"/><stop offset="0.5083" stop-color="#9bbbff"/><stop offset="0.5583" stop-color="#afcafc"/><stop offset="0.575" stop-color="#bad1f8"/><stop offset="0.5917" stop-color="#bad1f8"/><stop offset="0.625" stop-color="#cad8ef"/><stop offset="0.6583" stop-color="#ced9ea"/><stop offset="0.675" stop-color="#dbdcde"/><stop offset="0.725" stop-color="#dbdcde"/><stop offset="0.7583" stop-color="#eed0bf"/><stop offset="0.825" stop-color="#eed0bf"/><stop offset="0.8417" stop-color="#f49c7e"/><stop offset="0.8917" stop-color="#f49c7e"/><stop offset="0.9083" stop-color="#f29578"/><stop offset="0.925" stop-color="#ea7f64"/><stop offset="0.9917" stop-color="#ea7f64"/></linearGradient>
<linearGradient id="g4_20" x1="0" y1="0" x2="0" y2="1"><stop offset="0.008333" stop-color="#3b4cc0"/><stop offset="0.2417" stop-color="#3c4ec2"/><stop offset="0.3083" stop-color="#455cce"/><stop offset="0.375" stop-color="#5f7fe7"/><stop offset="0.4083" stop-color="#7396f5"/><stop offset="0.425" stop-color="#84a7fb"/><stop offset="0.475" stop-color="#9ebefe"/><stop offset="0.5417" stop-color="#bad0f8"/><stop offset="0.575" stop-color="#c5d6f2"/><stop offset="0.5917" stop-color="#c5d6f2"/><stop offset="0.625" stop-color="#d3dbe7"/><stop offset="0.6583" stop-color="#d7dbe3"/><stop offset="0.675" stop-color="#e1dad6"/><stop offset="0.725" stop-color="#e1dad6"/><stop offset="0.7583" stop-color="#f0cdba"/><stop offset="0.825" stop-color="#f0cdba"/><stop offset="0.8417" stop-color="#f6ab8e"/><stop offset="0.8917" stop-color="#f6ab8e"/><stop offset="0.9083" stop-color="#f4a588"/><stop offset="0.925" stop-color="#f19275"/><stop offset="0.9917" stop-color="#f19275"/></linearGradient>
<linearGradient id="g4_21" x1="0" y1="0" x2="0" y2="1"><stop offset="0.008333" stop-color="#3b4cc0"/><stop offset="0.2083" stop-color="#3d50c3"/><stop offset="0.2583" stop-color="#445bcd"/><stop offset="0.325" stop-color="#607fe8"/><stop offset="0.375" stop-color="#8badfd"/><stop offset="0.425" stop-color="#abc7fd"/><stop offset="0.5083" stop-color="#cad8ee"/><stop offset="0.6083" stop-color="#dddbdb"/><stop offset="0.6583" stop-color="#e3d9d3"/><stop offset="0.675" stop-color="#ead5c9"/><stop offset="0.725" stop-color="#ead5c9"/><stop offset="0.7583" stop-color="#f3c8b2"/><stop offset="0.825" stop-color="#f3c8b2"/><stop offset="0.8417" stop-color="#f49d80"/><stop offset="0.8917" stop-color="#f49d80"/><stop offset="0.9083" stop-color="#f19679"/><stop offset="0.925" stop-color="#ea8065"/><stop offset="0.9917" stop-color="#ea8065"/></linearGradient>
<linearGradient id="g4_22" x1="0" y1="0" x2="0" y2="1"><stop offset="0.008333" stop-color="#3b4cc0"/><stop offset="0.2083" stop-color="#3c4fc3"/><stop offset="0.275" stop-color="#4961d2"/><stop offset="0.325" stop-color="#5e7de7"/><stop offset="0.375" stop-color="#87a9fb"/><stop offset="0.425" stop-color="#a9c6fd"/><stop offset="0.5083" stop-color="#c9d7ef"/><stop offset="0.6083" stop-color="#dcdbdc"/><stop offset="0.6583" stop-color="#e3d9d4"/><stop offset="0.675" stop-color="#e9d5c9"/><stop offset="0.725" stop-color="#e9d5c9"/><stop offset="0.7583" stop-color="#f3c8b2"/><stop offset="0.825" stop-color="#f3c8b2"/><stop offset="0.8417" stop-color="#f5a789"/><stop offset="0.8917" stop-color="#f5a789"/><stop offset="0.9083" stop-color="#f4a083"/><stop offset="0.925" stop-color="#ef8c70"/><stop offset="0.9917" stop-color="#ef8c70"/></linearGradient>
<linearGradient id="g4_23" x1="0" y1="0" x2="0" y2="1"><stop offset="0.008333" stop-color="#3b4cc0"/><stop offset="0.2083" stop-color="#3c4ec2"/><stop offset="0.275" stop-color="#455bcd"/><stop offset="0.325" stop-color="#536edb"/><stop offset="0.3917" stop-color="#7a98ee"/><stop offset="0.4417" stop-color="#94b0f3"/><stop offset="0.575" stop-color="#c2d0eb"/><stop offset="0.5917" stop-color="#c2d0eb"/><stop offset="0.625" stop-color="#cfd4e4"/><stop offset="0.6583" stop-color="#d2d5e0"/><stop offset="0.675" stop-color="#ddd5d7"/><stop offset="0.725" stop-color="#ddd5d7"/><stop offset="0.7583" stop-color="#eecdbc"/><stop offset="0.825" stop-color="#eecdbc"/><stop offset="0.8417" stop-color="#f6b79c"/><stop offset="0.8917" stop-color="#f6b79c"/><stop offset="0.9083" stop-color="#f6b296"/><stop offset="0.925" stop-color="#f5a385"/><stop offset="0.9917" stop-color="#f5a385"/></linearGradient>
<linearGradient id="g4_24" x1="0" y1="0" x2="0" y2="1"><stop offset="0.008333" stop-color="#3b4cc0"/><stop offset="0.2083" stop-color="#3c4ec2"/><stop offset="0.275" stop-color="#475ed0"/><stop offset="0.3417" stop-color="#6586ec"/><stop offset="0.3917" stop-color="#8eb0fd"/><stop offset="0.425" stop-color="#a7c4fe"/><stop offset="0.5083" stop-color="#c8d7f0"/><stop offset="0.575" stop-color="#d8dce2"/><stop offset="0.6083" stop-color="#dcdbdd"/><stop offset="0.6583" stop-color="#e3d9d4"/><stop offset="0.675" stop-color="#ead5c9"/><stop offset="0.725" stop-color="#ead5c9"/><stop offset="0.7583" stop-color="#f3c8b2"/><stop offset="0.825" stop-color="#f3c8b2"/><stop offset="0.8417" stop-color="#f59f81"/><stop offset="0.8917" stop-color="#f59f81"/><stop offset="0.9083" stop-color="#f2987b"/><stop offset="0.925" stop-color="#ec8367"/><stop offset="0.9917" stop-color="#ec8367"/></linearGradient>
<linearGradient id="g4_25" x1="0" y1="0" x2="0" y2="1"><stop offset="0.008333" stop-color="#3b4cc0"/><stop offset="0.225" stop-color="#3c4fc2"/><stop offset="0.2917" stop-color="#465ecf"/><stop offset="0.3583" stop-color="#6484ea"/><stop offset="0.425" stop-color="#96b6fc"/><stop offset="0.5083" stop-color="#bacff6"/><stop offset="0.575" stop-color="#cfd9e9"/><stop offset="0.6083" stop-color="#d4dae4"/><stop offset="0.6583" stop-color="#dddadb"/><stop offset="0.675" stop-color="#e6d7cf"/><stop offset="0.725" stop-color="#e6d7cf"/><stop offset="0.7583" stop-color="#f2cab6"/><stop offset="0.825" stop-color="#f2cab6"/><stop offset="0.8417" stop-color="#f5ab8e"/><stop offset="0.8917" stop-color="#f5ab8e"/><stop offset="0.9083" stop-color="#f4a588"/><stop offset="0.925" stop-color="#f19376"/><stop offset="0.9917" stop-color="#f19376"/></linearGradient>
<linearGradient id="g4_26" x1="0" y1="0" x2="0" y2="1"><stop offset="0.008333" stop-color="#3b4cc0"/><stop offset="0.2083" stop-color="#3d4fc3"/><stop offset="0.275" stop-color="#4962d2"/><stop offset="0.325" stop-color="#5f7ee7"/><stop offset="0.375" stop-color="#88abfc"/><stop offset="0.425" stop-color="#aac7fd"/><stop offset="0.5083" stop-color="#cad8ef"/><stop offset="0.6083" stop-color="#dddbdc"/><stop offset="0.6583" stop-color="#e3d9d3"/><stop offset="0.675" stop-color="#ead5c9"/><stop offset="0.725" stop-color="#ead5c9"/><stop offset="0.7583" stop-color="#f3c8b2"/><stop offset="0.825" stop-color="#f3c8b2"/><stop offset="0.8417" stop-color="#f39678"/><stop offset="0.8917" stop-color="#f39678"/><stop offset="0.9083" stop-color="#f08e71"/><stop offset="0.925" stop-color="#e7755c"/><stop offset="0.9917" stop-color="#e7755c"/></linearGradient>
<linearGradient id="g4_27" x1="0" y1="0" x2="0" y2="1"><stop offset="0.008333" stop-color="#3b4cc0"/><stop offset="0.2583" stop-color="#3d50c3"/><stop offset="0.325" stop-color="#475ecf"/><stop offset="0.4083" stop-color="#6987e9"/><stop offset="0.4417" stop-color="#7f9ef2"/><stop offset="0.5583" stop-color="#aac3f6"/><stop offset="0.575" stop-color="#b5caf4"/><stop offset="0.5917" stop-color="#b5caf4"/><stop offset="0.625" stop-color="#c5d2ed"/><stop offset="0.6583" stop-color="#c9d3e9"/><stop offset="0.675" stop-color="#d7d7df"/><stop offset="0.725" stop-color="#d7d7df"/><stop offset="0.7583" stop-color="#ecd0c2"/><stop offset="0.825" stop-color="#ecd0c2"/><stop offset="0.8417" stop-color="#f6b99e"/><stop offset="0.8917" stop-color="#f6b99e"/><stop offset="0.9083" stop-color="#f6b498"/><stop offset="0.925" stop-color="#f6a588"/><stop offset="0.9917" stop-color="#f6a588"/></linearGradient>
<linearGradient id="g4_28" x1="0" y1="0" x2="0" y2="1"><stop offset="0.008333" stop-color="#3b4cc0"/><stop offset="0.2083" stop-color="#3b4dc1"/><stop offset="0.2917" stop-color="#475ecf"/><stop offset="0.3583" stop-color="#6382e8"/><stop offset="0.4083" stop-color="#85a5f5"/><stop offset="0.4417" stop-color="#99b6f7"/><stop offset="0.5417" stop-color="#bfd0f0"/><stop offset="0.575" stop-color="#cad5ea"/><stop offset="0.6083" stop-color="#d0d6e5"/><stop offset="0.6583" stop-color="#d9d7dd"/><stop offset="0.675" stop-color="#e2d6d2"/><stop offset="0.725" stop-color="#e2d6d2"/><stop offset="0.7583" stop-color="#f0cbb8"/><stop offset="0.825" stop-color="#f0cbb8"/><stop offset="0.8417" stop-color="#f6b498"/><stop offset="0.8917" stop-color="#f6b498"/><stop offset="0.9083" stop-color="#f6af92"/><stop offset="0.925" stop-color="#f49f81"/><stop offset="0.9917" stop-color="#f49f81"/></linearGradient>
<linearGradient id="g4_29" x1="0" y1="0" x2="0" y2="1"><stop offset="0.008333" stop-color="#3b4cc0"/><stop offset="0.325" stop-color="#3c4ec2"/><stop offset="0.4083" stop-color="#4a62d3"/><stop offset="0.5083" stop-color="#6e90f1"/><stop offset="0.5583" stop-color="#82a4f9"/><stop offset="0.575" stop-color="#8fb0fc"/><stop offset="0.5917" stop-color="#8fb0fc"/><stop offset="0.625" stop-color="#a4c1fc"/><stop offset="0.6417" stop-color="#a4c1fc"/><stop offset="0.6583" stop-color="#abc5fa"/><stop offset="0.675" stop-color="#bfd2f4"/><stop offset="0.725" stop-color="#bfd2f4"/><stop offset="0.7583" stop-color="#e2d9d4"/><stop offset="0.825" stop-color="#e2d9d4"/><stop offset="0.8417" stop-color="#f5c1a9"/><stop offset="0.8917" stop-color="#f5c1a9"/><stop offset="0.9083" stop-color="#f6bda4"/><stop offset="0.925" stop-color="#f7b194"/><stop offset="0.9917" stop-color="#f7b194"/></linearGradient>
<linearGradient id="g4_30" x1="0" y1="0" x2="0" y2="1"><stop offset="0.008333" stop-color="#3b4cc0"/><stop offset="0.2917" stop-color="#3d50c4"/><stop offset="0.3583" stop-color="#4860d0"/><stop offset="0.4083" stop-color="#5874de"/><stop offset="0.4417" stop-color="#6b89ea"/><stop offset="0.5583" stop-color="#96b3f7"/><stop offset="0.575" stop-color="#a1bdf8"/><stop offset="0.5917" stop-color="#a1bdf8"/><stop offset="0.625" stop-color="#b4c9f5"/><stop offset="0.6583" stop-color="#b9ccf2"/><stop offset="0.675" stop-color="#cbd5ea"/><stop offset="0.725" stop-color="#cbd5ea"/><stop offset="0.7583" stop-color="#e7d5cc"/><stop offset="0.825" stop-color="#e7d5cc"/><stop offset="0.8417" stop-color="#f6bea4"/><stop offset="0.8917" stop-color="#f6bea4"/><stop offset="0.9083" stop-color="#f6ba9f"/><stop offset="0.925" stop-color="#f7ad8f"/><stop offset="0.9917" stop-color="#f7ad8f"/></linearGradient>
<linearGradient id="g4_31" x1="0" y1="0" x2="0" y2="1"><stop offset="0.008333" stop-color="#3b4cc0"/><stop offset="0.2917" stop-color="#3d4fc3"/><stop offset="0.3583" stop-color="#465dce"/><stop offset="0.425" stop-color="#5e7ae1"/><stop offset="0.5417" stop-color="#8baaf6"/><stop offset="0.5583" stop-color="#8fadf7"/><stop offset="0.575" stop-color="#9bb8f9"/><stop offset="0.5917" stop-color="#9bb8f9"/><stop offset="0.625" stop-color="#aec6f7"/><stop offset="0.6417" stop-color="#aec6f7"/><stop offset="0.6583" stop-color="#b4c9f4"/><stop offset="0.675" stop-color="#c7d3ed"/><stop offset="0.725" stop-color="#c7d3ed"/><stop offset="0.7583" stop-color="#e5d6cf"/><stop offset="0.825" stop-color="#e5d6cf"/><stop offset="0.8417" stop-color="#f5c0a7"/><stop offset="0.8917" stop-color="#f5c0a7"/><stop offset="0.9083" stop-color="#f6bca2"/><stop offset="0.925" stop-color="#f7b093"/><stop offset="0.9917" stop-color="#f7b093"/></linearGradient>
<linearGradient id="g4_32" x1="0" y1="0" x2="0" y2="1"><stop offset="0.008333" stop-color="#3b4cc0"/><stop offset="0.2083" stop-color="#3b4dc1"/><stop offset="0.275" stop-color="#455bcd"/><stop offset="0.3417" stop-color="#607fe8"/><stop offset="0.3917" stop-color="#86a8fb"/><stop offset="0.425" stop-color="#a0bffe"/><stop offset="0.5083" stop-color="#c2d4f3"/><stop offset="0.575" stop-color="#d5dbe5"/><stop offset="0.6083" stop-color="#dadbdf"/><stop offset="0.6583" stop-color="#e1dad6"/><stop offset="0.675" stop-color="#e8d6cb"/><stop offset="0.725" stop-color="#e8d6cb"/><stop offset="0.7583" stop-color="#f3c8b3"/><stop offset="0.825" stop-color="#f3c8b3"/><stop offset="0.8417" stop-color="#f6aa8d"/><stop offset="0.8917" stop-color="#f6aa8d"/><stop offset="0.9083" stop-color="#f4a386"/><stop offset="0.925" stop-color="#f09174"/><stop offset="0.9917" stop-color="#f09174"/></linearGradient>
<linearGradient id="g4_33" x1="0" y1="0" x2="0" y2="1"><stop offset="0.008333" stop-color="#3b4cc0"/><stop offset="0.225" stop-color="#3c4fc2"/><stop offset="0.2917" stop-color="#475ed0"/><stop offset="0.3583" stop-color="#6687ed"/><stop offset="0.4083" stop-color="#8db0fe"/><stop offset="0.425" stop-color="#9ebeff"/><stop offset="0.525" stop-color="#c5d6f2"/><stop offset="0.575" stop-color="#d3dbe7"/><stop offset="0.6083" stop-color="#d8dce1"/><stop offset="0.6583" stop-color="#e0dbd8"/><stop offset="0.675" stop-color="#e8d6cc"/><stop offset="0.725" stop-color="#e8d6cc"/><stop offset="0.7583" stop-color="#f2c9b4"/><stop offset="0.825" stop-color="#f2c9b4"/><stop offset="0.8417" stop-color="#f5a082"/><stop offset="0.8917" stop-color="#f5a082"/><stop offset="0.9083" stop-color="#f3997c"/><stop offset="0.925" stop-color="#ec8468"/><stop offset="0.9917" stop-color="#ec8468"/></linearGradient>
<linearGradient id="g4_34" x1="0" y1="0" x2="0" y2="1"><stop offset="0.008333" stop-color="#3b4cc0"/><stop offset="0.2083" stop-color="#3c4fc2"/><stop offset="0.275" stop-color="#445acb"/><stop offset="0.325" stop-color="#506ad7"/><stop offset="0.3917" stop-color="#738fe9"/><stop offset="0.475" stop-color="#97b0f1"/><stop offset="0.5583" stop-color="#b0c3ef"/><stop offset="0.575" stop-color="#b9c9ee"/><stop offset="0.5917" stop-color="#b9c9ee"/><stop offset="0.625" stop-color="#c6d0e8"/><stop offset="0.6583" stop-color="#cbd1e5"/><stop offset="0.675" stop-color="#d7d5dd"/><stop offset="0.725" stop-color="#d7d5dd"/><stop offset="0.7583" stop-color="#ecd0c1"/><stop offset="0.825" stop-color="#ecd0c1"/><stop offset="0.8417" stop-color="#f6baa0"/><stop offset="0.8917" stop-color="#f6baa0"/><stop offset="0.9083" stop-color="#f6b69a"/><stop offset="0.925" stop-color="#f6a88a"/><stop offset="0.9917" stop-color="#f6a88a"/></linearGradient>
<linearGradient id="g4_35" x1="0" y1="0" x2="0" y2="1"><stop offset="0.008333" stop-color="#3b4cc0"/><stop offset="0.2917" stop-color="#3d50c3"/><stop offset="0.3417" stop-color="#4459cc"/><stop offset="0.4083" stop-color="#5774e0"/><stop offset="0.4417" stop-color="#6c8ced"/><stop offset="0.5417" stop-color="#97b5fa"/><stop offset="0.5583" stop-color="#9bb9fa"/><stop offset="0.575" stop-color="#a7c2fa"/><stop offset="0.5917" stop-color="#a7c2fa"/><stop offset="0.625" stop-color="#b9cef5"/><stop offset="0.6583" stop-color="#bfd0f2"/><stop offset="0.675" stop-color="#cfd8e8"/><stop offset="0.725" stop-color="#cfd8e8"/><stop offset="0.7583" stop-color="#e9d4c9"/><stop offset="0.825" stop-color="#e9d4c9"/><stop offset="0.8417" stop-color="#f6b99f"/><stop offset="0.8917" stop-color="#f6b99f"/><stop offset="0.9083" stop-color="#f6b599"/><stop offset="0.925" stop-color="#f6a688"/><stop offset="0.9917" stop-color="#f6a688"/></linearGradient>
<linearGradient id="g4_36" x1="0" y1="0" x2="0" y2="1"><stop offset="0.008333" stop-color="#3b4cc0"/><stop offset="0.3083" stop-color="#3d50c3"/><stop offset="0.3917" stop-color="#4d66d5"/><stop offset="0.4917" stop-color="#7393ef"/><stop offset="0.5583" stop-color="#8babf8"/><stop offset="0.575" stop-color="#97b6fa"/><stop offset="0.5917" stop-color="#97b6fa"/><stop offset="0.625" stop-color="#abc5f8"/><stop offset="0.6417" stop-color="#abc5f8"/><stop offset="0.6583" stop-color="#b1c8f6"/><stop offset="0.675" stop-color="#c4d3ef"/><stop offset="0.725" stop-color="#c4d3ef"/><stop offset="0.7583" stop-color="#e4d7d0"/><stop offset="0.825" stop-color="#e4d7d0"/><stop offset="0.8417" stop-color="#f5c0a8"/><stop offset="0.8917" stop-color="#f5c0a8"/><stop offset="0.9083" stop-color="#f6bca2"/><stop offset="0.925" stop-color="#f7b093"/><stop offset="0.9917" stop-color="#f7b093"/></linearGradient>
<linearGradient id="g4_37" x1="0" y1="0" x2="0" y2="1"><stop offset="0.008333" stop-color="#3b4cc0"/><stop offset="0.1917" stop-color="#3c4ec1"/><stop offset="0.2583" stop-color="#4359cb"/><stop offset="0.325" stop-color="#5b79e2"/><stop offset="0.375" stop-color="#81a0f3"/><stop offset="0.475" stop-color="#b1c7f4"/><stop offset="0.575" stop-color="#ced7e7"/><stop offset="0.6083" stop-color="#d3d7e2"/><stop offset="0.6583" stop-color="#dbd7db"/><stop offset="0.675" stop-color="#e4d6d1"/><stop offset="0.725" stop-color="#e4d6d1"/><stop offset="0.7583" stop-color="#f1cbb7"/><stop offset="0.825" stop-color="#f1cbb7"/><stop offset="0.8417" stop-color="#f6b397"/><stop offset="0.8917" stop-color="#f6b397"/><stop offset="0.9083" stop-color="#f5ad91"/><stop offset="0.925" stop-color="#f49d7f"/><stop offset="0.9917" stop-color="#f49d7f"/></linearGradient>
<linearGradient id="g4_38" x1="0" y1="0" x2="0" y2="1"><stop offset="0.008333" stop-color="#3b4cc0"/><stop offset="0.2583" stop-color="#3c4ec2"/><stop offset="0.325" stop-color="#455bcd"/><stop offset="0.4083" stop-color="#6889ee"/><stop offset="0.4417" stop-color="#85a8fb"/><stop offset="0.525" stop-color="#a9c6fd"/><stop offset="0.575" stop-color="#bed3f6"/><stop offset="0.5917" stop-color="#bed3f6"/><stop offset="0.625" stop-color="#ced9ec"/><stop offset="0.6583" stop-color="#d2dae8"/><stop offset="0.675" stop-color="#dddcdc"/><stop offset="0.725" stop-color="#dddcdc"/><stop offset="0.7583" stop-color="#efcebd"/><stop offset="0.825" stop-color="#efcebd"/><stop offset="0.8417" stop-color="#f6a587"/><stop offset="0.8917" stop-color="#f6a587"/><stop offset="0.9083" stop-color="#f49e81"/><stop offset="0.925" stop-color="#ef8a6d"/><stop offset="0.9917" stop-color="#ef8a6d"/></linearGradient>
<linearGradient id="g4_39" x1="0" y1="0" x2="0" y2="1"><stop offset="0.008333" stop-color="#3b4cc0"/><stop offset="0.275" stop-color="#3d4fc3"/><stop offset="0.325" stop-color="#4155c8"/><stop offset="0.4083" stop-color="#5b79e3"/><stop offset="0.4417" stop-color="#7293f2"/><stop offset="0.525" stop-color="#97b7fc"/><stop offset="0.5583" stop-color="#a3c0fb"/><stop offset="0.575" stop-color="#afc9fa"/><stop offset="0.5917" stop-color="#afc9fa"/><stop offset="0.625" stop-color="#c1d3f3"/><stop offset="0.6583" stop-color="#c6d5ef"/><stop offset="0.675" stop-color="#d5dae4"/><stop offset="0.725" stop-color="#d5dae4"/><stop offset="0.7583" stop-color="#ebd2c5"/><stop offset="0.825" stop-color="#ebd2c5"/><stop offset="0.8417" stop-color="#f6b397"/><stop offset="0.8917" stop-color="#f6b397"/><stop offset="0.9083" stop-color="#f5ad91"/><stop offset="0.925" stop-color="#f39d7f"/><stop offset="0.9917" stop-color="#f39d7f"/></linearGradient>
<clipPath id="c4"><rect x="40.90" y="241.30" width="200.70" height="59.00"/></clipPath>
<linearGradient id="g5_0" x1="0" y1="0" x2="0" y2="1"><stop offset="0.008333" stop-color="#3b4cc0"/><stop offset="0.475" stop-color="#3b4cc0"/><stop offset="0.525" stop-color="#455bcd"/><stop offset="0.5583" stop-color="#4d67d7"/><stop offset="0.575" stop-color="#5977e2"/><stop offset="0.5917" stop-color="#5977e2"/><stop offset="0.625" stop-color="#7194f4"/><stop offset="0.6417" stop-color="#7194f4"/><stop offset="0.6583" stop-color="#799cf6"/><stop offset="0.675" stop-color="#92b4fe"/><stop offset="0.725" stop-color="#92b4fe"/><stop offset="0.7583" stop-color="#bdd2f7"/><stop offset="0.825" stop-color="#bdd2f7"/><stop offset="0.8417" stop-color="#f4c5ae"/><stop offset="0.9083" stop-color="#f4c3ac"/><stop offset="0.925" stop-color="#f6bfa5"/><stop offset="0.9917" stop-color="#f6bfa5"/></linearGradient>
<linearGradient id="g5_1" x1="0" y1="0" x2="0" y2="1"><stop offset="0.008333" stop-color="#3b4cc0"/><stop offset="0.475" stop-color="#3c4fc2"/><stop offset="0.525" stop-color="#485fd0"/><stop offset="0.5583" stop-color="#526ddb"/><stop offset="0.575" stop-color="#5e7ee7"/><stop offset="0.5917" stop-color="#5e7ee7"/><stop offset="0.625" stop-color="#7a9df8"/><stop offset="0.6417" stop-color="#7a9df8"/><stop offset="0.6583" stop-color="#83a5f9"/><stop offset="0.675" stop-color="#9dbdfe"/><stop offset="0.725" stop-color="#9dbdfe"/><stop offset="0.7583" stop-color="#c7d7f0"/><stop offset="0.825" stop-color="#c7d7f0"/><stop offset="0.8417" stop-color="#f5ad91"/><stop offset="0.9083" stop-color="#f4aa8e"/><stop offset="0.925" stop-color="#f3a185"/><stop offset="0.9917" stop-color="#f3a185"/></linearGradient>
<linearGradient id="g5_2" x1="0" y1="0" x2="0" y2="1"><stop offset="0.008333" stop-color="#3b4cc0"/><stop offset="0.4083" stop-color="#3c4fc2"/><stop offset="0.4583" stop-color="#475ed0"/><stop offset="0.5417" stop-color="#6e90f1"/><stop offset="0.5583" stop-color="#7596f3"/><stop offset="0.575" stop-color="#88aafb"/><stop offset="0.5917" stop-color="#88aafb"/><stop offset="0.625" stop-color="#a0bffe"/><stop offset="0.6417" stop-color="#a0bffe"/><stop offset="0.6583" stop-color="#a7c3fc"/><stop offset="0.675" stop-color="#bcd1f7"/><stop offset="0.725" stop-color="#bcd1f7"/><stop offset="0.7583" stop-color="#e3d8d3"/><stop offset="0.825" stop-color="#e3d8d3"/><stop offset="0.8417" stop-color="#f39a7d"/><stop offset="0.8917" stop-color="#f39a7d"/><stop offset="0.9083" stop-color="#f29679"/><stop offset="0.925" stop-color="#ee8a6e"/><stop offset="0.9917" stop-color="#ee8a6e"/></linearGradient>
<linearGradient id="g5_3" x1="0" y1="0" x2="0" y2="1"><stop offset="0.008333" stop-color="#3b4cc0"/><stop offset="0.4583" stop-color="#3c4fc3"/><stop offset="0.5083" stop-color="#455cce"/><stop offset="0.5583" stop-color="#5775e1"/><stop offset="0.575" stop-color="#6586ec"/><stop offset="0.5917" stop-color="#6586ec"/><stop offset="0.625" stop-color="#83a6fb"/><stop offset="0.6417" stop-color="#83a6fb"/><stop offset="0.6583" stop-color="#8caefc"/><stop offset="0.675" stop-color="#a7c4fe"/><stop offset="0.725" stop-color="#a7c4fe"/><stop offset="0.7583" stop-color="#d1dae8"/><stop offset="0.825" stop-color="#d1dae8"/><stop offset="0.8417" stop-color="#f29577"/><stop offset="0.8917" stop-color="#f29577"/><stop offset="0.9083" stop-color="#f09074"/><stop offset="0.925" stop-color="#ec8368"/><stop offset="0.9917" stop-color="#ec8368"/></linearGradient>
<linearGradient id="g5_4" x1="0" y1="0" x2="0" y2="1"><stop offset="0.008333" stop-color="#3b4cc0"/><stop offset="0.475" stop-color="#3b4dc1"/><stop offset="0.525" stop-color="#455cce"/><stop offset="0.5583" stop-color="#4e68d7"/><stop offset="0.575" stop-color="#5a78e3"/><stop offset="0.5917" stop-color="#5a78e3"/><stop offset="0.625" stop-color="#7396f5"/><stop offset="0.6417" stop-color="#7396f5"/><stop offset="0.6583" stop-color="#7c9ef7"/><stop offset="0.675" stop-color="#95b7fe"/><stop offset="0.725" stop-color="#95b7fe"/><stop offset="0.7583" stop-color="#c0d3f5"/><stop offset="0.825" stop-color="#c0d3f5"/><stop offset="0.8417" stop-color="#f5bea5"/><stop offset="0.9083" stop-color="#f5bca2"/><stop offset="0.925" stop-color="#f6b69b"/><stop offset="0.9917" stop-color="#f6b69b"/></linearGradient>
<linearGradient id="g5_5" x1="0" y1="0" x2="0" y2="1"><stop offset="0.008333" stop-color="#3b4cc0"/><stop offset="0.4083" stop-color="#3b4dc1"/><stop offset="0.475" stop-color="#4860d1"/><stop offset="0.5583" stop-color="#6c8eef"/><stop offset="0.575" stop-color="#7fa2f9"/><stop offset="0.5917" stop-color="#7fa2f9"/><stop offset="0.625" stop-color="#9abafe"/><stop offset="0.6417" stop-color="#9abafe"/><stop offset="0.6583" stop-color="#a2c0fd"/><stop offset="0.675" stop-color="#b9d0f8"/><stop offset="0.725" stop-color="#b9d0f8"/><stop offset="0.7583" stop-color="#e1d9d6"/><stop offset="0.825" stop-color="#e1d9d6"/><stop offset="0.8417" stop-color="#f08e71"/><stop offset="0.8917" stop-color="#f08e71"/><stop offset="0.9083" stop-color="#ee896d"/><stop offset="0.925" stop-color="#e97b61"/><stop offset="0.9917" stop-color="#e97b61"/></linearGradient>
<linearGradient id="g5_6" x1="0" y1="0" x2="0" y2="1"><stop offset="0.008333" stop-color="#3b4cc0"/><stop offset="0.4083" stop-color="#3c4fc2"/><stop offset="0.4583" stop-color="#475ed0"/><stop offset="0.5417" stop-color="#6f91f2"/><stop offset="0.5583" stop-color="#7597f5"/><stop offset="0.575" stop-color="#89acfc"/><stop offset="0.5917" stop-color="#89acfc"/><stop offset="0.625" stop-color="#a1c0fe"/><stop offset="0.6417" stop-color="#a1c0fe"/><stop offset="0.6583" stop-color="#a9c5fc"/><stop offset="0.675" stop-color="#bed3f6"/><stop offset="0.725" stop-color="#bed3f6"/><stop offset="0.7583" stop-color="#e6d8d0"/><stop offset="0.825" stop-color="#e6d8d0"/><stop offset="0.8417" stop-color="#f39677"/><stop offset="0.8917" stop-color="#f39677"/><stop offset="0.9083" stop-color="#f29174"/><stop offset="0.925" stop-color="#ed8468"/><stop offset="0.9917" stop-color="#ed8468"/></linearGradient>
<linearGradient id="g5_7" x1="0" y1="0" x2="0" y2="1"><stop offset="0.008333" stop-color="#3b4cc0"/><stop offset="0.4417" stop-color="#3d4fc3"/><stop offset="0.5083" stop-color="#4b63d4"/><stop offset="0.5583" stop-color="#5e7de6"/><stop offset="0.575" stop-color="#6e90f2"/><stop offset="0.5917" stop-color="#6e90f2"/><stop offset="0.625" stop-color="#8caefd"/><stop offset="0.6417" stop-color="#8caefd"/><stop offset="0.6583" stop-color="#94b5fd"/><stop offset="0.675" stop-color="#afc9fc"/><stop offset="0.725" stop-color="#afc9fc"/><stop offset="0.7583" stop-color="#d8dbe2"/><stop offset="0.825" stop-color="#d8dbe2"/><stop offset="0.8417" stop-color="#f19476"/><stop offset="0.8917" stop-color="#f19476"/><stop offset="0.9083" stop-color="#f08f72"/><stop offset="0.925" stop-color="#eb8267"/><stop offset="0.9917" stop-color="#eb8267"/></linearGradient>
<linearGradient id="g5_8" x1="0" y1="0" x2="0" y2="1"><stop offset="0.008333" stop-color="#3b4cc0"/><stop offset="0.425" stop-color="#3c4ec2"/><stop offset="0.4917" stop-color="#465dce"/><stop offset="0.5583" stop-color="#5e7ce5"/><stop offset="0.575" stop-color="#6e8ff0"/><stop offset="0.5917" stop-color="#6e8ff0"/><stop offset="0.625" stop-color="#89abfb"/><stop offset="0.6417" stop-color="#89abfb"/><stop offset="0.6583" stop-color="#92b2fb"/><stop offset="0.675" stop-color="#abc7fc"/><stop offset="0.725" stop-color="#abc7fc"/><stop offset="0.7583" stop-color="#d4d9e3"/><stop offset="0.825" stop-color="#d4d9e3"/><stop offset="0.8417" stop-color="#f5af93"/><stop offset="0.9083" stop-color="#f5ac90"/><stop offset="0.925" stop-color="#f4a387"/><stop offset="0.9917" stop-color="#f4a387"/></linearGradient>
<linearGradient id="g5_9" x1="0" y1="0" x2="0" y2="1"><stop offset="0.008333" stop-color="#3b4cc0"/><stop offset="0.4583" stop-color="#3c4ec2"/><stop offset="0.5083" stop-color="#445bcd"/><stop offset="0.5583" stop-color="#5673df"/><stop offset="0.575" stop-color="#6484eb"/><stop offset="0.5917" stop-color="#6484eb"/><stop offset="0.625" stop-color="#81a5fb"/><stop offset="0.6417" stop-color="#81a5fb"/><stop offset="0.6583" stop-color="#8aacfb"/><stop offset="0.675" stop-color="#a5c3fe"/><stop offset="0.725" stop-color="#a5c3fe"/><stop offset="0.7583" stop-color="#d0daea"/><stop offset="0.825" stop-color="#d0daea"/><stop offset="0.8417" stop-color="#f19073"/><stop offset="0.8917" stop-color="#f19073"/><stop offset="0.9083" stop-color="#ef8c6f"/><stop offset="0.925" stop-color="#ea7e63"/><stop offset="0.9917" stop-color="#ea7e63"/></linearGradient>
<linearGradient id="g5_10" x1="0" y1="0" x2="0" y2="1"><stop offset="0.008333" stop-color="#3b4cc0"/><stop offset="0.475" stop-color="#3b4cc0"/><stop offset="0.525" stop-color="#455bcd"/><stop offset="0.5583" stop-color="#4e67d7"/><stop offset="0.575" stop-color="#5977e3"/><stop offset="0.5917" stop-color="#5977e3"/><stop offset="0.625" stop-color="#7294f4"/><stop offset="0.6417" stop-color="#7294f4"/><stop offset="0.6583" stop-color="#7a9df7"/><stop offset="0.675" stop-color="#93b5fe"/><stop offset="0.725" stop-color="#93b5fe"/><stop offset="0.7583" stop-color="#bed2f6"/><stop offset="0.825" stop-color="#bed2f6"/><stop offset="0.8417" stop-color="#f5b79d"/><stop offset="0.9083" stop-color="#f5b59a"/><stop offset="0.925" stop-color="#f5ae92"/><stop offset="0.9917" stop-color="#f5ae92"/></linearGradient>
<linearGradient id="g5_11" x1="0" y1="0" x2="0" y2="1"><stop offset="0.008333" stop-color="#3b4cc0"/><stop offset="0.425" stop-color="#3c4ec2"/><stop offset="0.475" stop-color="#4358cb"/><stop offset="0.5583" stop-color="#6181e8"/><stop offset="0.575" stop-color="#7293f3"/><stop offset="0.5917" stop-color="#7293f3"/><stop offset="0.625" stop-color="#8eb0fd"/><stop offset="0.6417" stop-color="#8eb0fd"/><stop offset="0.6583" stop-color="#96b6fc"/><stop offset="0.675" stop-color="#b0cafb"/><stop offset="0.725" stop-color="#b0cafb"/><stop offset="0.7583" stop-color="#d9dae0"/><stop offset="0.825" stop-color="#d9dae0"/><stop offset="0.8417" stop-color="#f39e81"/><stop offset="0.9083" stop-color="#f29a7d"/><stop offset="0.925" stop-color="#ee8e73"/><stop offset="0.9917" stop-color="#ee8e73"/></linearGradient>
<linearGradient id="g5_12" x1="0" y1="0" x2="0" y2="1"><stop offset="0.008333" stop-color="#3b4cc0"/><stop offset="0.475" stop-color="#3d50c3"/><stop offset="0.525" stop-color="#4961d2"/><stop offset="0.5583" stop-color="#536fdc"/><stop offset="0.575" stop-color="#6080e8"/><stop offset="0.5917" stop-color="#6080e8"/><stop offset="0.625" stop-color="#7b9ef8"/><stop offset="0.6417" stop-color="#7b9ef8"/><stop offset="0.6583" stop-color="#84a6f9"/><stop offset="0.675" stop-color="#9ebdfe"/><stop offset="0.725" stop-color="#9ebdfe"/><stop offset="0.7583" stop-color="#c8d6ef"/><stop offset="0.825" stop-color="#c8d6ef"/><stop offset="0.8417" stop-color="#f5bca3"/><stop offset="0.9083" stop-color="#f5baa0"/><stop offset="0.925" stop-color="#f6b499"/><stop offset="0.9917" stop-color="#f6b499"/></linearGradient>
<linearGradient id="g5_13" x1="0" y1="0" x2="0" y2="1"><stop offset="0.008333" stop-color="#3b4cc0"/><stop offset="0.425" stop-color="#3d50c3"/><stop offset="0.475" stop-color="#465cce"/><stop offset="0.5583" stop-color="#6686ea"/><stop offset="0.575" stop-color="#7799f4"/><stop offset="0.5917" stop-color="#7799f4"/><stop offset="0.625" stop-color="#92b3fd"/><stop offset="0.6417" stop-color="#92b3fd"/><stop offset="0.6583" stop-color="#9ab9fc"/><stop offset="0.675" stop-color="#b2cbfa"/><stop offset="0.725" stop-color="#b2cbfa"/><stop offset="0.7583" stop-color="#dbd9dc"/><stop offset="0.825" stop-color="#dbd9dc"/><stop offset="0.8417" stop-color="#f4a487"/><stop offset="0.9083" stop-color="#f3a084"/><stop offset="0.925" stop-color="#f0967a"/><stop offset="0.9917" stop-color="#f0967a"/></linearGradient>
<linearGradient id="g5_14" x1="0" y1="0" x2="0" y2="1"><stop offset="0.008333" stop-color="#3b4cc0"/><stop offset="0.4583" stop-color="#3c4fc3"/><stop offset="0.5083" stop-color="#455cce"/><stop offset="0.5583" stop-color="#5773df"/><stop offset="0.575" stop-color="#6585eb"/><stop offset="0.5917" stop-color="#6585eb"/><stop offset="0.625" stop-color="#81a4fa"/><stop offset="0.6417" stop-color="#81a4fa"/><stop offset="0.6583" stop-color="#8aabfb"/><stop offset="0.675" stop-color="#a4c2fd"/><stop offset="0.725" stop-color="#a4c2fd"/><stop offset="0.7583" stop-color="#ced9ea"/><stop offset="0.825" stop-color="#ced9ea"/><stop offset="0.8417" stop-color="#f4aa8e"/><stop offset="0.9083" stop-color="#f4a68a"/><stop offset="0.925" stop-color="#f29d81"/><stop offset="0.9917" stop-color="#f29d81"/></linearGradient>
<linearGradient id="g5_15" x1="0" y1="0" x2="0" y2="1"><stop offset="0.008333" stop-color="#3b4cc0"/><stop offset="0.4417" stop-color="#3d50c3"/><stop offset="0.4917" stop-color="#465cce"/><stop offset="0.5583" stop-color="#5d7ce5"/><stop offset="0.575" stop-color="#6d8ef0"/><stop offset="0.5917" stop-color="#6d8ef0"/><stop offset="0.625" stop-color="#8aacfc"/><stop offset="0.6417" stop-color="#8aacfc"/><stop offset="0.6583" stop-color="#92b3fc"/><stop offset="0.675" stop-color="#acc8fc"/><stop offset="0.725" stop-color="#acc8fc"/><stop offset="0.7583" stop-color="#d6dae3"/><stop offset="0.825" stop-color="#d6dae3"/><stop offset="0.8417" stop-color="#f4a286"/><stop offset="0.9083" stop-color="#f39f82"/><stop offset="0.925" stop-color="#f09478"/><stop offset="0.9917" stop-color="#f09478"/></linearGradient>
<linearGradient id="g5_16" x1="0" y1="0" x2="0" y2="1"><stop offset="0.008333" stop-color="#3b4cc0"/><stop offset="0.475" stop-color="#3c4ec1"/><stop offset="0.525" stop-color="#475ecf"/><stop offset="0.5583" stop-color="#506bd9"/><stop offset="0.575" stop-color="#5c7be5"/><stop offset="0.5917" stop-color="#5c7be5"/><stop offset="0.625" stop-color="#779af7"/><stop offset="0.6417" stop-color="#779af7"/><stop offset="0.6583" stop-color="#80a2f9"/><stop offset="0.675" stop-color="#9abafe"/><stop offset="0.725" stop-color="#9abafe"/><stop offset="0.7583" stop-color="#c4d5f2"/><stop offset="0.825" stop-color="#c4d5f2"/><stop offset="0.8417" stop-color="#f5b095"/><stop offset="0.9083" stop-color="#f5ad92"/><stop offset="0.925" stop-color="#f4a589"/><stop offset="0.9917" stop-color="#f4a589"/></linearGradient>
<linearGradient id="g5_17" x1="0" y1="0" x2="0" y2="1"><stop offset="0.008333" stop-color="#3b4cc0"/><stop offset="0.475" stop-color="#3d4fc3"/><stop offset="0.525" stop-color="#4961d1"/><stop offset="0.5583" stop-color="#536edc"/><stop offset="0.575" stop-color="#5f7fe8"/><stop offset="0.5917" stop-color="#5f7fe8"/><stop offset="0.625" stop-color="#7b9ef8"/><stop offset="0.6417" stop-color="#7b9ef8"/><stop offset="0.6583" stop-color="#84a6f9"/><stop offset="0.675" stop-color="#9ebdfe"/><stop offset="0.725" stop-color="#9ebdfe"/><stop offset="0.7583" stop-color="#c8d6ef"/><stop offset="0.825" stop-color="#c8d6ef"/><stop offset="0.8417" stop-color="#f5b59b"/><stop offset="0.9083" stop-color="#f5b398"/><stop offset="0.925" stop-color="#f5ab8f"/><stop offset="0.9917" stop-color="#f5ab8f"/></linearGradient>
<linearGradient id="g5_18" x1="0" y1="0" x2="0" y2="1"><stop offset="0.008333" stop-color="#3b4cc0"/><stop offset="0.475" stop-color="#3b4dc1"/><stop offset="0.525" stop-color="#455cce"/><stop offset="0.5583" stop-color="#4e68d8"/><stop offset="0.575" stop-color="#5a78e3"/><stop offset="0.5917" stop-color="#5a78e3"/><stop offset="0.625" stop-color="#7396f5"/><stop offset="0.6417" stop-color="#7396f5"/><stop offset="0.6583" stop-color="#7c9ef7"/><stop offset="0.675" stop-color="#95b7fe"/><stop offset="0.725" stop-color="#95b7fe"/><stop offset="0.7583" stop-color="#c0d3f5"/><stop offset="0.825" stop-color="#c0d3f5"/><stop offset="0.8417" stop-color="#f4c3ac"/><stop offset="0.9083" stop-color="#f5c2a9"/><stop offset="0.925" stop-color="#f6bda3"/><stop offset="0.9917" stop-color="#f6bda3"/></linearGradient>
<linearGradient id="g5_19" x1="0" y1="0" x2="0" y2="1"><stop offset="0.008333" stop-color="#3b4cc0"/><stop offset="0.4583" stop-color="#3c4ec2"/><stop offset="0.5083" stop-color="#445acd"/><stop offset="0.5583" stop-color="#5571de"/><stop offset="0.575" stop-color="#6383ea"/><stop offset="0.5917" stop-color="#6383ea"/><stop offset="0.625" stop-color="#80a3fa"/><stop offset="0.6417" stop-color="#80a3fa"/><stop offset="0.6583" stop-color="#88aafb"/><stop offset="0.675" stop-color="#a3c1fe"/><stop offset="0.725" stop-color="#a3c1fe"/><stop offset="0.7583" stop-color="#cdd9eb"/><stop offset="0.825" stop-color="#cdd9eb"/><stop offset="0.8417" stop-color="#f4a387"/><stop offset="0.9083" stop-color="#f3a083"/><stop offset="0.925" stop-color="#f09579"/><stop offset="0.9917" stop-color="#f09579"/></linearGradient>
<linearGradient id="g5_20" x1="0" y1="0" x2="0" y2="1"><stop offset="0.008333" stop-color="#3b4cc0"/><stop offset="0.4583" stop-color="#3c4ec2"/><stop offset="0.5083" stop-color="#445bcd"/><stop offset="0.5583" stop-color="#5673df"/><stop offset="0.575" stop-color="#6484eb"/><stop offset="0.5917" stop-color="#6484eb"/><stop offset="0.625" stop-color="#82a5fb"/><stop offset="0.6417" stop-color="#82a5fb"/><stop offset="0.6583" stop-color="#8badfc"/><stop offset="0.675" stop-color="#a6c4fe"/><stop offset="0.725" stop-color="#a6c4fe"/><stop offset="0.7583" stop-color="#d0daea"/><stop offset="0.825" stop-color="#d0daea"/><stop offset="0.8417" stop-color="#ef8a6c"/><stop offset="0.8917" stop-color="#ef8a6c"/><stop offset="0.9083" stop-color="#ed8468"/><stop offset="0.925" stop-color="#e7755c"/><stop offset="0.9917" stop-color="#e7755c"/></linearGradient>
<linearGradient id="g5_21" x1="0" y1="0" x2="0" y2="1"><stop offset="0.008333" stop-color="#3b4cc0"/><stop offset="0.475" stop-color="#3c4ec2"/><stop offset="0.525" stop-color="#475fd0"/><stop offset="0.5583" stop-color="#516cda"/><stop offset="0.575" stop-color="#5d7ce6"/><stop offset="0.5917" stop-color="#5d7ce6"/><stop offset="0.625" stop-color="#789bf7"/><stop offset="0.6417" stop-color="#789bf7"/><stop offset="0.6583" stop-color="#81a3f8"/><stop offset="0.675" stop-color="#9bbbfe"/><stop offset="0.725" stop-color="#9bbbfe"/><stop offset="0.7583" stop-color="#c5d5f1"/><stop offset="0.825" stop-color="#c5d5f1"/><stop offset="0.8417" stop-color="#f5bda4"/><stop offset="0.9083" stop-color="#f5bba1"/><stop offset="0.925" stop-color="#f6b59a"/><stop offset="0.9917" stop-color="#f6b59a"/></linearGradient>
<linearGradient id="g5_22" x1="0" y1="0" x2="0" y2="1"><stop offset="0.008333" stop-color="#3b4cc0"/><stop offset="0.475" stop-color="#3c4ec1"/><stop offset="0.525" stop-color="#475ed0"/><stop offset="0.5583" stop-color="#516cda"/><stop offset="0.575" stop-color="#5d7de6"/><stop offset="0.5917" stop-color="#5d7de6"/><stop offset="0.625" stop-color="#7a9df8"/><stop offset="0.6417" stop-color="#7a9df8"/><stop offset="0.6583" stop-color="#83a5fa"/><stop offset="0.675" stop-color="#9dbdff"/><stop offset="0.725" stop-color="#9dbdff"/><stop offset="0.7583" stop-color="#c8d7f0"/><stop offset="0.825" stop-color="#c8d7f0"/><stop offset="0.8417" stop-color="#f08d6f"/><stop offset="0.8917" stop-color="#f08d6f"/><stop offset="0.9083" stop-color="#ee886b"/><stop offset="0.925" stop-color="#e8795f"/><stop offset="0.9917" stop-color="#e8795f"/></linearGradient>
<linearGradient id="g5_23" x1="0" y1="0" x2="0" y2="1"><stop offset="0.008333" stop-color="#3b4cc0"/><stop offset="0.475" stop-color="#3b4cc0"/><stop offset="0.525" stop-color="#445bcd"/><stop offset="0.5583" stop-color="#4d67d6"/><stop offset="0.575" stop-color="#5876e2"/><stop offset="0.5917" stop-color="#5876e2"/><stop offset="0.625" stop-color="#7092f3"/><stop offset="0.6417" stop-color="#7092f3"/><stop offset="0.6583" stop-color="#789af6"/><stop offset="0.675" stop-color="#90b2fe"/><stop offset="0.725" stop-color="#90b2fe"/><stop offset="0.7583" stop-color="#bad1f8"/><stop offset="0.825" stop-color="#bad1f8"/><stop offset="0.8417" stop-color="#f5c0a7"/><stop offset="0.9083" stop-color="#f5bea5"/><stop offset="0.925" stop-color="#f6b89d"/><stop offset="0.9917" stop-color="#f6b89d"/></linearGradient>
<linearGradient id="g5_24" x1="0" y1="0" x2="0" y2="1"><stop offset="0.008333" stop-color="#3b4cc0"/><stop offset="0.425" stop-color="#3c4ec2"/><stop offset="0.475" stop-color="#445acc"/><stop offset="0.5583" stop-color="#6585eb"/><stop offset="0.575" stop-color="#7598f5"/><stop offset="0.5917" stop-color="#7598f5"/><stop offset="0.625" stop-color="#92b4fe"/><stop offset="0.6417" stop-color="#92b4fe"/><stop offset="0.6583" stop-color="#9bbafd"/><stop offset="0.675" stop-color="#b4cdfa"/><stop offset="0.725" stop-color="#b4cdfa"/><stop offset="0.7583" stop-color="#dddbdc"/><stop offset="0.825" stop-color="#dddbdc"/><stop offset="0.8417" stop-color="#f08f72"/><stop offset="0.8917" stop-color="#f08f72"/><stop offset="0.9083" stop-color="#ef8b6e"/><stop offset="0.925" stop-color="#e97c62"/><stop offset="0.9917" stop-color="#e97c62"/></linearGradient>
<linearGradient id="g5_25" x1="0" y1="0" x2="0" y2="1"><stop offset="0.008333" stop-color="#3b4cc0"/><stop offset="0.4583" stop-color="#3d50c3"/><stop offset="0.5083" stop-color="#465ecf"/><stop offset="0.5583" stop-color="#5875e0"/><stop offset="0.575" stop-color="#6687ec"/><stop offset="0.5917" stop-color="#6687ec"/><stop offset="0.625" stop-color="#82a5fa"/><stop offset="0.6417" stop-color="#82a5fa"/><stop offset="0.6583" stop-color="#8bacfb"/><stop offset="0.675" stop-color="#a5c2fd"/><stop offset="0.725" stop-color="#a5c2fd"/><stop offset="0.7583" stop-color="#cfd8e9"/><stop offset="0.825" stop-color="#cfd8e9"/><stop offset="0.8417" stop-color="#f5b398"/><stop offset="0.9083" stop-color="#f5b095"/><stop offset="0.925" stop-color="#f4a98c"/><stop offset="0.9917" stop-color="#f4a98c"/></linearGradient>
<linearGradient id="g5_26" x1="0" y1="0" x2="0" y2="1"><stop offset="0.008333" stop-color="#3b4cc0"/><stop offset="0.475" stop-color="#3c4fc2"/><stop offset="0.525" stop-color="#4860d1"/><stop offset="0.5583" stop-color="#526edb"/><stop offset="0.575" stop-color="#5f7ee7"/><stop offset="0.5917" stop-color="#5f7ee7"/><stop offset="0.625" stop-color="#7a9df7"/><stop offset="0.6417" stop-color="#7a9df7"/><stop offset="0.6583" stop-color="#83a5f9"/><stop offset="0.675" stop-color="#9dbcfe"/><stop offset="0.725" stop-color="#9dbcfe"/><stop offset="0.7583" stop-color="#c7d6f0"/><stop offset="0.825" stop-color="#c7d6f0"/><stop offset="0.8417" stop-color="#f5baa0"/><stop offset="0.9083" stop-color="#f5b89e"/><stop offset="0.925" stop-color="#f6b296"/><stop offset="0.9917" stop-color="#f6b296"/></linearGradient>
<linearGradient id="g5_27" x1="0" y1="0" x2="0" y2="1"><stop offset="0.008333" stop-color="#3b4cc0"/><stop offset="0.4083" stop-color="#3c4ec2"/><stop offset="0.475" stop-color="#4961d2"/><stop offset="0.5583" stop-color="#6d8eef"/><stop offset="0.575" stop-color="#7fa1f8"/><stop offset="0.5917" stop-color="#7fa1f8"/><stop offset="0.625" stop-color="#99b9fe"/><stop offset="0.6417" stop-color="#99b9fe"/><stop offset="0.6583" stop-color="#a1bffc"/><stop offset="0.675" stop-color="#b8cff8"/><stop offset="0.725" stop-color="#b8cff8"/><stop offset="0.7583" stop-color="#e0d9d7"/><stop offset="0.825" stop-color="#e0d9d7"/><stop offset="0.8417" stop-color="#f39a7d"/><stop offset="0.9083" stop-color="#f1967a"/><stop offset="0.925" stop-color="#ee8a6f"/><stop offset="0.9917" stop-color="#ee8a6f"/></linearGradient>
<linearGradient id="g5_28" x1="0" y1="0" x2="0" y2="1"><stop offset="0.008333" stop-color="#3b4cc0"/><stop offset="0.4583" stop-color="#3c4fc2"/><stop offset="0.5083" stop-color="#465cce"/><stop offset="0.5583" stop-color="#5774e0"/><stop offset="0.575" stop-color="#6585ec"/><stop offset="0.5917" stop-color="#6585ec"/><stop offset="0.625" stop-color="#82a5fa"/><stop offset="0.6417" stop-color="#82a5fa"/><stop offset="0.6583" stop-color="#8badfb"/><stop offset="0.675" stop-color="#a5c3fd"/><stop offset="0.725" stop-color="#a5c3fd"/><stop offset="0.7583" stop-color="#cfd9e9"/><stop offset="0.825" stop-color="#cfd9e9"/><stop offset="0.8417" stop-color="#f29d81"/><stop offset="0.9083" stop-color="#f19a7e"/><stop offset="0.925" stop-color="#ee8e73"/><stop offset="0.9917" stop-color="#ee8e73"/></linearGradient>
<linearGradient id="g5_29" x1="0" y1="0" x2="0" y2="1"><stop offset="0.008333" stop-color="#3b4cc0"/><stop offset="0.475" stop-color="#3c4ec2"/><stop offset="0.525" stop-color="#475fd0"/><stop offset="0.5583" stop-color="#516cdb"/><stop offset="0.575" stop-color="#5e7de6"/><stop offset="0.5917" stop-color="#5e7de6"/><stop offset="0.625" stop-color="#7a9df8"/><stop offset="0.6417" stop-color="#7a9df8"/><stop offset="0.6583" stop-color="#82a5f9"/><stop offset="0.675" stop-color="#9dbcfe"/><stop offset="0.725" stop-color="#9dbcfe"/><stop offset="0.7583" stop-color="#c7d6f0"/><stop offset="0.825" stop-color="#c7d6f0"/><stop offset="0.8417" stop-color="#f4a689"/><stop offset="0.9083" stop-color="#f3a286"/><stop offset="0.925" stop-color="#f1987c"/><stop offset="0.9917" stop-color="#f1987c"/></linearGradient>
<linearGradient id="g5_30" x1="0" y1="0" x2="0" y2="1"><stop offset="0.008333" stop-color="#3b4cc0"/><stop offset="0.425" stop-color="#3d4fc3"/><stop offset="0.475" stop-color="#475fd0"/><stop offset="0.5583" stop-color="#6b8cef"/><stop offset="0.575" stop-color="#7da0f9"/><stop offset="0.5917" stop-color="#7da0f9"/><stop offset="0.625" stop-color="#99b9ff"/><stop offset="0.6417" stop-color="#99b9ff"/><stop offset="0.6583" stop-color="#a1bffd"/><stop offset="0.675" stop-color="#b9d0f8"/><stop offset="0.725" stop-color="#b9d0f8"/><stop offset="0.7583" stop-color="#e1dad7"/><stop offset="0.825" stop-color="#e1dad7"/><stop offset="0.8417" stop-color="#ef8b6e"/><stop offset="0.8917" stop-color="#ef8b6e"/><stop offset="0.9083" stop-color="#ed866a"/><stop offset="0.925" stop-color="#e7775d"/><stop offset="0.9917" stop-color="#e7775d"/></linearGradient>
<linearGradient id="g5_31" x1="0" y1="0" x2="0" y2="1"><stop offset="0.008333" stop-color="#3b4cc0"/><stop offset="0.425" stop-color="#3d50c3"/><stop offset="0.475" stop-color="#465dce"/><stop offset="0.5583" stop-color="#6787eb"/><stop offset="0.575" stop-color="#789af4"/><stop offset="0.5917" stop-color="#789af4"/><stop offset="0.625" stop-color="#93b4fd"/><stop offset="0.6417" stop-color="#93b4fd"/><stop offset="0.6583" stop-color="#9bbafc"/><stop offset="0.675" stop-color="#b3cbfa"/><stop offset="0.725" stop-color="#b3cbfa"/><stop offset="0.7583" stop-color="#dbd9dc"/><stop offset="0.825" stop-color="#dbd9dc"/><stop offset="0.8417" stop-color="#f5a88b"/><stop offset="0.9083" stop-color="#f4a588"/><stop offset="0.925" stop-color="#f29b7e"/><stop offset="0.9917" stop-color="#f29b7e"/></linearGradient>
<linearGradient id="g5_32" x1="0" y1="0" x2="0" y2="1"><stop offset="0.008333" stop-color="#3b4cc0"/><stop offset="0.475" stop-color="#3c4ec2"/><stop offset="0.525" stop-color="#475fd0"/><stop offset="0.5583" stop-color="#516cdb"/><stop offset="0.575" stop-color="#5e7de7"/><stop offset="0.5917" stop-color="#5e7de7"/><stop offset="0.625" stop-color="#7a9df8"/><stop offset="0.6417" stop-color="#7a9df8"/><stop offset="0.6583" stop-color="#83a5fa"/><stop offset="0.675" stop-color="#9dbdff"/><stop offset="0.725" stop-color="#9dbdff"/><stop offset="0.7583" stop-color="#c8d7f0"/><stop offset="0.825" stop-color="#c8d7f0"/><stop offset="0.8417" stop-color="#f2977a"/><stop offset="0.8917" stop-color="#f2977a"/><stop offset="0.9083" stop-color="#f19376"/><stop offset="0.925" stop-color="#ec866a"/><stop offset="0.9917" stop-color="#ec866a"/></linearGradient>
<linearGradient id="g5_33" x1="0" y1="0" x2="0" y2="1"><stop offset="0.008333" stop-color="#3b4cc0"/><stop offset="0.4583" stop-color="#3c4ec2"/><stop offset="0.5083" stop-color="#4359cb"/><stop offset="0.5583" stop-color="#5470dd"/><stop offset="0.575" stop-color="#6181e9"/><stop offset="0.5917" stop-color="#6181e9"/><stop offset="0.625" stop-color="#7ea2fa"/><stop offset="0.6417" stop-color="#7ea2fa"/><stop offset="0.6583" stop-color="#87aafb"/><stop offset="0.675" stop-color="#a2c1fe"/><stop offset="0.725" stop-color="#a2c1fe"/><stop offset="0.7583" stop-color="#cdd9ec"/><stop offset="0.825" stop-color="#cdd9ec"/><stop offset="0.8417" stop-color="#f39d80"/><stop offset="0.9083" stop-color="#f2997c"/><stop offset="0.925" stop-color="#ef8d71"/><stop offset="0.9917" stop-color="#ef8d71"/></linearGradient>
<linearGradient id="g5_34" x1="0" y1="0" x2="0" y2="1"><stop offset="0.008333" stop-color="#3b4cc0"/><stop offset="0.4083" stop-color="#3c4ec2"/><stop offset="0.4583" stop-color="#465dcf"/><stop offset="0.5417" stop-color="#6d8ef0"/><stop offset="0.5583" stop-color="#7395f3"/><stop offset="0.575" stop-color="#86a9fb"/><stop offset="0.5917" stop-color="#86a9fb"/><stop offset="0.625" stop-color="#9fbffe"/><stop offset="0.6417" stop-color="#9fbffe"/><stop offset="0.6583" stop-color="#a7c3fc"/><stop offset="0.675" stop-color="#bcd2f7"/><stop offset="0.725" stop-color="#bcd2f7"/><stop offset="0.7583" stop-color="#e4d8d2"/><stop offset="0.825" stop-color="#e4d8d2"/><stop offset="0.8417" stop-color="#f08f72"/><stop offset="0.8917" stop-color="#f08f72"/><stop offset="0.9083" stop-color="#ee8a6e"/><stop offset="0.925" stop-color="#e97c62"/><stop offset="0.9917" stop-color="#e97c62"/></linearGradient>
<linearGradient id="g5_35" x1="0" y1="0" x2="0" y2="1"><stop offset="0.008333" stop-color="#3b4cc0"/><stop offset="0.475" stop-color="#3b4cc0"/><stop offset="0.525" stop-color="#445acc"/><stop offset="0.5583" stop-color="#4d66d6"/><stop offset="0.575" stop-color="#5875e2"/><stop offset="0.5917" stop-color="#5875e2"/><stop offset="0.625" stop-color="#6f91f3"/><stop offset="0.6417" stop-color="#6f91f3"/><stop offset="0.6583" stop-color="#7799f5"/><stop offset="0.675" stop-color="#8fb2fe"/><stop offset="0.725" stop-color="#8fb2fe"/><stop offset="0.7583" stop-color="#b9d0f8"/><stop offset="0.825" stop-color="#b9d0f8"/><stop offset="0.8417" stop-color="#f4c5af"/><stop offset="0.9083" stop-color="#f4c4ac"/><stop offset="0.925" stop-color="#f6bfa6"/><stop offset="0.9917" stop-color="#f6bfa6"/></linearGradient>
<linearGradient id="g5_36" x1="0" y1="0" x2="0" y2="1"><stop offset="0.008333" stop-color="#3b4cc0"/><stop offset="0.475" stop-color="#3c4ec1"/><stop offset="0.525" stop-color="#465ecf"/><stop offset="0.5583" stop-color="#506bd9"/><stop offset="0.575" stop-color="#5c7be5"/><stop offset="0.5917" stop-color="#5c7be5"/><stop offset="0.625" stop-color="#7699f6"/><stop offset="0.6417" stop-color="#7699f6"/><stop offset="0.6583" stop-color="#7fa1f8"/><stop offset="0.675" stop-color="#98b9fe"/><stop offset="0.725" stop-color="#98b9fe"/><stop offset="0.7583" stop-color="#c2d4f3"/><stop offset="0.825" stop-color="#c2d4f3"/><stop offset="0.8417" stop-color="#f5c1a9"/><stop offset="0.9083" stop-color="#f5bfa6"/><stop offset="0.925" stop-color="#f6ba9f"/><stop offset="0.9917" stop-color="#f6ba9f"/></linearGradient>
<linearGradient id="g5_37" x1="0" y1="0" x2="0" y2="1"><stop offset="0.008333" stop-color="#3b4cc0"/><stop offset="0.4583" stop-color="#3c4ec2"/><stop offset="0.5083" stop-color="#445acc"/><stop offset="0.5583" stop-color="#5571de"/><stop offset="0.575" stop-color="#6282ea"/><stop offset="0.5917" stop-color="#6282ea"/><stop offset="0.625" stop-color="#7ea1f9"/><stop offset="0.6417" stop-color="#7ea1f9"/><stop offset="0.6583" stop-color="#87a9fa"/><stop offset="0.675" stop-color="#a1c0fe"/><stop offset="0.725" stop-color="#a1c0fe"/><stop offset="0.7583" stop-color="#cbd8ec"/><stop offset="0.825" stop-color="#cbd8ec"/><stop offset="0.8417" stop-color="#f5b094"/><stop offset="0.9083" stop-color="#f5ad91"/><stop offset="0.925" stop-color="#f4a588"/><stop offset="0.9917" stop-color="#f4a588"/></linearGradient>
<linearGradient id="g5_38" x1="0" y1="0" x2="0" y2="1"><stop offset="0.008333" stop-color="#3b4cc0"/><stop offset="0.475" stop-color="#3c4ec2"/><stop offset="0.525" stop-color="#475fd0"/><stop offset="0.5583" stop-color="#516cdb"/><stop offset="0.575" stop-color="#5e7de7"/><stop offset="0.5917" stop-color="#5e7de7"/><stop offset="0.625" stop-color="#7a9df8"/><stop offset="0.6417" stop-color="#7a9df8"/><stop offset="0.6583" stop-color="#83a5fa"/><stop offset="0.675" stop-color="#9dbdff"/><stop offset="0.725" stop-color="#9dbdff"/><stop offset="0.7583" stop-color="#c8d7f0"/><stop offset="0.825" stop-color="#c8d7f0"/><stop offset="0.8417" stop-color="#f39e81"/><stop offset="0.9083" stop-color="#f29a7e"/><stop offset="0.925" stop-color="#ee8f73"/><stop offset="0.9917" stop-color="#ee8f73"/></linearGradient>
<linearGradient id="g5_39" x1="0" y1="0" x2="0" y2="1"><stop offset="0.008333" stop-color="#3b4cc0"/><stop offset="0.475" stop-color="#3b4dc1"/><stop offset="0.525" stop-color="#465dcf"/><stop offset="0.5583" stop-color="#4f6ad9"/><stop offset="0.575" stop-color="#5c7ae5"/><stop offset="0.5917" stop-color="#5c7ae5"/><stop offset="0.625" stop-color="#7699f6"/><stop offset="0.6417" stop-color="#7699f6"/><stop offset="0.6583" stop-color="#7fa1f8"/><stop offset="0.675" stop-color="#98b9fe"/><stop offset="0.725" stop-color="#98b9fe"/><stop offset="0.7583" stop-color="#c3d5f3"/><stop offset="0.825" stop-color="#c3d5f3"/><stop offset="0.8417" stop-color="#f5b89e"/><stop offset="0.9083" stop-color="#f5b69b"/><stop offset="0.925" stop-color="#f5ae92"/><stop offset="0.9917" stop-color="#f5ae92"/></linearGradient>
<clipPath id="c5"><rect x="342.10" y="241.30" width="200.90" height="59.00"/></clipPath>
</defs>
<g clip-path="url(#c0)" shape-rendering="crispEdges"><rect x="40" y="17" width="1" height="60" fill="url(#g0_1)"/><rect x="41" y="17" width="1" height="60" fill="url(#g0_11)"/><rect x="42" y="17" width="1" height="60" fill="url(#g0_3)"/><rect x="43" y="17" width="1" height="60" fill="url(#g0_1)"/><rect x="44" y="17" width="1" height="60" fill="url(#g0_12)"/><rect x="45" y="17" width="1" height="60" fill="url(#g0_7)"/><rect x="46" y="17" width="2" height="60" fill="url(#g0_1)"/><rect x="48" y="17" width="1" height="60" fill="url(#g0_8)"/><rect x="49" y="17" width="1" height="60" fill="url(#g0_12)"/><rect x="50" y="17" width="1" height="60" fill="url(#g0_1)"/><rect x="51" y="17" width="2" height="60" fill="url(#g0_4)"/><rect x="53" y="17" width="1" height="60" fill="url(#g0_1)"/><rect x="54" y="17" width="1" height="60" fill="url(#g0_12)"/><rect x="55" y="17" width="1" height="60" fill="url(#g0_0)"/><rect x="56" y="17" width="2" height="60" fill="url(#g0_1)"/><rect x="58" y="17" width="1" height="60" fill="url(#g0_0)"/><rect x="59" y="17" width="1" height="60" fill="url(#g0_12)"/><rect x="60" y="17" width="1" height="60" fill="url(#g0_1)"/><rect x="61" y="17" width="2" height="60" fill="url(#g0_2)"/><rect x="63" y="17" width="1" height="60" fill="url(#g0_1)"/><rect x="64" y="17" width="1" height="60" fill="url(#g0_12)"/><rect x="65" y="17" width="1" height="60" fill="url(#g0_0)"/><rect x="66" y="17" width="2" height="60" fill="url(#g0_1)"/><rect x="68" y="17" width="1" height="60" fill="url(#g0_0)"/><rect x="69" y="17" width="1" height="60" fill="url(#g0_12)"/><rect x="70" y="17" width="1" height="60" fill="url(#g0_1)"/><rect x="71" y="17" width="1" height="60" fill="url(#g0_9)"/><rect x="72" y="17" width="1" height="60" fill="url(#g0_2)"/><rect x="73" y="17" width="1" height="60" fill="url(#g0_1)"/><rect x="74" y="17" width="1" height="60" fill="url(#g0_10)"/><rect x="75" y="17" width="1" height="60" fill="url(#g0_8)"/><rect x="76" y="17" width="2" height="60" fill="url(#g0_1)"/><rect x="78" y="17" width="1" height="60" fill="url(#g0_0)"/><rect x="79" y="17" width="2" height="60" fill="url(#g0_1)"/><rect x="81" y="17" width="1" height="60" fill="url(#g0_9)"/><rect x="82" y="17" width="1" height="60" fill="url(#g0_4)"/><rect x="83" y="17" width="1" height="60" fill="url(#g0_1)"/><rect x="84" y="17" width="1" height="60" fill="url(#g0_5)"/><rect x="85" y="17" width="1" height="60" fill="url(#g0_14)"/><rect x="86" y="17" width="2" height="60" fill="url(#g0_1)"/><rect x="88" y="17" width="1" height="60" fill="url(#g0_6)"/><rect x="89" y="17" width="2" height="60" fill="url(#g0_1)"/><rect x="91" y="17" width="1" height="60" fill="url(#g0_14)"/><rect x="92" y="17" width="1" height="60" fill="url(#g0_5)"/><rect x="93" y="17" width="1" height="60" fill="url(#g0_1)"/><rect x="94" y="17" width="1" height="60" fill="url(#g0_4)"/><rect x="95" y="17" width="1" height="60" fill="url(#g0_9)"/><rect x="96" y="17" width="1" height="60" fill="url(#g0_1)"/><rect x="97" y="17" width="1" height="60" fill="url(#g0_12)"/><rect x="98" y="17" width="1" height="60" fill="url(#g0_8)"/><rect x="99" y="17" width="2" height="60" fill="url(#g0_1)"/><rect x="101" y="17" width="1" height="60" fill="url(#g0_13)"/><rect x="102" y="17" width="1" height="60" fill="url(#g0_12)"/><rect x="103" y="17" width="1" height="60" fill="url(#g0_1)"/><rect x="104" y="17" width="1" height="60" fill="url(#g0_2)"/><rect x="105" y="17" width="1" height="60" fill="url(#g0_11)"/><rect x="106" y="17" width="1" height="60" fill="url(#g0_1)"/><rect x="107" y="17" width="1" height="60" fill="url(#g0_15)"/><rect x="108" y="17" width="1" height="60" fill="url(#g0_14)"/><rect x="109" y="17" width="2" height="60" fill="url(#g0_1)"/><rect x="111" y="17" width="1" height="60" fill="url(#g0_13)"/><rect x="112" y="17" width="2" height="60" fill="url(#g0_1)"/><rect x="114" y="17" width="1" height="60" fill="url(#g0_8)"/><rect x="115" y="17" width="1" height="60" fill="url(#g0_10)"/><rect x="116" y="17" width="1" height="60" fill="url(#g0_1)"/><rect x="117" y="17" width="1" height="60" fill="url(#g0_2)"/><rect x="118" y="17" width="1" height="60" fill="url(#g0_4)"/><rect x="119" y="17" width="1" height="60" fill="url(#g0_1)"/><rect x="120" y="17" width="1" height="60" fill="url(#g0_15)"/><rect x="121" y="17" width="1" height="60" fill="url(#g0_14)"/><rect x="122" y="17" width="2" height="60" fill="url(#g0_1)"/><rect x="124" y="17" width="1" height="60" fill="url(#g0_6)"/><rect x="125" y="17" width="2" height="60" fill="url(#g0_1)"/><rect x="127" y="17" width="1" height="60" fill="url(#g0_0)"/><rect x="128" y="17" width="1" height="60" fill="url(#g0_10)"/><rect x="129" y="17" width="1" height="60" fill="url(#g0_1)"/><rect x="130" y="17" width="1" height="60" fill="url(#g0_9)"/><rect x="131" y="17" width="1" height="60" fill="url(#g0_4)"/><rect x="132" y="17" width="1" height="60" fill="url(#g0_1)"/><rect x="133" y="17" width="1" height="60" fill="url(#g0_15)"/><rect x="134" y="17" width="1" height="60" fill="url(#g0_14)"/><rect x="135" y="17" width="1" height="60" fill="url(#g0_1)"/><rect x="136" y="17" width="1" height="60" fill="url(#g0_12)"/><rect x="137" y="17" width="1" height="60" fill="url(#g0_0)"/><rect x="138" y="17" width="2" height="60" fill="url(#g0_1)"/><rect x="140" y="17" width="1" height="60" fill="url(#g0_13)"/><rect x="141" y="17" width="1" height="60" fill="url(#g0_12)"/><rect x="142" y="17" width="1" height="60" fill="url(#g0_1)"/><rect x="143" y="17" width="1" height="60" fill="url(#g0_7)"/><rect x="144" y="17" width="1" height="60" fill="url(#g0_5)"/><rect x="145" y="17" width="1" height="60" fill="url(#g0_1)"/><rect x="146" y="17" width="1" height="60" fill="url(#g0_2)"/><rect x="147" y="17" width="1" height="60" fill="url(#g0_9)"/><rect x="148" y="17" width="1" height="60" fill="url(#g0_1)"/><rect x="149" y="17" width="1" height="60" fill="url(#g0_5)"/><rect x="150" y="17" width="1" height="60" fill="url(#g0_0)"/><rect x="151" y="17" width="2" height="60" fill="url(#g0_1)"/><rect x="153" y="17" width="1" height="60" fill="url(#g0_13)"/><rect x="154" y="17" width="2" height="60" fill="url(#g0_1)"/><rect x="156" y="17" width="1" height="60" fill="url(#g0_0)"/><rect x="157" y="17" width="1" height="60" fill="url(#g0_12)"/><rect x="158" y="17" width="1" height="60" fill="url(#g0_1)"/><rect x="159" y="17" width="1" height="60" fill="url(#g0_14)"/><rect x="160" y="17" width="1" height="60" fill="url(#g0_15)"/><rect x="161" y="17" width="1" height="60" fill="url(#g0_1)"/><rect x="162" y="17" width="2" height="60" fill="url(#g0_2)"/><rect x="164" y="17" width="1" height="60" fill="url(#g0_1)"/><rect x="165" y="17" width="1" height="60" fill="url(#g0_5)"/><rect x="166" y="17" width="1" height="60" fill="url(#g0_0)"/><rect x="167" y="17" width="1" height="60" fill="url(#g0_1)"/><rect x="168" y="17" width="1" height="60" fill="url(#g0_12)"/><rect x="169" y="17" width="1" height="60" fill="url(#g0_13)"/><rect x="170" y="17" width="2" height="60" fill="url(#g0_1)"/><rect x="172" y="17" width="1" height="60" fill="url(#g0_13)"/><rect x="173" y="17" width="2" height="60" fill="url(#g0_1)"/><rect x="175" y="17" width="1" height="60" fill="url(#g0_8)"/><rect x="176" y="17" width="1" height="60" fill="url(#g0_5)"/><rect x="177" y="17" width="1" height="60" fill="url(#g0_1)"/><rect x="178" y="17" width="1" height="60" fill="url(#g0_7)"/><rect x="179" y="17" width="1" height="60" fill="url(#g0_4)"/><rect x="180" y="17" width="1" height="60" fill="url(#g0_1)"/><rect x="181" y="17" width="1" height="60" fill="url(#g0_4)"/><rect x="182" y="17" width="1" height="60" fill="url(#g0_9)"/><rect x="183" y="17" width="1" height="60" fill="url(#g0_1)"/><rect x="184" y="17" width="1" height="60" fill="url(#g0_15)"/><rect x="185" y="17" width="1" height="60" fill="url(#g0_8)"/><rect x="186" y="17" width="1" height="60" fill="url(#g0_1)"/><rect x="187" y="17" width="1" height="60" fill="url(#g0_12)"/><rect x="188" y="17" width="1" height="60" fill="url(#g0_13)"/><rect x="189" y="17" width="2" height="60" fill="url(#g0_1)"/><rect x="191" y="17" width="1" height="60" fill="url(#g0_6)"/><rect x="192" y="17" width="2" height="60" fill="url(#g0_1)"/><rect x="194" y="17" width="1" height="60" fill="url(#g0_0)"/><rect x="195" y="17" width="1" height="60" fill="url(#g0_10)"/><rect x="196" y="17" width="1" height="60" fill="url(#g0_1)"/><rect x="197" y="17" width="1" height="60" fill="url(#g0_7)"/><rect x="198" y="17" width="1" height="60" fill="url(#g0_5)"/><rect x="199" y="17" width="1" height="60" fill="url(#g0_1)"/><rect x="200" y="17" width="2" height="60" fill="url(#g0_9)"/><rect x="202" y="17" width="1" height="60" fill="url(#g0_1)"/><rect x="203" y="17" width="1" height="60" fill="url(#g0_4)"/><rect x="204" y="17" width="1" height="60" fill="url(#g0_7)"/><rect x="205" y="17" width="1" height="60" fill="url(#g0_1)"/><rect x="206" y="17" width="1" height="60" fill="url(#g0_15)"/><rect x="207" y="17" width="1" height="60" fill="url(#g0_8)"/><rect x="208" y="17" width="1" height="60" fill="url(#g0_1)"/><rect x="209" y="17" width="1" height="60" fill="url(#g0_10)"/><rect x="210" y="17" width="1" height="60" fill="url(#g0_13)"/><rect x="211" y="17" width="2" height="60" fill="url(#g0_1)"/><rect x="213" y="17" width="1" height="60" fill="url(#g0_6)"/><rect x="214" y="17" width="2" height="60" fill="url(#g0_1)"/><rect x="216" y="17" width="1" height="60" fill="url(#g0_13)"/><rect x="217" y="17" width="1" height="60" fill="url(#g0_12)"/><rect x="218" y="17" width="1" height="60" fill="url(#g0_1)"/><rect x="219" y="17" width="1" height="60" fill="url(#g0_13)"/><rect x="220" y="17" width="1" height="60" fill="url(#g0_5)"/><rect x="221" y="17" width="1" height="60" fill="url(#g0_1)"/><rect x="222" y="17" width="1" height="60" fill="url(#g0_8)"/><rect x="223" y="17" width="1" height="60" fill="url(#g0_15)"/><rect x="224" y="17" width="1" height="60" fill="url(#g0_1)"/><rect x="225" y="17" width="1" height="60" fill="url(#g0_7)"/><rect x="226" y="17" width="1" height="60" fill="url(#g0_4)"/><rect x="227" y="17" width="1" height="60" fill="url(#g0_1)"/><rect x="228" y="17" width="2" height="60" fill="url(#g0_9)"/><rect x="230" y="17" width="1" height="60" fill="url(#g0_1)"/><rect x="231" y="17" width="1" height="60" fill="url(#g0_2)"/><rect x="232" y="17" width="1" height="60" fill="url(#g0_7)"/><rect x="233" y="17" width="1" height="60" fill="url(#g0_1)"/><rect x="234" y="17" width="1" height="60" fill="url(#g0_4)"/><rect x="235" y="17" width="1" height="60" fill="url(#g0_8)"/><rect x="236" y="17" width="1" height="60" fill="url(#g0_1)"/><rect x="237" y="17" width="1" height="60" fill="url(#g0_5)"/><rect x="238" y="17" width="1" height="60" fill="url(#g0_0)"/><rect x="239" y="17" width="1" height="60" fill="url(#g0_1)"/><rect x="240" y="17" width="1" height="60" fill="url(#g0_10)"/><rect x="241" y="17" width="1" height="60" fill="url(#g0_13)"/></g>
<rect x="40.90" y="17.55" width="200.70" height="59.00" fill="none" stroke="#000" stroke-width="0.7"/>
<path d="M40.90 76.55v3.0M91.07 76.55v3.0M141.25 76.55v3.0M191.43 76.55v3.0M241.60 76.55v3.0M40.90 74.45h-3.0M40.90 65.07h-3.0M40.90 55.69h-3.0M40.90 46.31h-3.0M40.90 36.93h-3.0M40.90 27.55h-3.0" stroke="#000" stroke-width="0.7" fill="none"/>
<text x="40.90" y="87.95" font-size="7.40" text-anchor="middle">0</text>
<text x="91.07" y="87.95" font-size="7.40" text-anchor="middle">5</text>
<text x="141.25" y="87.95" font-size="7.40" text-anchor="middle">10</text>
<text x="191.43" y="87.95" font-size="7.40" text-anchor="middle">15</text>
<text x="241.60" y="87.95" font-size="7.40" text-anchor="middle">20</text>
<text x="35.00" y="77.05" font-size="7.40" text-anchor="end">0</text>
<text x="35.00" y="67.67" font-size="7.40" text-anchor="end">64</text>
<text x="35.00" y="58.29" font-size="7.40" text-anchor="end">128</text>
<text x="35.00" y="48.91" font-size="7.40" text-anchor="end">256</text>
<text x="35.00" y="39.53" font-size="7.40" text-anchor="end">512</text>
<text x="35.00" y="30.15" font-size="7.40" text-anchor="end">1024</text>
<text x="141.25" y="99.55" font-size="8.00" text-anchor="middle">Time (sec)</text>
<text transform="translate(12.30 48.25) rotate(-90)" font-size="8.00" text-anchor="middle">Hz</text>
<text x="141.25" y="13.25" font-size="11.45" text-anchor="middle">S1and S2</text>
<g clip-path="url(#c1)" shape-rendering="crispEdges"><rect x="342" y="17" width="1" height="60" fill="url(#g1_11)"/><rect x="343" y="17" width="1" height="60" fill="url(#g1_13)"/><rect x="344" y="17" width="2" height="60" fill="url(#g1_0)"/><rect x="346" y="17" width="1" height="60" fill="url(#g1_3)"/><rect x="347" y="17" width="2" height="60" fill="url(#g1_0)"/><rect x="349" y="17" width="1" height="60" fill="url(#g1_4)"/><rect x="350" y="17" width="1" height="60" fill="url(#g1_14)"/><rect x="351" y="17" width="1" height="60" fill="url(#g1_0)"/><rect x="352" y="17" width="1" height="60" fill="url(#g1_11)"/><rect x="353" y="17" width="1" height="60" fill="url(#g1_16)"/><rect x="354" y="17" width="2" height="60" fill="url(#g1_0)"/><rect x="356" y="17" width="1" height="60" fill="url(#g1_18)"/><rect x="357" y="17" width="2" height="60" fill="url(#g1_0)"/><rect x="359" y="17" width="1" height="60" fill="url(#g1_9)"/><rect x="360" y="17" width="1" height="60" fill="url(#g1_14)"/><rect x="361" y="17" width="1" height="60" fill="url(#g1_0)"/><rect x="362" y="17" width="1" height="60" fill="url(#g1_11)"/><rect x="363" y="17" width="1" height="60" fill="url(#g1_15)"/><rect x="364" y="17" width="2" height="60" fill="url(#g1_0)"/><rect x="366" y="17" width="1" height="60" fill="url(#g1_3)"/><rect x="367" y="17" width="2" height="60" fill="url(#g1_0)"/><rect x="369" y="17" width="1" height="60" fill="url(#g1_9)"/><rect x="370" y="17" width="1" height="60" fill="url(#g1_14)"/><rect x="371" y="17" width="1" height="60" fill="url(#g1_0)"/><rect x="372" y="17" width="1" height="60" fill="url(#g1_11)"/><rect x="373" y="17" width="1" height="60" fill="url(#g1_15)"/><rect x="374" y="17" width="2" height="60" fill="url(#g1_0)"/><rect x="376" y="17" width="1" height="60" fill="url(#g1_7)"/><rect x="377" y="17" width="2" height="60" fill="url(#g1_0)"/><rect x="379" y="17" width="1" height="60" fill="url(#g1_9)"/><rect x="380" y="17" width="1" height="60" fill="url(#g1_11)"/><rect x="381" y="17" width="1" height="60" fill="url(#g1_0)"/><rect x="382" y="17" width="1" height="60" fill="url(#g1_14)"/><rect x="383" y="17" width="1" height="60" fill="url(#g1_4)"/><rect x="384" y="17" width="2" height="60" fill="url(#g1_0)"/><rect x="386" y="17" width="1" height="60" fill="url(#g1_7)"/><rect x="387" y="17" width="2" height="60" fill="url(#g1_0)"/><rect x="389" y="17" width="1" height="60" fill="url(#g1_6)"/><rect x="390" y="17" width="1" height="60" fill="url(#g1_11)"/><rect x="391" y="17" width="1" height="60" fill="url(#g1_0)"/><rect x="392" y="17" width="1" height="60" fill="url(#g1_2)"/><rect x="393" y="17" width="1" height="60" fill="url(#g1_17)"/><rect x="394" y="17" width="1" height="60" fill="url(#g1_0)"/><rect x="395" y="17" width="1" height="60" fill="url(#g1_5)"/><rect x="396" y="17" width="1" height="60" fill="url(#g1_6)"/><rect x="397" y="17" width="2" height="60" fill="url(#g1_0)"/><rect x="399" y="17" width="1" height="60" fill="url(#g1_3)"/><rect x="400" y="17" width="1" height="60" fill="url(#g1_5)"/><rect x="401" y="17" width="1" height="60" fill="url(#g1_0)"/><rect x="402" y="17" width="1" height="60" fill="url(#g1_4)"/><rect x="403" y="17" width="1" height="60" fill="url(#g1_2)"/><rect x="404" y="17" width="1" height="60" fill="url(#g1_0)"/><rect x="405" y="17" width="1" height="60" fill="url(#g1_11)"/><rect x="406" y="17" width="1" height="60" fill="url(#g1_9)"/><rect x="407" y="17" width="2" height="60" fill="url(#g1_0)"/><rect x="409" y="17" width="1" height="60" fill="url(#g1_7)"/><rect x="410" y="17" width="2" height="60" fill="url(#g1_0)"/><rect x="412" y="17" width="1" height="60" fill="url(#g1_10)"/><rect x="413" y="17" width="1" height="60" fill="url(#g1_11)"/><rect x="414" y="17" width="1" height="60" fill="url(#g1_0)"/><rect x="415" y="17" width="1" height="60" fill="url(#g1_19)"/><rect x="416" y="17" width="1" height="60" fill="url(#g1_17)"/><rect x="417" y="17" width="1" height="60" fill="url(#g1_0)"/><rect x="418" y="17" width="1" height="60" fill="url(#g1_11)"/><rect x="419" y="17" width="1" height="60" fill="url(#g1_16)"/><rect x="420" y="17" width="2" height="60" fill="url(#g1_0)"/><rect x="422" y="17" width="1" height="60" fill="url(#g1_1)"/><rect x="423" y="17" width="2" height="60" fill="url(#g1_0)"/><rect x="425" y="17" width="1" height="60" fill="url(#g1_15)"/><rect x="426" y="17" width="1" height="60" fill="url(#g1_11)"/><rect x="427" y="17" width="1" height="60" fill="url(#g1_0)"/><rect x="428" y="17" width="1" height="60" fill="url(#g1_17)"/><rect x="429" y="17" width="1" height="60" fill="url(#g1_2)"/><rect x="430" y="17" width="1" height="60" fill="url(#g1_0)"/><rect x="431" y="17" width="1" height="60" fill="url(#g1_11)"/><rect x="432" y="17" width="1" height="60" fill="url(#g1_15)"/><rect x="433" y="17" width="1" height="60" fill="url(#g1_0)"/><rect x="434" y="17" width="1" height="60" fill="url(#g1_5)"/><rect x="435" y="17" width="1" height="60" fill="url(#g1_1)"/><rect x="436" y="17" width="2" height="60" fill="url(#g1_0)"/><rect x="438" y="17" width="1" height="60" fill="url(#g1_12)"/><rect x="439" y="17" width="1" height="60" fill="url(#g1_5)"/><rect x="440" y="17" width="1" height="60" fill="url(#g1_0)"/><rect x="441" y="17" width="1" height="60" fill="url(#g1_4)"/><rect x="442" y="17" width="1" height="60" fill="url(#g1_2)"/><rect x="443" y="17" width="1" height="60" fill="url(#g1_0)"/><rect x="444" y="17" width="1" height="60" fill="url(#g1_14)"/><rect x="445" y="17" width="1" height="60" fill="url(#g1_9)"/><rect x="446" y="17" width="1" height="60" fill="url(#g1_0)"/><rect x="447" y="17" width="1" height="60" fill="url(#g1_11)"/><rect x="448" y="17" width="1" height="60" fill="url(#g1_6)"/><rect x="449" y="17" width="2" height="60" fill="url(#g1_0)"/><rect x="451" y="17" width="1" height="60" fill="url(#g1_18)"/><rect x="452" y="17" width="2" height="60" fill="url(#g1_0)"/><rect x="454" y="17" width="1" height="60" fill="url(#g1_15)"/><rect x="455" y="17" width="1" height="60" fill="url(#g1_11)"/><rect x="456" y="17" width="1" height="60" fill="url(#g1_0)"/><rect x="457" y="17" width="1" height="60" fill="url(#g1_9)"/><rect x="458" y="17" width="1" height="60" fill="url(#g1_2)"/><rect x="459" y="17" width="1" height="60" fill="url(#g1_0)"/><rect x="460" y="17" width="1" height="60" fill="url(#g1_14)"/><rect x="461" y="17" width="1" height="60" fill="url(#g1_15)"/><rect x="462" y="17" width="1" height="60" fill="url(#g1_0)"/><rect x="463" y="17" width="1" height="60" fill="url(#g1_5)"/><rect x="464" y="17" width="1" height="60" fill="url(#g1_3)"/><rect x="465" y="17" width="2" height="60" fill="url(#g1_0)"/><rect x="467" y="17" width="1" height="60" fill="url(#g1_8)"/><rect x="468" y="17" width="2" height="60" fill="url(#g1_0)"/><rect x="470" y="17" width="1" height="60" fill="url(#g1_15)"/><rect x="471" y="17" width="1" height="60" fill="url(#g1_11)"/><rect x="472" y="17" width="1" height="60" fill="url(#g1_0)"/><rect x="473" y="17" width="1" height="60" fill="url(#g1_4)"/><rect x="474" y="17" width="1" height="60" fill="url(#g1_2)"/><rect x="475" y="17" width="1" height="60" fill="url(#g1_0)"/><rect x="476" y="17" width="1" height="60" fill="url(#g1_2)"/><rect x="477" y="17" width="1" height="60" fill="url(#g1_4)"/><rect x="478" y="17" width="1" height="60" fill="url(#g1_0)"/><rect x="479" y="17" width="1" height="60" fill="url(#g1_11)"/><rect x="480" y="17" width="1" height="60" fill="url(#g1_15)"/><rect x="481" y="17" width="1" height="60" fill="url(#g1_0)"/><rect x="482" y="17" width="1" height="60" fill="url(#g1_5)"/><rect x="483" y="17" width="1" height="60" fill="url(#g1_18)"/><rect x="484" y="17" width="2" height="60" fill="url(#g1_0)"/><rect x="486" y="17" width="1" height="60" fill="url(#g1_1)"/><rect x="487" y="17" width="1" height="60" fill="url(#g1_5)"/><rect x="488" y="17" width="1" height="60" fill="url(#g1_0)"/><rect x="489" y="17" width="1" height="60" fill="url(#g1_15)"/><rect x="490" y="17" width="1" height="60" fill="url(#g1_11)"/><rect x="491" y="17" width="1" height="60" fill="url(#g1_0)"/><rect x="492" y="17" width="1" height="60" fill="url(#g1_10)"/><rect x="493" y="17" width="1" height="60" fill="url(#g1_2)"/><rect x="494" y="17" width="1" height="60" fill="url(#g1_0)"/><rect x="495" y="17" width="1" height="60" fill="url(#g1_2)"/><rect x="496" y="17" width="1" height="60" fill="url(#g1_9)"/><rect x="497" y="17" width="1" height="60" fill="url(#g1_0)"/><rect x="498" y="17" width="1" height="60" fill="url(#g1_14)"/><rect x="499" y="17" width="1" height="60" fill="url(#g1_10)"/><rect x="500" y="17" width="1" height="60" fill="url(#g1_0)"/><rect x="501" y="17" width="1" height="60" fill="url(#g1_11)"/><rect x="502" y="17" width="1" height="60" fill="url(#g1_6)"/><rect x="503" y="17" width="1" height="60" fill="url(#g1_0)"/><rect x="504" y="17" width="1" height="60" fill="url(#g1_5)"/><rect x="505" y="17" width="1" height="60" fill="url(#g1_8)"/><rect x="506" y="17" width="2" height="60" fill="url(#g1_0)"/><rect x="508" y="17" width="1" height="60" fill="url(#g1_8)"/><rect x="509" y="17" width="1" height="60" fill="url(#g1_5)"/><rect x="510" y="17" width="1" height="60" fill="url(#g1_0)"/><rect x="511" y="17" width="1" height="60" fill="url(#g1_6)"/><rect x="512" y="17" width="1" height="60" fill="url(#g1_11)"/><rect x="513" y="17" width="1" height="60" fill="url(#g1_0)"/><rect x="514" y="17" width="1" height="60" fill="url(#g1_15)"/><rect x="515" y="17" width="1" height="60" fill="url(#g1_14)"/><rect x="516" y="17" width="1" height="60" fill="url(#g1_0)"/><rect x="517" y="17" width="1" height="60" fill="url(#g1_4)"/><rect x="518" y="17" width="1" height="60" fill="url(#g1_17)"/><rect x="519" y="17" width="1" height="60" fill="url(#g1_0)"/><rect x="520" y="17" width="1" height="60" fill="url(#g1_17)"/><rect x="521" y="17" width="1" height="60" fill="url(#g1_4)"/><rect x="522" y="17" width="1" height="60" fill="url(#g1_0)"/><rect x="523" y="17" width="1" height="60" fill="url(#g1_14)"/><rect x="524" y="17" width="1" height="60" fill="url(#g1_15)"/><rect x="525" y="17" width="1" height="60" fill="url(#g1_0)"/><rect x="526" y="17" width="1" height="60" fill="url(#g1_11)"/><rect x="527" y="17" width="1" height="60" fill="url(#g1_12)"/><rect x="528" y="17" width="1" height="60" fill="url(#g1_0)"/><rect x="529" y="17" width="1" height="60" fill="url(#g1_11)"/><rect x="530" y="17" width="1" height="60" fill="url(#g1_1)"/><rect x="531" y="17" width="1" height="60" fill="url(#g1_0)"/><rect x="532" y="17" width="1" height="60" fill="url(#g1_5)"/><rect x="533" y="17" width="1" height="60" fill="url(#g1_8)"/><rect x="534" y="17" width="2" height="60" fill="url(#g1_0)"/><rect x="536" y="17" width="1" height="60" fill="url(#g1_1)"/><rect x="537" y="17" width="1" height="60" fill="url(#g1_5)"/><rect x="538" y="17" width="1" height="60" fill="url(#g1_0)"/><rect x="539" y="17" width="1" height="60" fill="url(#g1_18)"/><rect x="540" y="17" width="1" height="60" fill="url(#g1_11)"/><rect x="541" y="17" width="1" height="60" fill="url(#g1_0)"/><rect x="542" y="17" width="1" height="60" fill="url(#g1_6)"/></g>
<rect x="342.10" y="17.55" width="200.90" height="59.00" fill="none" stroke="#000" stroke-width="0.7"/>
<path d="M342.10 76.55v3.0M392.33 76.55v3.0M442.55 76.55v3.0M492.77 76.55v3.0M543.00 76.55v3.0M342.10 74.45h-3.0M342.10 65.07h-3.0M342.10 55.69h-3.0M342.10 46.31h-3.0M342.10 36.93h-3.0M342.10 27.55h-3.0" stroke="#000" stroke-width="0.7" fill="none"/>
<text x="342.10" y="87.95" font-size="7.40" text-anchor="middle">0</text>
<text x="392.33" y="87.95" font-size="7.40" text-anchor="middle">5</text>
<text x="442.55" y="87.95" font-size="7.40" text-anchor="middle">10</text>
<text x="492.77" y="87.95" font-size="7.40" text-anchor="middle">15</text>
<text x="543.00" y="87.95" font-size="7.40" text-anchor="middle">20</text>
<text x="336.20" y="77.05" font-size="7.40" text-anchor="end">0</text>
<text x="336.20" y="67.67" font-size="7.40" text-anchor="end">64</text>
<text x="336.20" y="58.29" font-size="7.40" text-anchor="end">128</text>
<text x="336.20" y="48.91" font-size="7.40" text-anchor="end">256</text>
<text x="336.20" y="39.53" font-size="7.40" text-anchor="end">512</text>
<text x="336.20" y="30.15" font-size="7.40" text-anchor="end">1024</text>
<text x="442.55" y="99.55" font-size="8.00" text-anchor="middle">Time (sec)</text>
<text transform="translate(313.50 48.25) rotate(-90)" font-size="8.00" text-anchor="middle">Hz</text>
<text x="442.55" y="13.25" font-size="11.45" text-anchor="middle">s(S1 and S2)</text>
<g clip-path="url(#c2)" shape-rendering="crispEdges"><rect x="40" y="129" width="1" height="60" fill="url(#g2_0)"/><rect x="41" y="129" width="1" height="60" fill="url(#g2_5)"/><rect x="42" y="129" width="1" height="60" fill="url(#g2_1)"/><rect x="43" y="129" width="1" height="60" fill="url(#g2_18)"/><rect x="44" y="129" width="1" height="60" fill="url(#g2_23)"/><rect x="45" y="129" width="1" height="60" fill="url(#g2_8)"/><rect x="46" y="129" width="1" height="60" fill="url(#g2_43)"/><rect x="47" y="129" width="1" height="60" fill="url(#g2_38)"/><rect x="48" y="129" width="1" height="60" fill="url(#g2_41)"/><rect x="49" y="129" width="1" height="60" fill="url(#g2_26)"/><rect x="50" y="129" width="1" height="60" fill="url(#g2_38)"/><rect x="51" y="129" width="1" height="60" fill="url(#g2_42)"/><rect x="52" y="129" width="1" height="60" fill="url(#g2_21)"/><rect x="53" y="129" width="1" height="60" fill="url(#g2_18)"/><rect x="54" y="129" width="1" height="60" fill="url(#g2_23)"/><rect x="55" y="129" width="1" height="60" fill="url(#g2_12)"/><rect x="56" y="129" width="1" height="60" fill="url(#g2_34)"/><rect x="57" y="129" width="1" height="60" fill="url(#g2_0)"/><rect x="58" y="129" width="1" height="60" fill="url(#g2_27)"/><rect x="59" y="129" width="1" height="60" fill="url(#g2_43)"/><rect x="60" y="129" width="1" height="60" fill="url(#g2_25)"/><rect x="61" y="129" width="1" height="60" fill="url(#g2_20)"/><rect x="62" y="129" width="1" height="60" fill="url(#g2_19)"/><rect x="63" y="129" width="1" height="60" fill="url(#g2_0)"/><rect x="64" y="129" width="1" height="60" fill="url(#g2_33)"/><rect x="65" y="129" width="1" height="60" fill="url(#g2_12)"/><rect x="66" y="129" width="1" height="60" fill="url(#g2_13)"/><rect x="67" y="129" width="1" height="60" fill="url(#g2_33)"/><rect x="68" y="129" width="1" height="60" fill="url(#g2_27)"/><rect x="69" y="129" width="1" height="60" fill="url(#g2_26)"/><rect x="70" y="129" width="1" height="60" fill="url(#g2_38)"/><rect x="71" y="129" width="1" height="60" fill="url(#g2_17)"/><rect x="72" y="129" width="1" height="60" fill="url(#g2_21)"/><rect x="73" y="129" width="1" height="60" fill="url(#g2_18)"/><rect x="74" y="129" width="1" height="60" fill="url(#g2_23)"/><rect x="75" y="129" width="1" height="60" fill="url(#g2_8)"/><rect x="76" y="129" width="1" height="60" fill="url(#g2_15)"/><rect x="77" y="129" width="1" height="60" fill="url(#g2_25)"/><rect x="78" y="129" width="1" height="60" fill="url(#g2_41)"/><rect x="79" y="129" width="1" height="60" fill="url(#g2_34)"/><rect x="80" y="129" width="1" height="60" fill="url(#g2_36)"/><rect x="81" y="129" width="1" height="60" fill="url(#g2_5)"/><rect x="82" y="129" width="1" height="60" fill="url(#g2_9)"/><rect x="83" y="129" width="1" height="60" fill="url(#g2_33)"/><rect x="84" y="129" width="1" height="60" fill="url(#g2_31)"/><rect x="85" y="129" width="1" height="60" fill="url(#g2_22)"/><rect x="86" y="129" width="1" height="60" fill="url(#g2_30)"/><rect x="87" y="129" width="1" height="60" fill="url(#g2_0)"/><rect x="88" y="129" width="1" height="60" fill="url(#g2_37)"/><rect x="89" y="129" width="1" height="60" fill="url(#g2_26)"/><rect x="90" y="129" width="1" height="60" fill="url(#g2_38)"/><rect x="91" y="129" width="1" height="60" fill="url(#g2_35)"/><rect x="92" y="129" width="1" height="60" fill="url(#g2_16)"/><rect x="93" y="129" width="1" height="60" fill="url(#g2_36)"/><rect x="94" y="129" width="1" height="60" fill="url(#g2_3)"/><rect x="95" y="129" width="1" height="60" fill="url(#g2_11)"/><rect x="96" y="129" width="1" height="60" fill="url(#g2_30)"/><rect x="97" y="129" width="1" height="60" fill="url(#g2_25)"/><rect x="98" y="129" width="1" height="60" fill="url(#g2_41)"/><rect x="99" y="129" width="1" height="60" fill="url(#g2_7)"/><rect x="100" y="129" width="1" height="60" fill="url(#g2_25)"/><rect x="101" y="129" width="1" height="60" fill="url(#g2_27)"/><rect x="102" y="129" width="1" height="60" fill="url(#g2_34)"/><rect x="103" y="129" width="1" height="60" fill="url(#g2_36)"/><rect x="104" y="129" width="1" height="60" fill="url(#g2_5)"/><rect x="105" y="129" width="1" height="60" fill="url(#g2_1)"/><rect x="106" y="129" width="1" height="60" fill="url(#g2_4)"/><rect x="107" y="129" width="1" height="60" fill="url(#g2_10)"/><rect x="108" y="129" width="1" height="60" fill="url(#g2_32)"/><rect x="109" y="129" width="1" height="60" fill="url(#g2_15)"/><rect x="110" y="129" width="1" height="60" fill="url(#g2_18)"/><rect x="111" y="129" width="1" height="60" fill="url(#g2_12)"/><rect x="112" y="129" width="1" height="60" fill="url(#g2_13)"/><rect x="113" y="129" width="1" height="60" fill="url(#g2_33)"/><rect x="114" y="129" width="1" height="60" fill="url(#g2_12)"/><rect x="115" y="129" width="1" height="60" fill="url(#g2_43)"/><rect x="116" y="129" width="1" height="60" fill="url(#g2_33)"/><rect x="117" y="129" width="1" height="60" fill="url(#g2_29)"/><rect x="118" y="129" width="1" height="60" fill="url(#g2_16)"/><rect x="119" y="129" width="1" height="60" fill="url(#g2_36)"/><rect x="120" y="129" width="1" height="60" fill="url(#g2_3)"/><rect x="121" y="129" width="1" height="60" fill="url(#g2_32)"/><rect x="122" y="129" width="1" height="60" fill="url(#g2_15)"/><rect x="123" y="129" width="1" height="60" fill="url(#g2_38)"/><rect x="124" y="129" width="1" height="60" fill="url(#g2_27)"/><rect x="125" y="129" width="1" height="60" fill="url(#g2_13)"/><rect x="126" y="129" width="1" height="60" fill="url(#g2_33)"/><rect x="127" y="129" width="1" height="60" fill="url(#g2_12)"/><rect x="128" y="129" width="1" height="60" fill="url(#g2_34)"/><rect x="129" y="129" width="1" height="60" fill="url(#g2_0)"/><rect x="130" y="129" width="1" height="60" fill="url(#g2_5)"/><rect x="131" y="129" width="1" height="60" fill="url(#g2_16)"/><rect x="132" y="129" width="1" height="60" fill="url(#g2_33)"/><rect x="133" y="129" width="1" height="60" fill="url(#g2_3)"/><rect x="134" y="129" width="1" height="60" fill="url(#g2_32)"/><rect x="135" y="129" width="1" height="60" fill="url(#g2_15)"/><rect x="136" y="129" width="1" height="60" fill="url(#g2_18)"/><rect x="137" y="129" width="1" height="60" fill="url(#g2_24)"/><rect x="138" y="129" width="1" height="60" fill="url(#g2_7)"/><rect x="139" y="129" width="1" height="60" fill="url(#g2_25)"/><rect x="140" y="129" width="1" height="60" fill="url(#g2_41)"/><rect x="141" y="129" width="1" height="60" fill="url(#g2_13)"/><rect x="142" y="129" width="1" height="60" fill="url(#g2_0)"/><rect x="143" y="129" width="1" height="60" fill="url(#g2_29)"/><rect x="144" y="129" width="1" height="60" fill="url(#g2_9)"/><rect x="145" y="129" width="1" height="60" fill="url(#g2_25)"/><rect x="146" y="129" width="1" height="60" fill="url(#g2_20)"/><rect x="147" y="129" width="1" height="60" fill="url(#g2_11)"/><rect x="148" y="129" width="1" height="60" fill="url(#g2_25)"/><rect x="149" y="129" width="1" height="60" fill="url(#g2_31)"/><rect x="150" y="129" width="1" height="60" fill="url(#g2_28)"/><rect x="151" y="129" width="1" height="60" fill="url(#g2_30)"/><rect x="152" y="129" width="1" height="60" fill="url(#g2_33)"/><rect x="153" y="129" width="1" height="60" fill="url(#g2_41)"/><rect x="154" y="129" width="1" height="60" fill="url(#g2_7)"/><rect x="155" y="129" width="1" height="60" fill="url(#g2_25)"/><rect x="156" y="129" width="1" height="60" fill="url(#g2_12)"/><rect x="157" y="129" width="1" height="60" fill="url(#g2_7)"/><rect x="158" y="129" width="1" height="60" fill="url(#g2_25)"/><rect x="159" y="129" width="1" height="60" fill="url(#g2_29)"/><rect x="160" y="129" width="1" height="60" fill="url(#g2_1)"/><rect x="161" y="129" width="1" height="60" fill="url(#g2_18)"/><rect x="162" y="129" width="1" height="60" fill="url(#g2_42)"/><rect x="163" y="129" width="1" height="60" fill="url(#g2_19)"/><rect x="164" y="129" width="1" height="60" fill="url(#g2_0)"/><rect x="165" y="129" width="1" height="60" fill="url(#g2_3)"/><rect x="166" y="129" width="1" height="60" fill="url(#g2_22)"/><rect x="167" y="129" width="1" height="60" fill="url(#g2_30)"/><rect x="168" y="129" width="1" height="60" fill="url(#g2_0)"/><rect x="169" y="129" width="1" height="60" fill="url(#g2_41)"/><rect x="170" y="129" width="1" height="60" fill="url(#g2_7)"/><rect x="171" y="129" width="1" height="60" fill="url(#g2_25)"/><rect x="172" y="129" width="1" height="60" fill="url(#g2_41)"/><rect x="173" y="129" width="1" height="60" fill="url(#g2_6)"/><rect x="174" y="129" width="1" height="60" fill="url(#g2_18)"/><rect x="175" y="129" width="1" height="60" fill="url(#g2_41)"/><rect x="176" y="129" width="1" height="60" fill="url(#g2_39)"/><rect x="177" y="129" width="1" height="60" fill="url(#g2_38)"/><rect x="178" y="129" width="1" height="60" fill="url(#g2_17)"/><rect x="179" y="129" width="1" height="60" fill="url(#g2_1)"/><rect x="180" y="129" width="1" height="60" fill="url(#g2_4)"/><rect x="181" y="129" width="1" height="60" fill="url(#g2_10)"/><rect x="182" y="129" width="1" height="60" fill="url(#g2_19)"/><rect x="183" y="129" width="1" height="60" fill="url(#g2_40)"/><rect x="184" y="129" width="1" height="60" fill="url(#g2_3)"/><rect x="185" y="129" width="1" height="60" fill="url(#g2_2)"/><rect x="186" y="129" width="1" height="60" fill="url(#g2_15)"/><rect x="187" y="129" width="1" height="60" fill="url(#g2_23)"/><rect x="188" y="129" width="1" height="60" fill="url(#g2_24)"/><rect x="189" y="129" width="1" height="60" fill="url(#g2_43)"/><rect x="190" y="129" width="1" height="60" fill="url(#g2_18)"/><rect x="191" y="129" width="1" height="60" fill="url(#g2_37)"/><rect x="192" y="129" width="1" height="60" fill="url(#g2_13)"/><rect x="193" y="129" width="1" height="60" fill="url(#g2_33)"/><rect x="194" y="129" width="1" height="60" fill="url(#g2_12)"/><rect x="195" y="129" width="1" height="60" fill="url(#g2_7)"/><rect x="196" y="129" width="1" height="60" fill="url(#g2_0)"/><rect x="197" y="129" width="1" height="60" fill="url(#g2_29)"/><rect x="198" y="129" width="1" height="60" fill="url(#g2_16)"/><rect x="199" y="129" width="1" height="60" fill="url(#g2_36)"/><rect x="200" y="129" width="1" height="60" fill="url(#g2_5)"/><rect x="201" y="129" width="1" height="60" fill="url(#g2_1)"/><rect x="202" y="129" width="1" height="60" fill="url(#g2_38)"/><rect x="203" y="129" width="1" height="60" fill="url(#g2_10)"/><rect x="204" y="129" width="1" height="60" fill="url(#g2_32)"/><rect x="205" y="129" width="1" height="60" fill="url(#g2_15)"/><rect x="206" y="129" width="1" height="60" fill="url(#g2_10)"/><rect x="207" y="129" width="1" height="60" fill="url(#g2_2)"/><rect x="208" y="129" width="1" height="60" fill="url(#g2_15)"/><rect x="209" y="129" width="1" height="60" fill="url(#g2_4)"/><rect x="210" y="129" width="1" height="60" fill="url(#g2_41)"/><rect x="211" y="129" width="1" height="60" fill="url(#g2_7)"/><rect x="212" y="129" width="1" height="60" fill="url(#g2_4)"/><rect x="213" y="129" width="1" height="60" fill="url(#g2_41)"/><rect x="214" y="129" width="1" height="60" fill="url(#g2_13)"/><rect x="215" y="129" width="1" height="60" fill="url(#g2_25)"/><rect x="216" y="129" width="1" height="60" fill="url(#g2_27)"/><rect x="217" y="129" width="1" height="60" fill="url(#g2_6)"/><rect x="218" y="129" width="1" height="60" fill="url(#g2_18)"/><rect x="219" y="129" width="1" height="60" fill="url(#g2_41)"/><rect x="220" y="129" width="1" height="60" fill="url(#g2_13)"/><rect x="221" y="129" width="1" height="60" fill="url(#g2_0)"/><rect x="222" y="129" width="1" height="60" fill="url(#g2_29)"/><rect x="223" y="129" width="1" height="60" fill="url(#g2_16)"/><rect x="224" y="129" width="1" height="60" fill="url(#g2_36)"/><rect x="225" y="129" width="1" height="60" fill="url(#g2_5)"/><rect x="226" y="129" width="1" height="60" fill="url(#g2_9)"/><rect x="227" y="129" width="1" height="60" fill="url(#g2_33)"/><rect x="228" y="129" width="1" height="60" fill="url(#g2_20)"/><rect x="229" y="129" width="1" height="60" fill="url(#g2_14)"/><rect x="230" y="129" width="1" height="60" fill="url(#g2_4)"/><rect x="231" y="129" width="1" height="60" fill="url(#g2_10)"/><rect x="232" y="129" width="1" height="60" fill="url(#g2_11)"/><rect x="233" y="129" width="1" height="60" fill="url(#g2_30)"/><rect x="234" y="129" width="1" height="60" fill="url(#g2_3)"/><rect x="235" y="129" width="1" height="60" fill="url(#g2_32)"/><rect x="236" y="129" width="1" height="60" fill="url(#g2_15)"/><rect x="237" y="129" width="1" height="60" fill="url(#g2_31)"/><rect x="238" y="129" width="1" height="60" fill="url(#g2_8)"/><rect x="239" y="129" width="1" height="60" fill="url(#g2_15)"/><rect x="240" y="129" width="1" height="60" fill="url(#g2_18)"/><rect x="241" y="129" width="1" height="60" fill="url(#g2_8)"/><rect x="108.49" y="157.42" width="1.1" height="31.18" fill="url(#dk)" opacity="1.00" shape-rendering="auto"/><rect x="126.45" y="158.36" width="1.1" height="30.24" fill="url(#dk)" opacity="0.85" shape-rendering="auto"/></g>
<rect x="40.90" y="129.60" width="200.70" height="59.00" fill="none" stroke="#000" stroke-width="0.7"/>
<path d="M40.90 188.60v3.0M91.07 188.60v3.0M141.25 188.60v3.0M191.43 188.60v3.0M241.60 188.60v3.0M40.90 186.50h-3.0M40.90 177.12h-3.0M40.90 167.74h-3.0M40.90 158.36h-3.0M40.90 148.98h-3.0M40.90 139.60h-3.0" stroke="#000" stroke-width="0.7" fill="none"/>
<text x="40.90" y="200.00" font-size="7.40" text-anchor="middle">0</text>
<text x="91.07" y="200.00" font-size="7.40" text-anchor="middle">5</text>
<text x="141.25" y="200.00" font-size="7.40" text-anchor="middle">10</text>
<text x="191.43" y="200.00" font-size="7.40" text-anchor="middle">15</text>
<text x="241.60" y="200.00" font-size="7.40" text-anchor="middle">20</text>
<text x="35.00" y="189.10" font-size="7.40" text-anchor="end">0</text>
<text x="35.00" y="179.72" font-size="7.40" text-anchor="end">64</text>
<text x="35.00" y="170.34" font-size="7.40" text-anchor="end">128</text>
<text x="35.00" y="160.96" font-size="7.40" text-anchor="end">256</text>
<text x="35.00" y="151.58" font-size="7.40" text-anchor="end">512</text>
<text x="35.00" y="142.20" font-size="7.40" text-anchor="end">1024</text>
<text x="141.25" y="211.60" font-size="8.00" text-anchor="middle">Time (sec)</text>
<text transform="translate(12.30 160.30) rotate(-90)" font-size="8.00" text-anchor="middle">Hz</text>
<text x="141.25" y="125.30" font-size="11.45" text-anchor="middle">systolic and diastolic murmurs</text>
<g clip-path="url(#c3)" shape-rendering="crispEdges"><rect x="342" y="129" width="1" height="60" fill="url(#g3_18)"/><rect x="343" y="129" width="1" height="60" fill="url(#g3_27)"/><rect x="344" y="129" width="1" height="60" fill="url(#g3_29)"/><rect x="345" y="129" width="1" height="60" fill="url(#g3_38)"/><rect x="346" y="129" width="1" height="60" fill="url(#g3_28)"/><rect x="347" y="129" width="1" height="60" fill="url(#g3_4)"/><rect x="348" y="129" width="1" height="60" fill="url(#g3_21)"/><rect x="349" y="129" width="1" height="60" fill="url(#g3_16)"/><rect x="350" y="129" width="1" height="60" fill="url(#g3_17)"/><rect x="351" y="129" width="1" height="60" fill="url(#g3_38)"/><rect x="352" y="129" width="1" height="60" fill="url(#g3_19)"/><rect x="353" y="129" width="1" height="60" fill="url(#g3_27)"/><rect x="354" y="129" width="1" height="60" fill="url(#g3_29)"/><rect x="355" y="129" width="1" height="60" fill="url(#g3_8)"/><rect x="356" y="129" width="1" height="60" fill="url(#g3_42)"/><rect x="357" y="129" width="1" height="60" fill="url(#g3_15)"/><rect x="358" y="129" width="1" height="60" fill="url(#g3_32)"/><rect x="359" y="129" width="1" height="60" fill="url(#g3_36)"/><rect x="360" y="129" width="1" height="60" fill="url(#g3_26)"/><rect x="361" y="129" width="1" height="60" fill="url(#g3_0)"/><rect x="362" y="129" width="1" height="60" fill="url(#g3_19)"/><rect x="363" y="129" width="1" height="60" fill="url(#g3_27)"/><rect x="364" y="129" width="1" height="60" fill="url(#g3_6)"/><rect x="365" y="129" width="1" height="60" fill="url(#g3_32)"/><rect x="366" y="129" width="1" height="60" fill="url(#g3_42)"/><rect x="367" y="129" width="1" height="60" fill="url(#g3_39)"/><rect x="368" y="129" width="1" height="60" fill="url(#g3_32)"/><rect x="369" y="129" width="1" height="60" fill="url(#g3_36)"/><rect x="370" y="129" width="1" height="60" fill="url(#g3_26)"/><rect x="371" y="129" width="1" height="60" fill="url(#g3_38)"/><rect x="372" y="129" width="1" height="60" fill="url(#g3_7)"/><rect x="373" y="129" width="1" height="60" fill="url(#g3_43)"/><rect x="374" y="129" width="1" height="60" fill="url(#g3_24)"/><rect x="375" y="129" width="1" height="60" fill="url(#g3_21)"/><rect x="376" y="129" width="1" height="60" fill="url(#g3_20)"/><rect x="377" y="129" width="1" height="60" fill="url(#g3_4)"/><rect x="378" y="129" width="1" height="60" fill="url(#g3_8)"/><rect x="379" y="129" width="1" height="60" fill="url(#g3_16)"/><rect x="380" y="129" width="1" height="60" fill="url(#g3_2)"/><rect x="381" y="129" width="1" height="60" fill="url(#g3_0)"/><rect x="382" y="129" width="1" height="60" fill="url(#g3_31)"/><rect x="383" y="129" width="1" height="60" fill="url(#g3_9)"/><rect x="384" y="129" width="1" height="60" fill="url(#g3_24)"/><rect x="385" y="129" width="1" height="60" fill="url(#g3_21)"/><rect x="386" y="129" width="1" height="60" fill="url(#g3_42)"/><rect x="387" y="129" width="1" height="60" fill="url(#g3_34)"/><rect x="388" y="129" width="1" height="60" fill="url(#g3_0)"/><rect x="389" y="129" width="1" height="60" fill="url(#g3_35)"/><rect x="390" y="129" width="1" height="60" fill="url(#g3_14)"/><rect x="391" y="129" width="1" height="60" fill="url(#g3_8)"/><rect x="392" y="129" width="1" height="60" fill="url(#g3_7)"/><rect x="393" y="129" width="1" height="60" fill="url(#g3_1)"/><rect x="394" y="129" width="1" height="60" fill="url(#g3_6)"/><rect x="395" y="129" width="1" height="60" fill="url(#g3_32)"/><rect x="396" y="129" width="1" height="60" fill="url(#g3_41)"/><rect x="397" y="129" width="1" height="60" fill="url(#g3_24)"/><rect x="398" y="129" width="1" height="60" fill="url(#g3_38)"/><rect x="399" y="129" width="1" height="60" fill="url(#g3_11)"/><rect x="400" y="129" width="1" height="60" fill="url(#g3_4)"/><rect x="401" y="129" width="1" height="60" fill="url(#g3_21)"/><rect x="402" y="129" width="1" height="60" fill="url(#g3_36)"/><rect x="403" y="129" width="1" height="60" fill="url(#g3_2)"/><rect x="404" y="129" width="1" height="60" fill="url(#g3_32)"/><rect x="405" y="129" width="1" height="60" fill="url(#g3_31)"/><rect x="406" y="129" width="1" height="60" fill="url(#g3_43)"/><rect x="407" y="129" width="1" height="60" fill="url(#g3_29)"/><rect x="408" y="129" width="1" height="60" fill="url(#g3_38)"/><rect x="409" y="129" width="1" height="60" fill="url(#g3_23)"/><rect x="410" y="129" width="1" height="60" fill="url(#g3_4)"/><rect x="411" y="129" width="1" height="60" fill="url(#g3_21)"/><rect x="412" y="129" width="1" height="60" fill="url(#g3_42)"/><rect x="413" y="129" width="1" height="60" fill="url(#g3_34)"/><rect x="414" y="129" width="1" height="60" fill="url(#g3_8)"/><rect x="415" y="129" width="1" height="60" fill="url(#g3_16)"/><rect x="416" y="129" width="1" height="60" fill="url(#g3_26)"/><rect x="417" y="129" width="1" height="60" fill="url(#g3_0)"/><rect x="418" y="129" width="1" height="60" fill="url(#g3_18)"/><rect x="419" y="129" width="1" height="60" fill="url(#g3_12)"/><rect x="420" y="129" width="1" height="60" fill="url(#g3_24)"/><rect x="421" y="129" width="1" height="60" fill="url(#g3_32)"/><rect x="422" y="129" width="1" height="60" fill="url(#g3_20)"/><rect x="423" y="129" width="1" height="60" fill="url(#g3_4)"/><rect x="424" y="129" width="1" height="60" fill="url(#g3_38)"/><rect x="425" y="129" width="1" height="60" fill="url(#g3_11)"/><rect x="426" y="129" width="1" height="60" fill="url(#g3_25)"/><rect x="427" y="129" width="1" height="60" fill="url(#g3_8)"/><rect x="428" y="129" width="1" height="60" fill="url(#g3_3)"/><rect x="429" y="129" width="1" height="60" fill="url(#g3_40)"/><rect x="430" y="129" width="1" height="60" fill="url(#g3_32)"/><rect x="431" y="129" width="1" height="60" fill="url(#g3_31)"/><rect x="432" y="129" width="1" height="60" fill="url(#g3_9)"/><rect x="433" y="129" width="1" height="60" fill="url(#g3_6)"/><rect x="434" y="129" width="1" height="60" fill="url(#g3_0)"/><rect x="435" y="129" width="1" height="60" fill="url(#g3_37)"/><rect x="436" y="129" width="1" height="60" fill="url(#g3_4)"/><rect x="437" y="129" width="1" height="60" fill="url(#g3_21)"/><rect x="438" y="129" width="1" height="60" fill="url(#g3_42)"/><rect x="439" y="129" width="1" height="60" fill="url(#g3_4)"/><rect x="440" y="129" width="1" height="60" fill="url(#g3_21)"/><rect x="441" y="129" width="1" height="60" fill="url(#g3_16)"/><rect x="442" y="129" width="1" height="60" fill="url(#g3_40)"/><rect x="443" y="129" width="1" height="60" fill="url(#g3_0)"/><rect x="444" y="129" width="1" height="60" fill="url(#g3_18)"/><rect x="445" y="129" width="1" height="60" fill="url(#g3_33)"/><rect x="446" y="129" width="1" height="60" fill="url(#g3_24)"/><rect x="447" y="129" width="1" height="60" fill="url(#g3_21)"/><rect x="448" y="129" width="1" height="60" fill="url(#g3_13)"/><rect x="449" y="129" width="1" height="60" fill="url(#g3_4)"/><rect x="450" y="129" width="1" height="60" fill="url(#g3_8)"/><rect x="451" y="129" width="1" height="60" fill="url(#g3_10)"/><rect x="452" y="129" width="1" height="60" fill="url(#g3_34)"/><rect x="453" y="129" width="1" height="60" fill="url(#g3_0)"/><rect x="454" y="129" width="1" height="60" fill="url(#g3_35)"/><rect x="455" y="129" width="1" height="60" fill="url(#g3_14)"/><rect x="456" y="129" width="1" height="60" fill="url(#g3_21)"/><rect x="457" y="129" width="1" height="60" fill="url(#g3_3)"/><rect x="458" y="129" width="1" height="60" fill="url(#g3_40)"/><rect x="459" y="129" width="1" height="60" fill="url(#g3_8)"/><rect x="460" y="129" width="1" height="60" fill="url(#g3_31)"/><rect x="461" y="129" width="1" height="60" fill="url(#g3_43)"/><rect x="462" y="129" width="1" height="60" fill="url(#g3_29)"/><rect x="463" y="129" width="1" height="60" fill="url(#g3_38)"/><rect x="464" y="129" width="1" height="60" fill="url(#g3_13)"/><rect x="465" y="129" width="1" height="60" fill="url(#g3_34)"/><rect x="466" y="129" width="1" height="60" fill="url(#g3_32)"/><rect x="467" y="129" width="1" height="60" fill="url(#g3_10)"/><rect x="468" y="129" width="1" height="60" fill="url(#g3_34)"/><rect x="469" y="129" width="1" height="60" fill="url(#g3_0)"/><rect x="470" y="129" width="1" height="60" fill="url(#g3_5)"/><rect x="471" y="129" width="1" height="60" fill="url(#g3_25)"/><rect x="472" y="129" width="1" height="60" fill="url(#g3_8)"/><rect x="473" y="129" width="1" height="60" fill="url(#g3_3)"/><rect x="474" y="129" width="1" height="60" fill="url(#g3_17)"/><rect x="475" y="129" width="1" height="60" fill="url(#g3_21)"/><rect x="476" y="129" width="1" height="60" fill="url(#g3_7)"/><rect x="477" y="129" width="1" height="60" fill="url(#g3_30)"/><rect x="478" y="129" width="1" height="60" fill="url(#g3_29)"/><rect x="479" y="129" width="1" height="60" fill="url(#g3_19)"/><rect x="480" y="129" width="1" height="60" fill="url(#g3_35)"/><rect x="481" y="129" width="1" height="60" fill="url(#g3_29)"/><rect x="482" y="129" width="1" height="60" fill="url(#g3_21)"/><rect x="483" y="129" width="1" height="60" fill="url(#g3_11)"/><rect x="484" y="129" width="1" height="60" fill="url(#g3_34)"/><rect x="485" y="129" width="1" height="60" fill="url(#g3_32)"/><rect x="486" y="129" width="1" height="60" fill="url(#g3_37)"/><rect x="487" y="129" width="1" height="60" fill="url(#g3_39)"/><rect x="488" y="129" width="1" height="60" fill="url(#g3_38)"/><rect x="489" y="129" width="1" height="60" fill="url(#g3_11)"/><rect x="490" y="129" width="1" height="60" fill="url(#g3_25)"/><rect x="491" y="129" width="1" height="60" fill="url(#g3_21)"/><rect x="492" y="129" width="1" height="60" fill="url(#g3_16)"/><rect x="493" y="129" width="1" height="60" fill="url(#g3_40)"/><rect x="494" y="129" width="1" height="60" fill="url(#g3_32)"/><rect x="495" y="129" width="1" height="60" fill="url(#g3_7)"/><rect x="496" y="129" width="1" height="60" fill="url(#g3_30)"/><rect x="497" y="129" width="1" height="60" fill="url(#g3_0)"/><rect x="498" y="129" width="1" height="60" fill="url(#g3_18)"/><rect x="499" y="129" width="1" height="60" fill="url(#g3_33)"/><rect x="500" y="129" width="1" height="60" fill="url(#g3_6)"/><rect x="501" y="129" width="1" height="60" fill="url(#g3_32)"/><rect x="502" y="129" width="1" height="60" fill="url(#g3_22)"/><rect x="503" y="129" width="1" height="60" fill="url(#g3_4)"/><rect x="504" y="129" width="1" height="60" fill="url(#g3_8)"/><rect x="505" y="129" width="1" height="60" fill="url(#g3_11)"/><rect x="506" y="129" width="1" height="60" fill="url(#g3_24)"/><rect x="507" y="129" width="1" height="60" fill="url(#g3_38)"/><rect x="508" y="129" width="1" height="60" fill="url(#g3_10)"/><rect x="509" y="129" width="1" height="60" fill="url(#g3_39)"/><rect x="510" y="129" width="1" height="60" fill="url(#g3_32)"/><rect x="511" y="129" width="1" height="60" fill="url(#g3_5)"/><rect x="512" y="129" width="1" height="60" fill="url(#g3_4)"/><rect x="513" y="129" width="1" height="60" fill="url(#g3_8)"/><rect x="514" y="129" width="1" height="60" fill="url(#g3_3)"/><rect x="515" y="129" width="1" height="60" fill="url(#g3_40)"/><rect x="516" y="129" width="1" height="60" fill="url(#g3_0)"/><rect x="517" y="129" width="1" height="60" fill="url(#g3_36)"/><rect x="518" y="129" width="1" height="60" fill="url(#g3_17)"/><rect x="519" y="129" width="1" height="60" fill="url(#g3_21)"/><rect x="520" y="129" width="1" height="60" fill="url(#g3_7)"/><rect x="521" y="129" width="1" height="60" fill="url(#g3_1)"/><rect x="522" y="129" width="1" height="60" fill="url(#g3_6)"/><rect x="523" y="129" width="1" height="60" fill="url(#g3_18)"/><rect x="524" y="129" width="1" height="60" fill="url(#g3_33)"/><rect x="525" y="129" width="1" height="60" fill="url(#g3_6)"/><rect x="526" y="129" width="1" height="60" fill="url(#g3_8)"/><rect x="527" y="129" width="1" height="60" fill="url(#g3_13)"/><rect x="528" y="129" width="1" height="60" fill="url(#g3_24)"/><rect x="529" y="129" width="1" height="60" fill="url(#g3_21)"/><rect x="530" y="129" width="1" height="60" fill="url(#g3_42)"/><rect x="531" y="129" width="1" height="60" fill="url(#g3_4)"/><rect x="532" y="129" width="1" height="60" fill="url(#g3_38)"/><rect x="533" y="129" width="1" height="60" fill="url(#g3_5)"/><rect x="534" y="129" width="1" height="60" fill="url(#g3_24)"/><rect x="535" y="129" width="1" height="60" fill="url(#g3_0)"/><rect x="536" y="129" width="1" height="60" fill="url(#g3_5)"/><rect x="537" y="129" width="1" height="60" fill="url(#g3_39)"/><rect x="538" y="129" width="1" height="60" fill="url(#g3_21)"/><rect x="539" y="129" width="1" height="60" fill="url(#g3_37)"/><rect x="540" y="129" width="1" height="60" fill="url(#g3_4)"/><rect x="541" y="129" width="1" height="60" fill="url(#g3_38)"/><rect x="542" y="129" width="1" height="60" fill="url(#g3_5)"/><rect x="409.66" y="159.30" width="1.1" height="29.30" fill="url(#dk)" opacity="1.00" shape-rendering="auto"/><rect x="427.74" y="175.24" width="1.1" height="13.36" fill="url(#dk)" opacity="0.50" shape-rendering="auto"/><rect x="528.39" y="175.24" width="1.1" height="13.36" fill="url(#dk)" opacity="0.50" shape-rendering="auto"/></g>
<rect x="342.10" y="129.60" width="200.90" height="59.00" fill="none" stroke="#000" stroke-width="0.7"/>
<path d="M342.10 188.60v3.0M392.33 188.60v3.0M442.55 188.60v3.0M492.77 188.60v3.0M543.00 188.60v3.0M342.10 186.50h-3.0M342.10 177.12h-3.0M342.10 167.74h-3.0M342.10 158.36h-3.0M342.10 148.98h-3.0M342.10 139.60h-3.0" stroke="#000" stroke-width="0.7" fill="none"/>
<text x="342.10" y="200.00" font-size="7.40" text-anchor="middle">0</text>
<text x="392.33" y="200.00" font-size="7.40" text-anchor="middle">5</text>
<text x="442.55" y="200.00" font-size="7.40" text-anchor="middle">10</text>
<text x="492.77" y="200.00" font-size="7.40" text-anchor="middle">15</text>
<text x="543.00" y="200.00" font-size="7.40" text-anchor="middle">20</text>
<text x="336.20" y="189.10" font-size="7.40" text-anchor="end">0</text>
<text x="336.20" y="179.72" font-size="7.40" text-anchor="end">64</text>
<text x="336.20" y="170.34" font-size="7.40" text-anchor="end">128</text>
<text x="336.20" y="160.96" font-size="7.40" text-anchor="end">256</text>
<text x="336.20" y="151.58" font-size="7.40" text-anchor="end">512</text>
<text x="336.20" y="142.20" font-size="7.40" text-anchor="end">1024</text>
<text x="442.55" y="211.60" font-size="8.00" text-anchor="middle">Time (sec)</text>
<text transform="translate(313.50 160.30) rotate(-90)" font-size="8.00" text-anchor="middle">Hz</text>
<text x="442.55" y="125.30" font-size="11.45" text-anchor="middle">s(systolic and diastolic murmurs)</text>
<g clip-path="url(#c4)" shape-rendering="crispEdges"><rect x="40" y="241" width="1" height="60" fill="url(#g4_36)"/><rect x="41" y="241" width="1" height="60" fill="url(#g4_1)"/><rect x="42" y="241" width="1" height="60" fill="url(#g4_37)"/><rect x="43" y="241" width="1" height="60" fill="url(#g4_2)"/><rect x="44" y="241" width="1" height="60" fill="url(#g4_22)"/><rect x="45" y="241" width="1" height="60" fill="url(#g4_28)"/><rect x="46" y="241" width="1" height="60" fill="url(#g4_36)"/><rect x="47" y="241" width="1" height="60" fill="url(#g4_21)"/><rect x="48" y="241" width="1" height="60" fill="url(#g4_4)"/><rect x="49" y="241" width="1" height="60" fill="url(#g4_29)"/><rect x="50" y="241" width="1" height="60" fill="url(#g4_11)"/><rect x="51" y="241" width="1" height="60" fill="url(#g4_39)"/><rect x="52" y="241" width="1" height="60" fill="url(#g4_31)"/><rect x="53" y="241" width="1" height="60" fill="url(#g4_26)"/><rect x="54" y="241" width="1" height="60" fill="url(#g4_23)"/><rect x="55" y="241" width="1" height="60" fill="url(#g4_10)"/><rect x="56" y="241" width="1" height="60" fill="url(#g4_1)"/><rect x="57" y="241" width="1" height="60" fill="url(#g4_23)"/><rect x="58" y="241" width="1" height="60" fill="url(#g4_31)"/><rect x="59" y="241" width="1" height="60" fill="url(#g4_7)"/><rect x="60" y="241" width="1" height="60" fill="url(#g4_27)"/><rect x="61" y="241" width="1" height="60" fill="url(#g4_36)"/><rect x="62" y="241" width="1" height="60" fill="url(#g4_38)"/><rect x="63" y="241" width="1" height="60" fill="url(#g4_35)"/><rect x="64" y="241" width="1" height="60" fill="url(#g4_3)"/><rect x="65" y="241" width="1" height="60" fill="url(#g4_1)"/><rect x="66" y="241" width="1" height="60" fill="url(#g4_34)"/><rect x="67" y="241" width="1" height="60" fill="url(#g4_3)"/><rect x="68" y="241" width="1" height="60" fill="url(#g4_18)"/><rect x="69" y="241" width="1" height="60" fill="url(#g4_3)"/><rect x="70" y="241" width="1" height="60" fill="url(#g4_13)"/><rect x="71" y="241" width="1" height="60" fill="url(#g4_12)"/><rect x="72" y="241" width="1" height="60" fill="url(#g4_30)"/><rect x="73" y="241" width="1" height="60" fill="url(#g4_34)"/><rect x="74" y="241" width="1" height="60" fill="url(#g4_26)"/><rect x="75" y="241" width="1" height="60" fill="url(#g4_10)"/><rect x="76" y="241" width="1" height="60" fill="url(#g4_23)"/><rect x="77" y="241" width="1" height="60" fill="url(#g4_18)"/><rect x="78" y="241" width="1" height="60" fill="url(#g4_10)"/><rect x="79" y="241" width="1" height="60" fill="url(#g4_39)"/><rect x="80" y="241" width="1" height="60" fill="url(#g4_11)"/><rect x="81" y="241" width="1" height="60" fill="url(#g4_29)"/><rect x="82" y="241" width="1" height="60" fill="url(#g4_37)"/><rect x="83" y="241" width="1" height="60" fill="url(#g4_1)"/><rect x="84" y="241" width="1" height="60" fill="url(#g4_2)"/><rect x="85" y="241" width="1" height="60" fill="url(#g4_15)"/><rect x="86" y="241" width="1" height="60" fill="url(#g4_21)"/><rect x="87" y="241" width="1" height="60" fill="url(#g4_29)"/><rect x="88" y="241" width="2" height="60" fill="url(#g4_14)"/><rect x="90" y="241" width="1" height="60" fill="url(#g4_29)"/><rect x="91" y="241" width="1" height="60" fill="url(#g4_20)"/><rect x="92" y="241" width="1" height="60" fill="url(#g4_17)"/><rect x="93" y="241" width="1" height="60" fill="url(#g4_2)"/><rect x="94" y="241" width="1" height="60" fill="url(#g4_18)"/><rect x="95" y="241" width="1" height="60" fill="url(#g4_15)"/><rect x="96" y="241" width="1" height="60" fill="url(#g4_2)"/><rect x="97" y="241" width="1" height="60" fill="url(#g4_12)"/><rect x="98" y="241" width="1" height="60" fill="url(#g4_16)"/><rect x="99" y="241" width="1" height="60" fill="url(#g4_30)"/><rect x="100" y="241" width="1" height="60" fill="url(#g4_33)"/><rect x="101" y="241" width="1" height="60" fill="url(#g4_27)"/><rect x="102" y="241" width="1" height="60" fill="url(#g4_6)"/><rect x="103" y="241" width="1" height="60" fill="url(#g4_26)"/><rect x="104" y="241" width="1" height="60" fill="url(#g4_3)"/><rect x="105" y="241" width="1" height="60" fill="url(#g4_13)"/><rect x="106" y="241" width="1" height="60" fill="url(#g4_7)"/><rect x="107" y="241" width="1" height="60" fill="url(#g4_30)"/><rect x="108" y="241" width="1" height="60" fill="url(#g4_35)"/><rect x="109" y="241" width="1" height="60" fill="url(#g4_19)"/><rect x="110" y="241" width="1" height="60" fill="url(#g4_5)"/><rect x="111" y="241" width="1" height="60" fill="url(#g4_16)"/><rect x="112" y="241" width="1" height="60" fill="url(#g4_12)"/><rect x="113" y="241" width="1" height="60" fill="url(#g4_2)"/><rect x="114" y="241" width="1" height="60" fill="url(#g4_4)"/><rect x="115" y="241" width="1" height="60" fill="url(#g4_32)"/><rect x="116" y="241" width="1" height="60" fill="url(#g4_29)"/><rect x="117" y="241" width="2" height="60" fill="url(#g4_22)"/><rect x="119" y="241" width="1" height="60" fill="url(#g4_2)"/><rect x="120" y="241" width="1" height="60" fill="url(#g4_24)"/><rect x="121" y="241" width="1" height="60" fill="url(#g4_4)"/><rect x="122" y="241" width="1" height="60" fill="url(#g4_36)"/><rect x="123" y="241" width="1" height="60" fill="url(#g4_7)"/><rect x="124" y="241" width="1" height="60" fill="url(#g4_16)"/><rect x="125" y="241" width="1" height="60" fill="url(#g4_31)"/><rect x="126" y="241" width="1" height="60" fill="url(#g4_11)"/><rect x="127" y="241" width="1" height="60" fill="url(#g4_35)"/><rect x="128" y="241" width="1" height="60" fill="url(#g4_34)"/><rect x="129" y="241" width="1" height="60" fill="url(#g4_18)"/><rect x="130" y="241" width="1" height="60" fill="url(#g4_3)"/><rect x="131" y="241" width="1" height="60" fill="url(#g4_27)"/><rect x="132" y="241" width="1" height="60" fill="url(#g4_12)"/><rect x="133" y="241" width="1" height="60" fill="url(#g4_36)"/><rect x="134" y="241" width="1" height="60" fill="url(#g4_15)"/><rect x="135" y="241" width="1" height="60" fill="url(#g4_21)"/><rect x="136" y="241" width="1" height="60" fill="url(#g4_2)"/><rect x="137" y="241" width="2" height="60" fill="url(#g4_25)"/><rect x="139" y="241" width="1" height="60" fill="url(#g4_29)"/><rect x="140" y="241" width="1" height="60" fill="url(#g4_8)"/><rect x="141" y="241" width="1" height="60" fill="url(#g4_28)"/><rect x="142" y="241" width="1" height="60" fill="url(#g4_36)"/><rect x="143" y="241" width="1" height="60" fill="url(#g4_12)"/><rect x="144" y="241" width="1" height="60" fill="url(#g4_27)"/><rect x="145" y="241" width="1" height="60" fill="url(#g4_30)"/><rect x="146" y="241" width="1" height="60" fill="url(#g4_11)"/><rect x="147" y="241" width="1" height="60" fill="url(#g4_30)"/><rect x="148" y="241" width="1" height="60" fill="url(#g4_13)"/><rect x="149" y="241" width="1" height="60" fill="url(#g4_11)"/><rect x="150" y="241" width="1" height="60" fill="url(#g4_36)"/><rect x="151" y="241" width="1" height="60" fill="url(#g4_4)"/><rect x="152" y="241" width="1" height="60" fill="url(#g4_21)"/><rect x="153" y="241" width="1" height="60" fill="url(#g4_2)"/><rect x="154" y="241" width="2" height="60" fill="url(#g4_20)"/><rect x="156" y="241" width="1" height="60" fill="url(#g4_29)"/><rect x="157" y="241" width="1" height="60" fill="url(#g4_19)"/><rect x="158" y="241" width="1" height="60" fill="url(#g4_39)"/><rect x="159" y="241" width="1" height="60" fill="url(#g4_36)"/><rect x="160" y="241" width="1" height="60" fill="url(#g4_11)"/><rect x="161" y="241" width="1" height="60" fill="url(#g4_13)"/><rect x="162" y="241" width="1" height="60" fill="url(#g4_34)"/><rect x="163" y="241" width="1" height="60" fill="url(#g4_18)"/><rect x="164" y="241" width="1" height="60" fill="url(#g4_3)"/><rect x="165" y="241" width="1" height="60" fill="url(#g4_23)"/><rect x="166" y="241" width="1" height="60" fill="url(#g4_22)"/><rect x="167" y="241" width="1" height="60" fill="url(#g4_31)"/><rect x="168" y="241" width="1" height="60" fill="url(#g4_25)"/><rect x="169" y="241" width="1" height="60" fill="url(#g4_8)"/><rect x="170" y="241" width="1" height="60" fill="url(#g4_5)"/><rect x="171" y="241" width="1" height="60" fill="url(#g4_33)"/><rect x="172" y="241" width="1" height="60" fill="url(#g4_4)"/><rect x="173" y="241" width="1" height="60" fill="url(#g4_10)"/><rect x="174" y="241" width="1" height="60" fill="url(#g4_1)"/><rect x="175" y="241" width="1" height="60" fill="url(#g4_23)"/><rect x="176" y="241" width="1" height="60" fill="url(#g4_13)"/><rect x="177" y="241" width="1" height="60" fill="url(#g4_7)"/><rect x="178" y="241" width="1" height="60" fill="url(#g4_30)"/><rect x="179" y="241" width="1" height="60" fill="url(#g4_23)"/><rect x="180" y="241" width="1" height="60" fill="url(#g4_21)"/><rect x="181" y="241" width="1" height="60" fill="url(#g4_31)"/><rect x="182" y="241" width="2" height="60" fill="url(#g4_0)"/><rect x="184" y="241" width="1" height="60" fill="url(#g4_2)"/><rect x="185" y="241" width="1" height="60" fill="url(#g4_22)"/><rect x="186" y="241" width="1" height="60" fill="url(#g4_28)"/><rect x="187" y="241" width="1" height="60" fill="url(#g4_6)"/><rect x="188" y="241" width="1" height="60" fill="url(#g4_18)"/><rect x="189" y="241" width="2" height="60" fill="url(#g4_34)"/><rect x="191" y="241" width="1" height="60" fill="url(#g4_18)"/><rect x="192" y="241" width="1" height="60" fill="url(#g4_6)"/><rect x="193" y="241" width="1" height="60" fill="url(#g4_16)"/><rect x="194" y="241" width="1" height="60" fill="url(#g4_11)"/><rect x="195" y="241" width="1" height="60" fill="url(#g4_5)"/><rect x="196" y="241" width="1" height="60" fill="url(#g4_22)"/><rect x="197" y="241" width="1" height="60" fill="url(#g4_15)"/><rect x="198" y="241" width="1" height="60" fill="url(#g4_31)"/><rect x="199" y="241" width="1" height="60" fill="url(#g4_12)"/><rect x="200" y="241" width="1" height="60" fill="url(#g4_27)"/><rect x="201" y="241" width="1" height="60" fill="url(#g4_34)"/><rect x="202" y="241" width="1" height="60" fill="url(#g4_18)"/><rect x="203" y="241" width="1" height="60" fill="url(#g4_3)"/><rect x="204" y="241" width="1" height="60" fill="url(#g4_39)"/><rect x="205" y="241" width="1" height="60" fill="url(#g4_19)"/><rect x="206" y="241" width="1" height="60" fill="url(#g4_29)"/><rect x="207" y="241" width="1" height="60" fill="url(#g4_0)"/><rect x="208" y="241" width="1" height="60" fill="url(#g4_9)"/><rect x="209" y="241" width="1" height="60" fill="url(#g4_5)"/><rect x="210" y="241" width="1" height="60" fill="url(#g4_19)"/><rect x="211" y="241" width="1" height="60" fill="url(#g4_35)"/><rect x="212" y="241" width="1" height="60" fill="url(#g4_13)"/><rect x="213" y="241" width="1" height="60" fill="url(#g4_7)"/><rect x="214" y="241" width="1" height="60" fill="url(#g4_30)"/><rect x="215" y="241" width="1" height="60" fill="url(#g4_37)"/><rect x="216" y="241" width="1" height="60" fill="url(#g4_1)"/><rect x="217" y="241" width="1" height="60" fill="url(#g4_31)"/><rect x="218" y="241" width="1" height="60" fill="url(#g4_8)"/><rect x="219" y="241" width="1" height="60" fill="url(#g4_25)"/><rect x="220" y="241" width="1" height="60" fill="url(#g4_10)"/><rect x="221" y="241" width="1" height="60" fill="url(#g4_26)"/><rect x="222" y="241" width="1" height="60" fill="url(#g4_34)"/><rect x="223" y="241" width="1" height="60" fill="url(#g4_35)"/><rect x="224" y="241" width="1" height="60" fill="url(#g4_19)"/><rect x="225" y="241" width="1" height="60" fill="url(#g4_5)"/><rect x="226" y="241" width="1" height="60" fill="url(#g4_16)"/><rect x="227" y="241" width="1" height="60" fill="url(#g4_38)"/><rect x="228" y="241" width="1" height="60" fill="url(#g4_29)"/><rect x="229" y="241" width="1" height="60" fill="url(#g4_12)"/><rect x="230" y="241" width="1" height="60" fill="url(#g4_17)"/><rect x="231" y="241" width="1" height="60" fill="url(#g4_6)"/><rect x="232" y="241" width="1" height="60" fill="url(#g4_24)"/><rect x="233" y="241" width="1" height="60" fill="url(#g4_3)"/><rect x="234" y="241" width="1" height="60" fill="url(#g4_23)"/><rect x="235" y="241" width="1" height="60" fill="url(#g4_26)"/><rect x="236" y="241" width="1" height="60" fill="url(#g4_10)"/><rect x="237" y="241" width="2" height="60" fill="url(#g4_32)"/><rect x="239" y="241" width="1" height="60" fill="url(#g4_5)"/><rect x="240" y="241" width="1" height="60" fill="url(#g4_12)"/><rect x="241" y="241" width="1" height="60" fill="url(#g4_16)"/></g>
<rect x="40.90" y="241.30" width="200.70" height="59.00" fill="none" stroke="#000" stroke-width="0.7"/>
<path d="M40.90 300.30v3.0M85.46 300.30v3.0M130.02 300.30v3.0M174.58 300.30v3.0M219.14 300.30v3.0M40.90 298.20h-3.0M40.90 288.82h-3.0M40.90 279.44h-3.0M40.90 270.06h-3.0M40.90 260.68h-3.0M40.90 251.30h-3.0" stroke="#000" stroke-width="0.7" fill="none"/>
<text x="40.90" y="311.70" font-size="7.40" text-anchor="middle">0</text>
<text x="85.46" y="311.70" font-size="7.40" text-anchor="middle">5</text>
<text x="130.02" y="311.70" font-size="7.40" text-anchor="middle">10</text>
<text x="174.58" y="311.70" font-size="7.40" text-anchor="middle">15</text>
<text x="219.14" y="311.70" font-size="7.40" text-anchor="middle">20</text>
<text x="35.00" y="300.80" font-size="7.40" text-anchor="end">0</text>
<text x="35.00" y="291.42" font-size="7.40" text-anchor="end">64</text>
<text x="35.00" y="282.04" font-size="7.40" text-anchor="end">128</text>
<text x="35.00" y="272.66" font-size="7.40" text-anchor="end">256</text>
<text x="35.00" y="263.28" font-size="7.40" text-anchor="end">512</text>
<text x="35.00" y="253.90" font-size="7.40" text-anchor="end">1024</text>
<text x="141.25" y="323.30" font-size="8.00" text-anchor="middle">Time (sec)</text>
<text transform="translate(12.30 272.00) rotate(-90)" font-size="8.00" text-anchor="middle">Hz</text>
<text x="141.25" y="237.00" font-size="11.45" text-anchor="middle">envelope</text>
<g clip-path="url(#c5)" shape-rendering="crispEdges"><rect x="342" y="241" width="2" height="60" fill="url(#g5_13)"/><rect x="344" y="241" width="1" height="60" fill="url(#g5_0)"/><rect x="345" y="241" width="2" height="60" fill="url(#g5_15)"/><rect x="347" y="241" width="1" height="60" fill="url(#g5_0)"/><rect x="348" y="241" width="2" height="60" fill="url(#g5_11)"/><rect x="350" y="241" width="1" height="60" fill="url(#g5_35)"/><rect x="351" y="241" width="2" height="60" fill="url(#g5_38)"/><rect x="353" y="241" width="1" height="60" fill="url(#g5_35)"/><rect x="354" y="241" width="1" height="60" fill="url(#g5_11)"/><rect x="355" y="241" width="1" height="60" fill="url(#g5_15)"/><rect x="356" y="241" width="1" height="60" fill="url(#g5_0)"/><rect x="357" y="241" width="1" height="60" fill="url(#g5_27)"/><rect x="358" y="241" width="1" height="60" fill="url(#g5_31)"/><rect x="359" y="241" width="1" height="60" fill="url(#g5_35)"/><rect x="360" y="241" width="1" height="60" fill="url(#g5_3)"/><rect x="361" y="241" width="1" height="60" fill="url(#g5_14)"/><rect x="362" y="241" width="1" height="60" fill="url(#g5_35)"/><rect x="363" y="241" width="1" height="60" fill="url(#g5_38)"/><rect x="364" y="241" width="1" height="60" fill="url(#g5_16)"/><rect x="365" y="241" width="1" height="60" fill="url(#g5_0)"/><rect x="366" y="241" width="1" height="60" fill="url(#g5_2)"/><rect x="367" y="241" width="1" height="60" fill="url(#g5_8)"/><rect x="368" y="241" width="1" height="60" fill="url(#g5_18)"/><rect x="369" y="241" width="1" height="60" fill="url(#g5_5)"/><rect x="370" y="241" width="1" height="60" fill="url(#g5_25)"/><rect x="371" y="241" width="1" height="60" fill="url(#g5_0)"/><rect x="372" y="241" width="1" height="60" fill="url(#g5_3)"/><rect x="373" y="241" width="1" height="60" fill="url(#g5_39)"/><rect x="374" y="241" width="1" height="60" fill="url(#g5_18)"/><rect x="375" y="241" width="1" height="60" fill="url(#g5_30)"/><rect x="376" y="241" width="1" height="60" fill="url(#g5_26)"/><rect x="377" y="241" width="1" height="60" fill="url(#g5_36)"/><rect x="378" y="241" width="1" height="60" fill="url(#g5_34)"/><rect x="379" y="241" width="1" height="60" fill="url(#g5_12)"/><rect x="380" y="241" width="1" height="60" fill="url(#g5_23)"/><rect x="381" y="241" width="1" height="60" fill="url(#g5_20)"/><rect x="382" y="241" width="1" height="60" fill="url(#g5_23)"/><rect x="383" y="241" width="1" height="60" fill="url(#g5_12)"/><rect x="384" y="241" width="1" height="60" fill="url(#g5_34)"/><rect x="385" y="241" width="1" height="60" fill="url(#g5_36)"/><rect x="386" y="241" width="1" height="60" fill="url(#g5_17)"/><rect x="387" y="241" width="1" height="60" fill="url(#g5_30)"/><rect x="388" y="241" width="1" height="60" fill="url(#g5_18)"/><rect x="389" y="241" width="1" height="60" fill="url(#g5_16)"/><rect x="390" y="241" width="1" height="60" fill="url(#g5_9)"/><rect x="391" y="241" width="1" height="60" fill="url(#g5_0)"/><rect x="392" y="241" width="1" height="60" fill="url(#g5_16)"/><rect x="393" y="241" width="1" height="60" fill="url(#g5_33)"/><rect x="394" y="241" width="1" height="60" fill="url(#g5_35)"/><rect x="395" y="241" width="1" height="60" fill="url(#g5_13)"/><rect x="396" y="241" width="1" height="60" fill="url(#g5_27)"/><rect x="397" y="241" width="1" height="60" fill="url(#g5_0)"/><rect x="398" y="241" width="2" height="60" fill="url(#g5_19)"/><rect x="400" y="241" width="1" height="60" fill="url(#g5_35)"/><rect x="401" y="241" width="1" height="60" fill="url(#g5_15)"/><rect x="402" y="241" width="1" height="60" fill="url(#g5_14)"/><rect x="403" y="241" width="1" height="60" fill="url(#g5_0)"/><rect x="404" y="241" width="1" height="60" fill="url(#g5_24)"/><rect x="405" y="241" width="1" height="60" fill="url(#g5_14)"/><rect x="406" y="241" width="1" height="60" fill="url(#g5_0)"/><rect x="407" y="241" width="1" height="60" fill="url(#g5_7)"/><rect x="408" y="241" width="1" height="60" fill="url(#g5_17)"/><rect x="409" y="241" width="1" height="60" fill="url(#g5_23)"/><rect x="410" y="241" width="1" height="60" fill="url(#g5_22)"/><rect x="411" y="241" width="1" height="60" fill="url(#g5_10)"/><rect x="412" y="241" width="1" height="60" fill="url(#g5_4)"/><rect x="413" y="241" width="1" height="60" fill="url(#g5_20)"/><rect x="414" y="241" width="1" height="60" fill="url(#g5_4)"/><rect x="415" y="241" width="1" height="60" fill="url(#g5_26)"/><rect x="416" y="241" width="1" height="60" fill="url(#g5_7)"/><rect x="417" y="241" width="1" height="60" fill="url(#g5_18)"/><rect x="418" y="241" width="1" height="60" fill="url(#g5_25)"/><rect x="419" y="241" width="1" height="60" fill="url(#g5_27)"/><rect x="420" y="241" width="1" height="60" fill="url(#g5_0)"/><rect x="421" y="241" width="1" height="60" fill="url(#g5_14)"/><rect x="422" y="241" width="1" height="60" fill="url(#g5_7)"/><rect x="423" y="241" width="1" height="60" fill="url(#g5_35)"/><rect x="424" y="241" width="2" height="60" fill="url(#g5_28)"/><rect x="426" y="241" width="1" height="60" fill="url(#g5_35)"/><rect x="427" y="241" width="1" height="60" fill="url(#g5_33)"/><rect x="428" y="241" width="1" height="60" fill="url(#g5_1)"/><rect x="429" y="241" width="1" height="60" fill="url(#g5_18)"/><rect x="430" y="241" width="1" height="60" fill="url(#g5_34)"/><rect x="431" y="241" width="1" height="60" fill="url(#g5_25)"/><rect x="432" y="241" width="1" height="60" fill="url(#g5_18)"/><rect x="433" y="241" width="1" height="60" fill="url(#g5_3)"/><rect x="434" y="241" width="1" height="60" fill="url(#g5_4)"/><rect x="435" y="241" width="1" height="60" fill="url(#g5_12)"/><rect x="436" y="241" width="1" height="60" fill="url(#g5_30)"/><rect x="437" y="241" width="1" height="60" fill="url(#g5_36)"/><rect x="438" y="241" width="1" height="60" fill="url(#g5_17)"/><rect x="439" y="241" width="1" height="60" fill="url(#g5_7)"/><rect x="440" y="241" width="1" height="60" fill="url(#g5_0)"/><rect x="441" y="241" width="1" height="60" fill="url(#g5_37)"/><rect x="442" y="241" width="1" height="60" fill="url(#g5_15)"/><rect x="443" y="241" width="1" height="60" fill="url(#g5_35)"/><rect x="444" y="241" width="1" height="60" fill="url(#g5_19)"/><rect x="445" y="241" width="1" height="60" fill="url(#g5_14)"/><rect x="446" y="241" width="1" height="60" fill="url(#g5_35)"/><rect x="447" y="241" width="1" height="60" fill="url(#g5_3)"/><rect x="448" y="241" width="1" height="60" fill="url(#g5_16)"/><rect x="449" y="241" width="1" height="60" fill="url(#g5_0)"/><rect x="450" y="241" width="1" height="60" fill="url(#g5_9)"/><rect x="451" y="241" width="1" height="60" fill="url(#g5_39)"/><rect x="452" y="241" width="1" height="60" fill="url(#g5_21)"/><rect x="453" y="241" width="1" height="60" fill="url(#g5_30)"/><rect x="454" y="241" width="1" height="60" fill="url(#g5_21)"/><rect x="455" y="241" width="1" height="60" fill="url(#g5_39)"/><rect x="456" y="241" width="1" height="60" fill="url(#g5_3)"/><rect x="457" y="241" width="1" height="60" fill="url(#g5_0)"/><rect x="458" y="241" width="1" height="60" fill="url(#g5_16)"/><rect x="459" y="241" width="1" height="60" fill="url(#g5_32)"/><rect x="460" y="241" width="1" height="60" fill="url(#g5_35)"/><rect x="461" y="241" width="1" height="60" fill="url(#g5_19)"/><rect x="462" y="241" width="1" height="60" fill="url(#g5_29)"/><rect x="463" y="241" width="1" height="60" fill="url(#g5_18)"/><rect x="464" y="241" width="1" height="60" fill="url(#g5_34)"/><rect x="465" y="241" width="1" height="60" fill="url(#g5_8)"/><rect x="466" y="241" width="1" height="60" fill="url(#g5_18)"/><rect x="467" y="241" width="1" height="60" fill="url(#g5_27)"/><rect x="468" y="241" width="1" height="60" fill="url(#g5_12)"/><rect x="469" y="241" width="1" height="60" fill="url(#g5_21)"/><rect x="470" y="241" width="1" height="60" fill="url(#g5_24)"/><rect x="471" y="241" width="1" height="60" fill="url(#g5_18)"/><rect x="472" y="241" width="1" height="60" fill="url(#g5_37)"/><rect x="473" y="241" width="1" height="60" fill="url(#g5_7)"/><rect x="474" y="241" width="1" height="60" fill="url(#g5_0)"/><rect x="475" y="241" width="2" height="60" fill="url(#g5_31)"/><rect x="477" y="241" width="1" height="60" fill="url(#g5_0)"/><rect x="478" y="241" width="1" height="60" fill="url(#g5_3)"/><rect x="479" y="241" width="1" height="60" fill="url(#g5_1)"/><rect x="480" y="241" width="1" height="60" fill="url(#g5_36)"/><rect x="481" y="241" width="1" height="60" fill="url(#g5_30)"/><rect x="482" y="241" width="1" height="60" fill="url(#g5_26)"/><rect x="483" y="241" width="1" height="60" fill="url(#g5_10)"/><rect x="484" y="241" width="1" height="60" fill="url(#g5_22)"/><rect x="485" y="241" width="1" height="60" fill="url(#g5_23)"/><rect x="486" y="241" width="1" height="60" fill="url(#g5_25)"/><rect x="487" y="241" width="1" height="60" fill="url(#g5_11)"/><rect x="488" y="241" width="1" height="60" fill="url(#g5_0)"/><rect x="489" y="241" width="1" height="60" fill="url(#g5_27)"/><rect x="490" y="241" width="1" height="60" fill="url(#g5_31)"/><rect x="491" y="241" width="1" height="60" fill="url(#g5_18)"/><rect x="492" y="241" width="1" height="60" fill="url(#g5_5)"/><rect x="493" y="241" width="1" height="60" fill="url(#g5_25)"/><rect x="494" y="241" width="1" height="60" fill="url(#g5_4)"/><rect x="495" y="241" width="1" height="60" fill="url(#g5_20)"/><rect x="496" y="241" width="1" height="60" fill="url(#g5_4)"/><rect x="497" y="241" width="1" height="60" fill="url(#g5_25)"/><rect x="498" y="241" width="1" height="60" fill="url(#g5_24)"/><rect x="499" y="241" width="1" height="60" fill="url(#g5_18)"/><rect x="500" y="241" width="2" height="60" fill="url(#g5_19)"/><rect x="502" y="241" width="1" height="60" fill="url(#g5_0)"/><rect x="503" y="241" width="1" height="60" fill="url(#g5_34)"/><rect x="504" y="241" width="1" height="60" fill="url(#g5_8)"/><rect x="505" y="241" width="1" height="60" fill="url(#g5_23)"/><rect x="506" y="241" width="1" height="60" fill="url(#g5_22)"/><rect x="507" y="241" width="1" height="60" fill="url(#g5_23)"/><rect x="508" y="241" width="1" height="60" fill="url(#g5_10)"/><rect x="509" y="241" width="1" height="60" fill="url(#g5_22)"/><rect x="510" y="241" width="1" height="60" fill="url(#g5_35)"/><rect x="511" y="241" width="1" height="60" fill="url(#g5_29)"/><rect x="512" y="241" width="1" height="60" fill="url(#g5_38)"/><rect x="513" y="241" width="1" height="60" fill="url(#g5_35)"/><rect x="514" y="241" width="1" height="60" fill="url(#g5_9)"/><rect x="515" y="241" width="1" height="60" fill="url(#g5_1)"/><rect x="516" y="241" width="1" height="60" fill="url(#g5_36)"/><rect x="517" y="241" width="1" height="60" fill="url(#g5_6)"/><rect x="518" y="241" width="1" height="60" fill="url(#g5_12)"/><rect x="519" y="241" width="1" height="60" fill="url(#g5_17)"/><rect x="520" y="241" width="1" height="60" fill="url(#g5_24)"/><rect x="521" y="241" width="1" height="60" fill="url(#g5_18)"/><rect x="522" y="241" width="1" height="60" fill="url(#g5_15)"/><rect x="523" y="241" width="1" height="60" fill="url(#g5_11)"/><rect x="524" y="241" width="1" height="60" fill="url(#g5_0)"/><rect x="525" y="241" width="1" height="60" fill="url(#g5_32)"/><rect x="526" y="241" width="1" height="60" fill="url(#g5_10)"/><rect x="527" y="241" width="1" height="60" fill="url(#g5_23)"/><rect x="528" y="241" width="1" height="60" fill="url(#g5_9)"/><rect x="529" y="241" width="1" height="60" fill="url(#g5_23)"/><rect x="530" y="241" width="1" height="60" fill="url(#g5_16)"/><rect x="531" y="241" width="1" height="60" fill="url(#g5_3)"/><rect x="532" y="241" width="1" height="60" fill="url(#g5_35)"/><rect x="533" y="241" width="1" height="60" fill="url(#g5_15)"/><rect x="534" y="241" width="1" height="60" fill="url(#g5_8)"/><rect x="535" y="241" width="1" height="60" fill="url(#g5_18)"/><rect x="536" y="241" width="1" height="60" fill="url(#g5_5)"/><rect x="537" y="241" width="1" height="60" fill="url(#g5_25)"/><rect x="538" y="241" width="1" height="60" fill="url(#g5_21)"/><rect x="539" y="241" width="1" height="60" fill="url(#g5_24)"/><rect x="540" y="241" width="1" height="60" fill="url(#g5_36)"/><rect x="541" y="241" width="1" height="60" fill="url(#g5_1)"/><rect x="542" y="241" width="1" height="60" fill="url(#g5_3)"/></g>
<rect x="342.10" y="241.30" width="200.90" height="59.00" fill="none" stroke="#000" stroke-width="0.7"/>
<path d="M342.10 300.30v3.0M386.70 300.30v3.0M431.31 300.30v3.0M475.91 300.30v3.0M520.52 300.30v3.0M342.10 298.20h-3.0M342.10 288.82h-3.0M342.10 279.44h-3.0M342.10 270.06h-3.0M342.10 260.68h-3.0M342.10 251.30h-3.0" stroke="#000" stroke-width="0.7" fill="none"/>
<text x="342.10" y="311.70" font-size="7.40" text-anchor="middle">0</text>
<text x="386.70" y="311.70" font-size="7.40" text-anchor="middle">5</text>
<text x="431.31" y="311.70" font-size="7.40" text-anchor="middle">10</text>
<text x="475.91" y="311.70" font-size="7.40" text-anchor="middle">15</text>
<text x="520.52" y="311.70" font-size="7.40" text-anchor="middle">20</text>
<text x="336.20" y="300.80" font-size="7.40" text-anchor="end">0</text>
<text x="336.20" y="291.42" font-size="7.40" text-anchor="end">64</text>
<text x="336.20" y="282.04" font-size="7.40" text-anchor="end">128</text>
<text x="336.20" y="272.66" font-size="7.40" text-anchor="end">256</text>
<text x="336.20" y="263.28" font-size="7.40" text-anchor="end">512</text>
<text x="336.20" y="253.90" font-size="7.40" text-anchor="end">1024</text>
<text x="442.55" y="323.30" font-size="8.00" text-anchor="middle">Time (sec)</text>
<text transform="translate(313.50 272.00) rotate(-90)" font-size="8.00" text-anchor="middle">Hz</text>
<text x="442.55" y="237.00" font-size="11.45" text-anchor="middle">s(envelope)</text>
</svg>
</body></html>
